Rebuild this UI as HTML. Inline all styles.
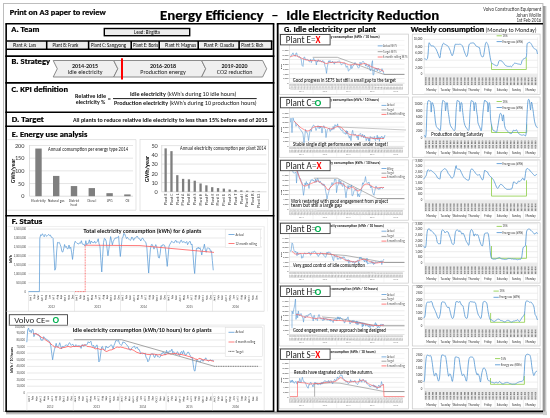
<!DOCTYPE html>
<html><head><meta charset="utf-8"><title>Energy Efficiency - Idle Electricity Reduction</title>
<style>
html,body{margin:0;padding:0;background:#fff;}
body{width:550px;height:418px;overflow:hidden;}
svg{display:block;font-family:Carlito, 'Liberation Sans', sans-serif;}
</style></head><body>
<svg width="550" height="418" viewBox="0 0 550 418">
<filter id="soft" x="0" y="0" width="550" height="418" filterUnits="userSpaceOnUse"><feGaussianBlur stdDeviation="0.35"/></filter>
<g filter="url(#soft)">
<defs><linearGradient id="shr" x1="0" y1="0" x2="1" y2="0"><stop offset="0" stop-color="#6f6f6f"/><stop offset="0.45" stop-color="#a8a8a8"/><stop offset="1" stop-color="#fff"/></linearGradient><linearGradient id="shb" x1="0" y1="0" x2="0" y2="1"><stop offset="0" stop-color="#777"/><stop offset="0.45" stop-color="#b0b0b0"/><stop offset="1" stop-color="#fff"/></linearGradient></defs>
<rect x="0" y="0" width="550" height="418" fill="#fff"/>
<rect x="543" y="6" width="4" height="406" fill="url(#shr)"/>
<rect x="6" y="411.5" width="537" height="3.6" fill="url(#shb)"/>
<path d="M543,411.5 L547,411.5 L547,415.1 L543,415.1 Z" fill="#d0d0d0"/>
<rect x="3.5" y="3.5" width="539.4" height="408" fill="#fff" stroke="#bdbdbd" stroke-width="1"/>
<text x="9.8" y="14.8" font-size="8.45" fill="#000" font-weight="bold" textLength="96" lengthAdjust="spacingAndGlyphs" stroke="#000" stroke-width="0.22">Print on A3 paper to review</text>
<text x="160" y="20.3" font-size="14.8" fill="#000" font-weight="bold" textLength="103.5" lengthAdjust="spacingAndGlyphs" stroke="#000" stroke-width="0.22">Energy Efficiency</text>
<text x="274.9" y="20.3" font-size="14.8" fill="#000" text-anchor="middle" font-weight="bold">–</text>
<text x="286.3" y="20.3" font-size="14.8" fill="#000" font-weight="bold" textLength="153" lengthAdjust="spacingAndGlyphs" stroke="#000" stroke-width="0.22">Idle Electricity Reduction</text>
<text x="541.3" y="11" font-size="4.9" fill="#333" text-anchor="end" textLength="58" lengthAdjust="spacingAndGlyphs">Volvo Construction Equipment</text>
<text x="541.3" y="16.5" font-size="4.9" fill="#333" text-anchor="end" textLength="25" lengthAdjust="spacingAndGlyphs">Johan Wollin</text>
<text x="541.3" y="21.7" font-size="4.9" fill="#333" text-anchor="end" textLength="24.8" lengthAdjust="spacingAndGlyphs">1st Feb 2016</text>
<line x1="6.15" y1="23.7" x2="6.15" y2="411.3" stroke="#000" stroke-width="1.6"/>
<line x1="273.55" y1="23.7" x2="273.55" y2="411.3" stroke="#000" stroke-width="1.6"/>
<line x1="5.35" y1="23.7" x2="274.35" y2="23.7" stroke="#000" stroke-width="1.6"/>
<line x1="5.35" y1="411.2" x2="274.35" y2="411.2" stroke="#000" stroke-width="1.6"/>
<line x1="5.35" y1="56.1" x2="274.35" y2="56.1" stroke="#000" stroke-width="1.6"/>
<line x1="5.35" y1="82.9" x2="274.35" y2="82.9" stroke="#000" stroke-width="1.6"/>
<line x1="5.35" y1="112.3" x2="274.35" y2="112.3" stroke="#000" stroke-width="1.6"/>
<line x1="5.35" y1="126.3" x2="274.35" y2="126.3" stroke="#000" stroke-width="1.6"/>
<line x1="5.35" y1="215.7" x2="274.35" y2="215.7" stroke="#000" stroke-width="1.6"/>
<line x1="277.7" y1="23.7" x2="277.7" y2="411.3" stroke="#000" stroke-width="1.8"/>
<line x1="276.8" y1="23.7" x2="543" y2="23.7" stroke="#000" stroke-width="1.6"/>
<line x1="276.8" y1="411.2" x2="543" y2="411.2" stroke="#000" stroke-width="1.6"/>
<text x="11.2" y="31.7" font-size="8.5" fill="#000" font-weight="bold" textLength="28.3" lengthAdjust="spacingAndGlyphs" stroke="#000" stroke-width="0.22">A. Team</text>
<rect x="104.3" y="28.5" width="85.4" height="7.2" fill="#ededed" stroke="#000" stroke-width="1.4"/>
<text x="134.1" y="33.9" font-size="4.9" fill="#000" textLength="25.8" lengthAdjust="spacingAndGlyphs">Lead: Birgitta</text>
<rect x="8.2" y="42" width="37.2" height="6.2" fill="#eeeeee"/>
<text x="12.9" y="46.5" font-size="5" fill="#000" textLength="23.3" lengthAdjust="spacingAndGlyphs">Plant A: Lars</text>
<rect x="48" y="42" width="39.3" height="6.2" fill="#eeeeee"/>
<text x="52.4" y="46.5" font-size="5" fill="#000" textLength="26.1" lengthAdjust="spacingAndGlyphs">Plant B: Frank</text>
<rect x="89.9" y="42" width="40" height="6.2" fill="#eeeeee"/>
<text x="91" y="46.5" font-size="5" fill="#000" textLength="35" lengthAdjust="spacingAndGlyphs">Plant C: Sangyong</text>
<rect x="132.5" y="42" width="25.4" height="6.2" fill="#eeeeee"/>
<text x="133" y="46.5" font-size="5" fill="#000" textLength="25" lengthAdjust="spacingAndGlyphs">Plant E: Boris</text>
<rect x="160.5" y="42" width="36.4" height="6.2" fill="#eeeeee"/>
<text x="164.9" y="46.5" font-size="5" fill="#000" textLength="31.2" lengthAdjust="spacingAndGlyphs">Plant H: Magnus</text>
<rect x="199.5" y="42" width="38.3" height="6.2" fill="#eeeeee"/>
<text x="203.7" y="46.5" font-size="5" fill="#000" textLength="30.6" lengthAdjust="spacingAndGlyphs">Plant P: Claudia</text>
<rect x="240.4" y="42" width="29.9" height="6.2" fill="#eeeeee"/>
<text x="241.3" y="46.5" font-size="5" fill="#000" textLength="22.1" lengthAdjust="spacingAndGlyphs">Plant S: Rich</text>
<line x1="6.5" y1="40.9" x2="272.4" y2="40.9" stroke="#000" stroke-width="1.5"/>
<line x1="6.5" y1="49.3" x2="272.4" y2="49.3" stroke="#000" stroke-width="1.5"/>
<line x1="46.7" y1="40.9" x2="46.7" y2="49.3" stroke="#000" stroke-width="1.6"/>
<line x1="88.6" y1="40.9" x2="88.6" y2="49.3" stroke="#000" stroke-width="1.6"/>
<line x1="131.2" y1="40.9" x2="131.2" y2="49.3" stroke="#000" stroke-width="1.6"/>
<line x1="159.2" y1="40.9" x2="159.2" y2="49.3" stroke="#000" stroke-width="1.6"/>
<line x1="198.2" y1="40.9" x2="198.2" y2="49.3" stroke="#000" stroke-width="1.6"/>
<line x1="239.1" y1="40.9" x2="239.1" y2="49.3" stroke="#000" stroke-width="1.6"/>
<line x1="271.6" y1="40.9" x2="271.6" y2="49.3" stroke="#000" stroke-width="1.6"/>
<text x="11.5" y="63.6" font-size="8.6" fill="#000" font-weight="bold" textLength="38.6" lengthAdjust="spacingAndGlyphs" stroke="#000" stroke-width="0.22">B. Strategy</text>
<path d="M53.2,60.5 L113.7,60.5 L117.8,68.75 L113.7,77 L53.2,77 L57.3,68.75 Z" fill="#efefef" stroke="#7f7f7f" stroke-width="0.9"/>
<path d="M113.7,60.5 L201.6,60.5 L205.7,68.75 L201.6,77 L113.7,77 L117.8,68.75 Z" fill="#efefef" stroke="#7f7f7f" stroke-width="0.9"/>
<path d="M201.6,60.5 L262.6,60.5 L266.7,68.75 L262.6,77 L201.6,77 L205.7,68.75 Z" fill="#efefef" stroke="#7f7f7f" stroke-width="0.9"/>
<text x="85.1" y="67.6" font-size="6" fill="#222" text-anchor="middle" font-weight="bold">2014-2015</text>
<text x="85.1" y="73.9" font-size="6.1" fill="#222" text-anchor="middle">Idle electricity</text>
<text x="163" y="67.6" font-size="6" fill="#222" text-anchor="middle" font-weight="bold">2016-2018</text>
<text x="163" y="73.9" font-size="6.1" fill="#222" text-anchor="middle">Production energy</text>
<text x="234.6" y="67.6" font-size="6" fill="#222" text-anchor="middle" font-weight="bold">2019-2020</text>
<text x="234.6" y="73.9" font-size="6.1" fill="#222" text-anchor="middle">CO2 reduction</text>
<line x1="122" y1="58.2" x2="122" y2="79.6" stroke="#ff0000" stroke-width="2"/>
<text x="11.5" y="92.2" font-size="8.55" fill="#000" font-weight="bold" textLength="56.5" lengthAdjust="spacingAndGlyphs" stroke="#000" stroke-width="0.22">C. KPI definition</text>
<text x="90.5" y="97.5" font-size="6" fill="#111" text-anchor="middle" font-weight="bold" textLength="31" lengthAdjust="spacingAndGlyphs">Relative idle</text>
<text x="90.5" y="103.9" font-size="6" fill="#111" text-anchor="middle" font-weight="bold" textLength="29.5" lengthAdjust="spacingAndGlyphs">electricity %</text>
<text x="109.2" y="100.6" font-size="6" fill="#111" text-anchor="middle" font-weight="bold">=</text>
<line x1="113" y1="98.6" x2="256.7" y2="98.6" stroke="#000" stroke-width="0.9"/>
<text x="130" y="95.5" font-size="6.05" fill="#111" textLength="106.4" lengthAdjust="spacingAndGlyphs"><tspan font-weight="bold">Idle electricity</tspan> (kWh’s during 10 idle hours)</text>
<text x="114" y="105.4" font-size="6.05" fill="#111" textLength="142.7" lengthAdjust="spacingAndGlyphs"><tspan font-weight="bold">Production electricity</tspan> (kWh’s during 10 production hours)</text>
<text x="11.7" y="121.9" font-size="8.7" fill="#000" font-weight="bold" textLength="32.1" lengthAdjust="spacingAndGlyphs" stroke="#000" stroke-width="0.22">D. Target</text>
<text x="73" y="121.6" font-size="5.95" fill="#111" font-weight="bold" textLength="194.6" lengthAdjust="spacingAndGlyphs">All plants to reduce relative idle electricity to less than 15% before end of 2015</text>
<text x="11.7" y="137" font-size="8.45" fill="#000" font-weight="bold" textLength="75.6" lengthAdjust="spacingAndGlyphs" stroke="#000" stroke-width="0.22">E. Energy use analysis</text>
<line x1="7.5" y1="139.6" x2="136" y2="139.6" stroke="#d9d9d9" stroke-width="0.7"/>
<line x1="136" y1="139.6" x2="136" y2="210.2" stroke="#d9d9d9" stroke-width="0.7"/>
<line x1="7.5" y1="210.2" x2="136" y2="210.2" stroke="#d9d9d9" stroke-width="0.7"/>
<line x1="29.5" y1="183.52" x2="133" y2="183.52" stroke="#dadada" stroke-width="0.7"/>
<line x1="29.5" y1="170.85" x2="133" y2="170.85" stroke="#dadada" stroke-width="0.7"/>
<line x1="29.5" y1="158.18" x2="133" y2="158.18" stroke="#dadada" stroke-width="0.7"/>
<line x1="29.5" y1="145.5" x2="133" y2="145.5" stroke="#dadada" stroke-width="0.7"/>
<line x1="29.5" y1="145" x2="29.5" y2="196.2" stroke="#d0d0d0" stroke-width="0.7"/>
<line x1="29.5" y1="196.2" x2="133" y2="196.2" stroke="#d0d0d0" stroke-width="0.7"/>
<text x="24.5" y="198.4" font-size="6.3" fill="#404040" text-anchor="end">0</text>
<text x="24.5" y="185.72" font-size="6.3" fill="#404040" text-anchor="end">50</text>
<text x="24.5" y="173.05" font-size="6.3" fill="#404040" text-anchor="end">100</text>
<text x="24.5" y="160.38" font-size="6.3" fill="#404040" text-anchor="end">150</text>
<text x="24.5" y="147.7" font-size="6.3" fill="#404040" text-anchor="end">200</text>
<rect x="35.3" y="148.54" width="6.4" height="47.66" fill="#7f7f7f"/>
<rect x="53" y="175.92" width="6.4" height="20.28" fill="#7f7f7f"/>
<rect x="70.8" y="186.06" width="6.4" height="10.14" fill="#7f7f7f"/>
<rect x="88.6" y="188.09" width="6.4" height="8.11" fill="#7f7f7f"/>
<rect x="106.4" y="193.16" width="6.4" height="3.04" fill="#7f7f7f"/>
<rect x="124.2" y="194.43" width="6.4" height="1.77" fill="#7f7f7f"/>
<text x="38.5" y="202.3" font-size="3.6" fill="#404040" text-anchor="middle">Electricity</text>
<text x="56.2" y="202.3" font-size="3.6" fill="#404040" text-anchor="middle">Natural gas</text>
<text x="74" y="202.3" font-size="3.6" fill="#404040" text-anchor="middle">District</text>
<text x="91.8" y="202.3" font-size="3.6" fill="#404040" text-anchor="middle">Diesel</text>
<text x="109.6" y="202.3" font-size="3.6" fill="#404040" text-anchor="middle">LPG</text>
<text x="127.4" y="202.3" font-size="3.6" fill="#404040" text-anchor="middle">Oil</text>
<text x="73.9" y="206.3" font-size="3.6" fill="#404040" text-anchor="middle">heat</text>
<text x="14.6" y="170.9" font-size="6.2" fill="#111" text-anchor="middle" font-weight="bold" textLength="24.5" lengthAdjust="spacingAndGlyphs" transform="rotate(-90 14.6 170.9)">GWh/year</text>
<text x="48" y="150.8" font-size="4.9" fill="#222" textLength="80" lengthAdjust="spacingAndGlyphs">Annual consumption per energy type 2014</text>
<rect x="140" y="139.5" width="128.5" height="71.3" fill="none" stroke="#d9d9d9" stroke-width="0.7"/>
<line x1="161.7" y1="182.56" x2="266.5" y2="182.56" stroke="#dadada" stroke-width="0.7"/>
<line x1="161.7" y1="173.32" x2="266.5" y2="173.32" stroke="#dadada" stroke-width="0.7"/>
<line x1="161.7" y1="164.08" x2="266.5" y2="164.08" stroke="#dadada" stroke-width="0.7"/>
<line x1="161.7" y1="154.84" x2="266.5" y2="154.84" stroke="#dadada" stroke-width="0.7"/>
<line x1="161.7" y1="145.6" x2="266.5" y2="145.6" stroke="#dadada" stroke-width="0.7"/>
<line x1="161.7" y1="145" x2="161.7" y2="191.8" stroke="#d0d0d0" stroke-width="0.7"/>
<line x1="161.7" y1="191.8" x2="266.5" y2="191.8" stroke="#d0d0d0" stroke-width="0.7"/>
<text x="157.8" y="194" font-size="6.3" fill="#404040" text-anchor="end">0</text>
<text x="157.8" y="184.76" font-size="6.3" fill="#404040" text-anchor="end">10</text>
<text x="157.8" y="175.52" font-size="6.3" fill="#404040" text-anchor="end">20</text>
<text x="157.8" y="166.28" font-size="6.3" fill="#404040" text-anchor="end">30</text>
<text x="157.8" y="157.04" font-size="6.3" fill="#404040" text-anchor="end">40</text>
<text x="157.8" y="147.8" font-size="6.3" fill="#404040" text-anchor="end">50</text>
<rect x="164.5" y="148.37" width="2.3" height="43.43" fill="#7f7f7f"/>
<text x="167" y="193.6" font-size="4.1" fill="#404040" text-anchor="end" transform="rotate(-90 167 193.6)">Plant E</text>
<rect x="170.32" y="151.14" width="2.3" height="40.66" fill="#7f7f7f"/>
<text x="172.82" y="193.6" font-size="4.1" fill="#404040" text-anchor="end" transform="rotate(-90 172.82 193.6)">Plant C</text>
<rect x="176.14" y="175.17" width="2.3" height="16.63" fill="#7f7f7f"/>
<text x="178.64" y="193.6" font-size="4.1" fill="#404040" text-anchor="end" transform="rotate(-90 178.64 193.6)">Plant L</text>
<rect x="181.96" y="178.86" width="2.3" height="12.94" fill="#7f7f7f"/>
<text x="184.46" y="193.6" font-size="4.1" fill="#404040" text-anchor="end" transform="rotate(-90 184.46 193.6)">Plant A</text>
<rect x="187.78" y="179.33" width="2.3" height="12.47" fill="#7f7f7f"/>
<text x="190.28" y="193.6" font-size="4.1" fill="#404040" text-anchor="end" transform="rotate(-90 190.28 193.6)">Plant B</text>
<rect x="193.6" y="180.71" width="2.3" height="11.09" fill="#7f7f7f"/>
<text x="196.1" y="193.6" font-size="4.1" fill="#404040" text-anchor="end" transform="rotate(-90 196.1 193.6)">Plant S</text>
<rect x="199.42" y="183.48" width="2.3" height="8.32" fill="#7f7f7f"/>
<text x="201.92" y="193.6" font-size="4.1" fill="#404040" text-anchor="end" transform="rotate(-90 201.92 193.6)">Plant H</text>
<rect x="205.24" y="185.33" width="2.3" height="6.47" fill="#7f7f7f"/>
<text x="207.74" y="193.6" font-size="4.1" fill="#404040" text-anchor="end" transform="rotate(-90 207.74 193.6)">Plant P</text>
<rect x="211.06" y="187.18" width="2.3" height="4.62" fill="#7f7f7f"/>
<text x="213.56" y="193.6" font-size="4.1" fill="#404040" text-anchor="end" transform="rotate(-90 213.56 193.6)">Plant K</text>
<rect x="216.88" y="188.1" width="2.3" height="3.7" fill="#7f7f7f"/>
<text x="219.38" y="193.6" font-size="4.1" fill="#404040" text-anchor="end" transform="rotate(-90 219.38 193.6)">Plant G</text>
<rect x="222.7" y="188.57" width="2.3" height="3.23" fill="#7f7f7f"/>
<text x="225.2" y="193.6" font-size="4.1" fill="#404040" text-anchor="end" transform="rotate(-90 225.2 193.6)">Plant U</text>
<rect x="228.52" y="189.49" width="2.3" height="2.31" fill="#7f7f7f"/>
<text x="231.02" y="193.6" font-size="4.1" fill="#404040" text-anchor="end" transform="rotate(-90 231.02 193.6)">Plant X</text>
<rect x="234.34" y="189.95" width="2.3" height="1.85" fill="#7f7f7f"/>
<text x="236.84" y="193.6" font-size="4.1" fill="#404040" text-anchor="end" transform="rotate(-90 236.84 193.6)">Plant T</text>
<rect x="240.16" y="190.41" width="2.3" height="1.39" fill="#7f7f7f"/>
<text x="242.66" y="193.6" font-size="4.1" fill="#404040" text-anchor="end" transform="rotate(-90 242.66 193.6)">Plant I</text>
<rect x="245.98" y="190.69" width="2.3" height="1.11" fill="#7f7f7f"/>
<text x="248.48" y="193.6" font-size="4.1" fill="#404040" text-anchor="end" transform="rotate(-90 248.48 193.6)">Plant W</text>
<rect x="251.8" y="190.88" width="2.3" height="0.92" fill="#7f7f7f"/>
<text x="254.3" y="193.6" font-size="4.1" fill="#404040" text-anchor="end" transform="rotate(-90 254.3 193.6)">Plant R</text>
<rect x="257.62" y="191.34" width="2.3" height="0.46" fill="#7f7f7f"/>
<text x="260.12" y="193.6" font-size="4.1" fill="#404040" text-anchor="end" transform="rotate(-90 260.12 193.6)">Plant U2</text>
<text x="149" y="169" font-size="6.2" fill="#111" text-anchor="middle" font-weight="bold" textLength="26.5" lengthAdjust="spacingAndGlyphs" transform="rotate(-90 149 169)">GWh/year</text>
<text x="180" y="150.1" font-size="4.9" fill="#222" textLength="86" lengthAdjust="spacingAndGlyphs">Annual electricity consumption per plant 2014</text>
<text x="11.8" y="223.9" font-size="8.75" fill="#000" font-weight="bold" textLength="30.4" lengthAdjust="spacingAndGlyphs" stroke="#000" stroke-width="0.22">F. Status</text>
<line x1="7.5" y1="218" x2="267.5" y2="218" stroke="#ececec" stroke-width="0.6"/>
<line x1="267.5" y1="218" x2="267.5" y2="311.3" stroke="#ececec" stroke-width="0.6"/>
<line x1="6.5" y1="311.3" x2="264.2" y2="311.3" stroke="#d9d9d9" stroke-width="0.8"/>
<line x1="264.2" y1="226.5" x2="264.2" y2="311.3" stroke="#d9d9d9" stroke-width="0.6"/>
<line x1="7.5" y1="226.5" x2="264.2" y2="226.5" stroke="#e6e6e6" stroke-width="0.6"/>
<text x="26.2" y="292.6" font-size="3.1" fill="#555" text-anchor="end">0</text>
<line x1="28.3" y1="282.67" x2="262" y2="282.67" stroke="#dadada" stroke-width="0.6"/>
<text x="26.2" y="283.67" font-size="3.1" fill="#555" text-anchor="end">500,000</text>
<line x1="28.3" y1="273.74" x2="262" y2="273.74" stroke="#dadada" stroke-width="0.6"/>
<text x="26.2" y="274.74" font-size="3.1" fill="#555" text-anchor="end">1,000,000</text>
<line x1="28.3" y1="264.81" x2="262" y2="264.81" stroke="#dadada" stroke-width="0.6"/>
<text x="26.2" y="265.81" font-size="3.1" fill="#555" text-anchor="end">1,500,000</text>
<line x1="28.3" y1="255.89" x2="262" y2="255.89" stroke="#dadada" stroke-width="0.6"/>
<text x="26.2" y="256.89" font-size="3.1" fill="#555" text-anchor="end">2,000,000</text>
<line x1="28.3" y1="246.96" x2="262" y2="246.96" stroke="#dadada" stroke-width="0.6"/>
<text x="26.2" y="247.96" font-size="3.1" fill="#555" text-anchor="end">2,500,000</text>
<line x1="28.3" y1="238.03" x2="262" y2="238.03" stroke="#dadada" stroke-width="0.6"/>
<text x="26.2" y="239.03" font-size="3.1" fill="#555" text-anchor="end">3,000,000</text>
<line x1="28.3" y1="229.1" x2="262" y2="229.1" stroke="#dadada" stroke-width="0.6"/>
<text x="26.2" y="230.1" font-size="3.1" fill="#555" text-anchor="end">3,500,000</text>
<line x1="28.3" y1="291.6" x2="262" y2="291.6" stroke="#cfcfcf" stroke-width="0.6"/>
<text x="12.2" y="259" font-size="4" fill="#111" text-anchor="middle" font-weight="bold" transform="rotate(-90 12.2 259)">kWh</text>
<text transform="translate(31.32 294.8) rotate(-89.9)" font-size="2.9" fill="#454545" text-anchor="end" font-weight="bold"><tspan x="0" y="0">Jan 1</tspan><tspan x="0" y="3.83">Feb</tspan><tspan x="0" y="7.67">Mar</tspan><tspan x="0" y="11.5">Apr 1</tspan><tspan x="0" y="15.33">May</tspan><tspan x="0" y="19.17">Jun</tspan><tspan x="0" y="23">Jul 1</tspan><tspan x="0" y="26.83">Aug</tspan><tspan x="0" y="30.67">Sep</tspan><tspan x="0" y="34.5">Oct 1</tspan><tspan x="0" y="38.33">Nov</tspan><tspan x="0" y="42.17">Dec</tspan><tspan x="0" y="46">Jan 1</tspan><tspan x="0" y="49.83">Feb</tspan><tspan x="0" y="53.67">Mar</tspan><tspan x="0" y="57.5">Apr 1</tspan><tspan x="0" y="61.33">May</tspan><tspan x="0" y="65.17">Jun</tspan><tspan x="0" y="69">Jul 1</tspan><tspan x="0" y="72.83">Aug</tspan><tspan x="0" y="76.67">Sep</tspan><tspan x="0" y="80.5">Oct 1</tspan><tspan x="0" y="84.33">Nov</tspan><tspan x="0" y="88.17">Dec</tspan><tspan x="0" y="92">Jan 1</tspan><tspan x="0" y="95.83">Feb</tspan><tspan x="0" y="99.67">Mar</tspan><tspan x="0" y="103.5">Apr 1</tspan><tspan x="0" y="107.33">May</tspan><tspan x="0" y="111.17">Jun</tspan><tspan x="0" y="115">Jul 1</tspan><tspan x="0" y="118.83">Aug</tspan><tspan x="0" y="122.67">Sep</tspan><tspan x="0" y="126.5">Oct 1</tspan><tspan x="0" y="130.33">Nov</tspan><tspan x="0" y="134.17">Dec</tspan><tspan x="0" y="138">Jan 1</tspan><tspan x="0" y="141.83">Feb</tspan><tspan x="0" y="145.67">Mar</tspan><tspan x="0" y="149.5">Apr 1</tspan><tspan x="0" y="153.33">May</tspan><tspan x="0" y="157.17">Jun</tspan><tspan x="0" y="161">Jul 1</tspan><tspan x="0" y="164.83">Aug</tspan><tspan x="0" y="168.67">Sep</tspan><tspan x="0" y="172.5">Oct 1</tspan><tspan x="0" y="176.33">Nov</tspan><tspan x="0" y="180.17">Dec</tspan><tspan x="0" y="184">Jan 1</tspan><tspan x="0" y="187.83">Feb</tspan><tspan x="0" y="191.67">Mar</tspan><tspan x="0" y="195.5">Apr 1</tspan><tspan x="0" y="199.33">May</tspan><tspan x="0" y="203.17">Jun</tspan><tspan x="0" y="207">Jul 1</tspan><tspan x="0" y="210.83">Aug</tspan><tspan x="0" y="214.67">Sep</tspan><tspan x="0" y="218.5">Oct 1</tspan><tspan x="0" y="222.33">Nov</tspan><tspan x="0" y="226.17">Dec</tspan></text>
<text x="51.5" y="307.6" font-size="3.3" fill="#595959" text-anchor="middle">2012</text>
<line x1="28.5" y1="292" x2="28.5" y2="311.3" stroke="#d9d9d9" stroke-width="0.5"/>
<text x="97.5" y="307.6" font-size="3.3" fill="#595959" text-anchor="middle">2013</text>
<line x1="74.5" y1="292" x2="74.5" y2="311.3" stroke="#d9d9d9" stroke-width="0.5"/>
<text x="143.5" y="307.6" font-size="3.3" fill="#595959" text-anchor="middle">2014</text>
<line x1="120.5" y1="292" x2="120.5" y2="311.3" stroke="#d9d9d9" stroke-width="0.5"/>
<text x="189.5" y="307.6" font-size="3.3" fill="#595959" text-anchor="middle">2015</text>
<line x1="166.5" y1="292" x2="166.5" y2="311.3" stroke="#d9d9d9" stroke-width="0.5"/>
<text x="235.5" y="307.6" font-size="3.3" fill="#595959" text-anchor="middle">2016</text>
<line x1="212.5" y1="292" x2="212.5" y2="311.3" stroke="#d9d9d9" stroke-width="0.5"/>
<polyline points="28.5,291.6 39.4,291.6 39.8,238.37 40.68,234.76 41.57,235.45 42.45,233.74 43.34,235.57 44.22,236.8 45.11,234.38 45.99,235.54 46.88,236.3 47.76,235.41 48.65,234.34 49.53,235.56 50.42,235.1 51.3,237.21 52.19,237.36 53.07,238.3 53.96,253.75 54.84,270.22 55.73,268.04 56.61,252.03 57.5,242.39 58.38,242.76 59.27,242.34 60.15,244.43 61.04,246.98 61.92,251.61 62.81,252.06 63.69,248.8 64.58,244.52 65.46,247.32 66.35,246.42 67.23,248.73 68.12,248.74 69,245.06 69.89,248.56 70.77,247.23 71.66,252.86 72.54,259.43 73.43,251.69 74.31,244.04 75.2,241.25 76.09,242.42 76.97,243.32 77.86,243.57 78.74,244.09 79.63,242.72 80.51,243.24 81.4,240.71 82.28,244.04 83.17,244.36 84.05,244.29 84.94,245.99 85.82,240.69 86.71,244.84 87.59,243.49 88.48,243.25 89.36,239.83 90.25,243.82 91.13,240.97 92.02,242.43 92.9,242.21 93.79,242.89 94.67,241.21 95.56,243.15 96.44,242.42 97.33,241.43 98.21,238.73 99.1,243.96 99.98,246.62 100.87,260.41 101.75,271.96 102.64,256.67 103.52,242.56 104.41,238.24 105.29,238.96 106.18,241.2 107.06,248.58 107.95,255.84 108.83,249.51 109.72,243.14 110.6,236.59 111.49,240.61 112.37,244.87 113.26,241.39 114.14,239.74 115.03,238.09 115.91,238.1 116.8,237.9 117.68,236.97 118.57,236.13 119.45,246.7 120.34,256.48 121.22,247.33 122.11,238.47 122.99,236.98 123.88,233.26 124.76,234.01 125.65,236.49 126.53,238.57 127.42,237.34 128.3,238.57 129.19,239.54 130.07,240.42 130.96,239.68 131.84,236.97 132.73,238.17 133.61,240.32 134.5,238.14 135.38,238.15 136.27,237.05 137.15,236.08 138.04,237.8 138.92,238.61 139.81,238.89 140.69,240.95 141.58,239.38 142.46,237.83 143.35,239.16 144.23,240.61 145.12,241.51 146,242.92 146.89,248.08 147.77,261.11 148.66,273.07 149.54,259.96 150.43,249.11 151.31,244.71 152.2,244.48 153.08,246.37 153.97,249.14 154.85,247.08 155.74,244.64 156.62,246.51 157.5,250.75 158.39,257.44 159.27,258.09 160.16,253.77 161.04,245.64 161.93,246.3 162.81,244.56 163.7,244.96 164.58,245.37 165.47,249.03 166.35,257.84 167.24,266.39 168.12,256.37 169.01,246.37 169.89,244.23 170.78,242.85 171.66,241.18 172.55,241.97 173.43,242.6 174.32,242.64 175.2,240.74 176.09,240.46 176.97,242.58 177.86,241.59 178.74,242.47 179.63,243.31 180.51,240.69 181.4,240.18 182.28,242.32 183.17,242.1 184.05,241.38 184.94,242.82 185.82,242.71 186.71,241.49 187.59,244.7 188.48,242.96 189.36,241.59 190.25,241.5 191.13,244.77 192.02,244.04 192.9,252.5 193.79,265.62 194.67,273.52 195.56,260.04 196.44,248.45 197.33,248.66 198.21,247.13 199.1,248.95 199.98,247.68 200.87,250.54 201.75,254.94 202.64,249.78 203.52,248.27 204.41,244.19 205.29,249.53 206.18,252.3 207.06,248.68 207.95,247.61 208.83,248.59 209.72,248.67 210.6,251.55 211.49,250.93 212.37,260.66 213.26,270.26" fill="none" stroke="#5b9bd5" stroke-width="0.75" stroke-linejoin="round"/>
<polyline points="75,291.6 85.2,291.6" fill="none" stroke="#ff5b5b" stroke-width="0.8" stroke-linejoin="round" stroke-dasharray="1,0.6"/>
<polyline points="85.2,291.6 85.2,245.2" fill="none" stroke="#ff5b5b" stroke-width="0.8" stroke-linejoin="round" stroke-dasharray="1,0.6"/>
<polyline points="85.2,245.2 140,245.6 214,252.4" fill="none" stroke="#ff5b5b" stroke-width="0.8" stroke-linejoin="round"/>
<text x="83.6" y="233.2" font-size="5.95" fill="#111" font-weight="bold" textLength="117.8" lengthAdjust="spacingAndGlyphs">Total  electricity consumption (kWh)  for 6 plants</text>
<rect x="225.2" y="229.5" width="35.3" height="18.2" fill="#fff" stroke="#d9d9d9" stroke-width="0.5"/>
<line x1="228.5" y1="234.5" x2="234.5" y2="234.5" stroke="#5b9bd5" stroke-width="0.8"/>
<text x="235.5" y="235.6" font-size="3.2" fill="#444">Actual</text>
<line x1="228.5" y1="243.5" x2="234.5" y2="243.5" stroke="#ff5b5b" stroke-width="0.8"/>
<text x="235.5" y="244.6" font-size="3.2" fill="#444">12 month rolling</text>
<rect x="9.3" y="314.7" width="58.2" height="10.6" fill="#fff" stroke="#3f3f3f" stroke-width="0.9"/>
<text x="14.2" y="322.9" font-size="8.9" fill="#262626">Volvo CE<tspan fill="#555">=</tspan> <tspan x="52.4" font-weight="bold" fill="#00b050" font-size="8.6" style="font-family:'Liberation Sans',sans-serif">O</tspan></text>
<line x1="7.5" y1="325.1" x2="264.2" y2="325.1" stroke="#d9d9d9" stroke-width="0.6"/>
<line x1="264.2" y1="325.1" x2="264.2" y2="410.5" stroke="#d9d9d9" stroke-width="0.6"/>
<text x="25" y="393.8" font-size="3.1" fill="#555" text-anchor="end">0</text>
<line x1="26.9" y1="386.2" x2="262" y2="386.2" stroke="#dadada" stroke-width="0.6"/>
<text x="25" y="387.2" font-size="3.1" fill="#555" text-anchor="end">10,000</text>
<line x1="26.9" y1="379.6" x2="262" y2="379.6" stroke="#dadada" stroke-width="0.6"/>
<text x="25" y="380.6" font-size="3.1" fill="#555" text-anchor="end">20,000</text>
<line x1="26.9" y1="373" x2="262" y2="373" stroke="#dadada" stroke-width="0.6"/>
<text x="25" y="374" font-size="3.1" fill="#555" text-anchor="end">30,000</text>
<line x1="26.9" y1="366.4" x2="262" y2="366.4" stroke="#dadada" stroke-width="0.6"/>
<text x="25" y="367.4" font-size="3.1" fill="#555" text-anchor="end">40,000</text>
<line x1="26.9" y1="359.8" x2="262" y2="359.8" stroke="#dadada" stroke-width="0.6"/>
<text x="25" y="360.8" font-size="3.1" fill="#555" text-anchor="end">50,000</text>
<line x1="26.9" y1="353.2" x2="262" y2="353.2" stroke="#dadada" stroke-width="0.6"/>
<text x="25" y="354.2" font-size="3.1" fill="#555" text-anchor="end">60,000</text>
<line x1="26.9" y1="346.6" x2="262" y2="346.6" stroke="#dadada" stroke-width="0.6"/>
<text x="25" y="347.6" font-size="3.1" fill="#555" text-anchor="end">70,000</text>
<line x1="26.9" y1="340" x2="262" y2="340" stroke="#dadada" stroke-width="0.6"/>
<text x="25" y="341" font-size="3.1" fill="#555" text-anchor="end">80,000</text>
<line x1="26.9" y1="333.4" x2="262" y2="333.4" stroke="#dadada" stroke-width="0.6"/>
<text x="25" y="334.4" font-size="3.1" fill="#555" text-anchor="end">90,000</text>
<line x1="26.9" y1="326.8" x2="262" y2="326.8" stroke="#dadada" stroke-width="0.6"/>
<text x="25" y="327.8" font-size="3.1" fill="#555" text-anchor="end">100,000</text>
<line x1="26.9" y1="392.8" x2="262" y2="392.8" stroke="#cfcfcf" stroke-width="0.6"/>
<text x="12.8" y="360" font-size="4" fill="#111" text-anchor="middle" font-weight="bold" transform="rotate(-90 12.8 360)">kWh / 10 hours</text>
<text transform="translate(29.73 396) rotate(-89.9)" font-size="2.9" fill="#454545" text-anchor="end" font-weight="bold"><tspan x="0" y="0">Jan 1</tspan><tspan x="0" y="3.87">Feb</tspan><tspan x="0" y="7.73">Mar</tspan><tspan x="0" y="11.6">Apr 1</tspan><tspan x="0" y="15.47">May</tspan><tspan x="0" y="19.33">Jun</tspan><tspan x="0" y="23.2">Jul 1</tspan><tspan x="0" y="27.07">Aug</tspan><tspan x="0" y="30.93">Sep</tspan><tspan x="0" y="34.8">Oct 1</tspan><tspan x="0" y="38.67">Nov</tspan><tspan x="0" y="42.53">Dec</tspan><tspan x="0" y="46.4">Jan 1</tspan><tspan x="0" y="50.27">Feb</tspan><tspan x="0" y="54.13">Mar</tspan><tspan x="0" y="58">Apr 1</tspan><tspan x="0" y="61.87">May</tspan><tspan x="0" y="65.73">Jun</tspan><tspan x="0" y="69.6">Jul 1</tspan><tspan x="0" y="73.47">Aug</tspan><tspan x="0" y="77.33">Sep</tspan><tspan x="0" y="81.2">Oct 1</tspan><tspan x="0" y="85.07">Nov</tspan><tspan x="0" y="88.93">Dec</tspan><tspan x="0" y="92.8">Jan 1</tspan><tspan x="0" y="96.67">Feb</tspan><tspan x="0" y="100.53">Mar</tspan><tspan x="0" y="104.4">Apr 1</tspan><tspan x="0" y="108.27">May</tspan><tspan x="0" y="112.13">Jun</tspan><tspan x="0" y="116">Jul 1</tspan><tspan x="0" y="119.87">Aug</tspan><tspan x="0" y="123.73">Sep</tspan><tspan x="0" y="127.6">Oct 1</tspan><tspan x="0" y="131.47">Nov</tspan><tspan x="0" y="135.33">Dec</tspan><tspan x="0" y="139.2">Jan 1</tspan><tspan x="0" y="143.07">Feb</tspan><tspan x="0" y="146.93">Mar</tspan><tspan x="0" y="150.8">Apr 1</tspan><tspan x="0" y="154.67">May</tspan><tspan x="0" y="158.53">Jun</tspan><tspan x="0" y="162.4">Jul 1</tspan><tspan x="0" y="166.27">Aug</tspan><tspan x="0" y="170.13">Sep</tspan><tspan x="0" y="174">Oct 1</tspan><tspan x="0" y="177.87">Nov</tspan><tspan x="0" y="181.73">Dec</tspan><tspan x="0" y="185.6">Jan 1</tspan><tspan x="0" y="189.47">Feb</tspan><tspan x="0" y="193.33">Mar</tspan><tspan x="0" y="197.2">Apr 1</tspan><tspan x="0" y="201.07">May</tspan><tspan x="0" y="204.93">Jun</tspan><tspan x="0" y="208.8">Jul 1</tspan><tspan x="0" y="212.67">Aug</tspan><tspan x="0" y="216.53">Sep</tspan><tspan x="0" y="220.4">Oct 1</tspan><tspan x="0" y="224.27">Nov</tspan><tspan x="0" y="228.13">Dec</tspan></text>
<text x="50.1" y="408.2" font-size="3.3" fill="#595959" text-anchor="middle">2012</text>
<line x1="26.9" y1="393.2" x2="26.9" y2="410.5" stroke="#d9d9d9" stroke-width="0.5"/>
<text x="96.5" y="408.2" font-size="3.3" fill="#595959" text-anchor="middle">2013</text>
<line x1="73.3" y1="393.2" x2="73.3" y2="410.5" stroke="#d9d9d9" stroke-width="0.5"/>
<text x="142.9" y="408.2" font-size="3.3" fill="#595959" text-anchor="middle">2014</text>
<line x1="119.7" y1="393.2" x2="119.7" y2="410.5" stroke="#d9d9d9" stroke-width="0.5"/>
<text x="189.3" y="408.2" font-size="3.3" fill="#595959" text-anchor="middle">2015</text>
<line x1="166.1" y1="393.2" x2="166.1" y2="410.5" stroke="#d9d9d9" stroke-width="0.5"/>
<text x="235.7" y="408.2" font-size="3.3" fill="#595959" text-anchor="middle">2016</text>
<line x1="212.5" y1="393.2" x2="212.5" y2="410.5" stroke="#d9d9d9" stroke-width="0.5"/>
<polyline points="26.8,342.22 27.69,329.82 28.58,328.08 29.47,331.55 30.36,330.43 31.25,332.74 32.14,329.46 33.03,329.56 33.92,336.68 34.81,334.35 35.7,332.98 36.59,333.93 37.48,335.08 38.37,334.56 39.26,336.3 40.15,336.88 41.04,340.29 41.93,339.97 42.82,340.2 43.71,336.63 44.6,337.59 45.49,339.04 46.38,339.01 47.27,340.06 48.16,340.52 49.05,341.08 49.94,342.66 50.83,346.2 51.72,353.53 52.61,359.81 53.5,354.07 54.39,349.73 55.28,346.87 56.17,343.32 57.06,346.85 57.95,346.93 58.84,345.54 59.73,342.71 60.62,345.68 61.51,348.95 62.4,346.31 63.29,346.65 64.18,346.59 65.07,345.41 65.96,345.17 66.85,344.93 67.74,345.75 68.63,343.81 69.52,342.62 70.41,344.06 71.3,345.4 72.19,344.47 73.08,344.42 73.97,346.44 74.86,346.61 75.75,344.73 76.64,345.43 77.53,346.08 78.42,345.69 79.31,345.87 80.2,345.92 81.09,348.41 81.98,344.65 82.87,344.96 83.76,346.49 84.65,344.7 85.54,344.75 86.43,345.12 87.32,343.9 88.21,341.71 89.1,342.95 89.99,342.11 90.88,341.2 91.77,345.09 92.66,346.3 93.55,345.23 94.44,348.14 95.33,347.65 96.22,345.48 97.11,344.94 98,351.16 98.89,361.9 99.78,360.53 100.67,354.03 101.56,347.11 102.45,346.38 103.34,349.3 104.23,350.17 105.12,350.19 106.01,345.98 106.9,347.63 107.79,347.52 108.68,347.4 109.57,346.18 110.46,345.35 111.35,344.78 112.24,346.15 113.13,348.86 114.02,345.33 114.91,343.22 115.8,340.54 116.69,340.66 117.58,340.95 118.47,340.19 119.36,343.27 120.25,344.47 121.14,345.45 122.03,344.64 122.92,341.81 123.81,342.44 124.7,342.39 125.59,343.72 126.48,344.43 127.37,345.87 128.26,346.46 129.15,349.72 130.04,349.74 130.93,350.19 131.82,347.85 132.71,347.29 133.6,346.66 134.49,346.09 135.38,348.55 136.27,348.11 137.16,346.99 138.05,349.34 138.94,349.2 139.83,351.06 140.72,353.87 141.61,352.96 142.5,353.92 143.39,353.25 144.28,353.84 145.17,353.19 146.06,357.65 146.95,358.16 147.84,361.8 148.73,360.82 149.62,358.14 150.51,354.97 151.4,353.94 152.29,353.86 153.18,353.89 154.07,357.09 154.96,357.46 155.85,354.41 156.74,354.54 157.63,356.75 158.52,356.7 159.41,357.32 160.3,356.91 161.19,353.68 162.08,353.96 162.97,352.16 163.86,352.47 164.75,354.74 165.64,354.49 166.53,350.31 167.42,352.4 168.31,353.59 169.2,350.93 170.09,351.14 170.98,351.23 171.87,349.17 172.76,352.8 173.65,351.64 174.54,353.19 175.43,354.46 176.32,354.34 177.21,351.74 178.1,352.4 178.99,355.09 179.88,355.41 180.77,352.11 181.66,351.4 182.55,354.03 183.44,350.58 184.33,352.88 185.22,355.15 186.11,354.91 187,353.49 187.89,352.09 188.78,352.37 189.67,354.61 190.56,355.93 191.45,357.87 192.34,357.37 193.23,364.68 194.12,370.44 195.01,371.13 195.9,364.62 196.79,359.69 197.68,360.65 198.57,361.26 199.46,361.51 200.35,361.95 201.24,359.79 202.13,359.51 203.02,361.37 203.91,359.8 204.8,359.46 205.69,357.8 206.58,359.35 207.47,360.13 208.36,361.2 209.25,360.65 210.14,359.97 211.03,360.16 211.92,360.89 212.81,360.18 213.7,360.57" fill="none" stroke="#5b9bd5" stroke-width="0.75" stroke-linejoin="round"/>
<polyline points="33,333.71 34,333.84 35,333.76 36,333.85 37,334.21 38,334.96 39,335.41 40,336.01 41,337.11 42,337.7 43,337.86 44,338.53 45,339.38 46,340.36 47,340.85 48,341.6 49,342.19 50,342.72 51,344.28 52,344.68 53,345.73 54,346.44 55,347.27 56,346.8 57,346.88 58,347.12 59,347.78 60,348.45 61,348.19 62,347.84 63,347.72 64,347.37 65,347.51 66,346.82 67,346.83 68,346.35 69,346.66 70,346.9 71,347.17 72,346.7 73,346.36 74,346.45 75,346.36 76,346.45 77,346.46 78,346.36 79,346.76 80,346.58 81,346.08 82,345.76 83,345.23 84,345.06 85,344.98 86,345.4 87,346.48 88,346.36 89,346.76 90,346.63 91,346.97 92,347.29 93,347.64 94,347.87 95,348.66 96,349.03 97,348.42 98,348.54 99,349.02 100,349.34 101,349.64 102,348.72 103,349.34 104,349.93 105,350.56 106,351.54 107,351.3 108,350.92 109,350.32 110,350.01 111,349.91 112,349.8 113,349.08 114,348.66 115,348.46 116,347.2 117,347.23 118,346.86 119,347.69 120,346.83 121,347.16 122,347.38 123,347.46 124,347.98 125,348.24 126,348.32 127,348.92 128,349.01 129,348.95 130,349.26 131,349.38 132,349.74 133,349.88 134,350.61 135,351.09 136,352 137,352.3 138,352.81 139,353.01 140,353.62 141,353.42 142,352.66 143,353.49 144,353.5 145,353.55 146,354.1 147,354.27 148,354.5 149,354.36 150,354.72 151,353.89 152,354.16 153,354.26 154,354.05 155,354.28 156,354.75 157,354.77 158,354.85 159,354.77 160,354.47 161,355.27 162,355.49 163,355.11 164,354.65 165,354.71 166,354.54 167,353.97 168,353.78 169,353.88 170,353.92 171,354.25 172,353.67 173,353.47 174,353.66 175,353.19 176,353.53 177,353.78 178,354.43 179,354 180,354.46 181,354.42 182,354.54 183,354.96 184,355.1 185,355.33 186,355.68 187,355.87 188,356.41 189,356.41 190,356.77 191,357.54 192,357.55 193,358 194,358.1 195,359.25 196,358.87 197,359.63 198,359.45 199,358.24 200,358.61 201,358.72 202,359.42 203,359.95 204,359.91 205,359.81 206,360.01 207,360.37 208,360.67 209,360.72 210,360.16 211,360.51 212,360.87 213,361.07 214,361.47" fill="none" stroke="#ff5b5b" stroke-width="0.8" stroke-linejoin="round"/>
<polyline points="73.9,339.7 121.6,339.7 214.4,366.3" fill="none" stroke="#808080" stroke-width="0.7" stroke-linejoin="round"/>
<line x1="214.4" y1="366.3" x2="258.2" y2="366.3" stroke="#404040" stroke-width="0.7" stroke-dasharray="1,0.7"/>
<text x="72.7" y="331.8" font-size="5.95" fill="#111" font-weight="bold" textLength="138.9" lengthAdjust="spacingAndGlyphs">Idle electricity consumption (kWh/10 hours)  for 6 plants</text>
<rect x="225.2" y="327.7" width="37.5" height="28.8" fill="#fff" stroke="#d9d9d9" stroke-width="0.5"/>
<line x1="228.5" y1="332.3" x2="234.5" y2="332.3" stroke="#5b9bd5" stroke-width="0.8"/>
<text x="235.5" y="333.4" font-size="3.2" fill="#444">Actual</text>
<line x1="228.5" y1="342" x2="234.5" y2="342" stroke="#ff5b5b" stroke-width="0.8"/>
<text x="235.5" y="343.1" font-size="3.2" fill="#444">6 month rolling</text>
<line x1="228.5" y1="351.4" x2="234.5" y2="351.4" stroke="#404040" stroke-width="0.8" stroke-dasharray="1,0.6"/>
<text x="235.5" y="352.5" font-size="3.2" fill="#444">Target</text>
<text x="284" y="31.8" font-size="8.35" fill="#000" font-weight="bold" textLength="91.8" lengthAdjust="spacingAndGlyphs" stroke="#000" stroke-width="0.22">G. Idle electricity per plant</text>
<text x="410.8" y="31.6" font-size="8.4" fill="#000"><tspan font-weight="bold" textLength="73.4" lengthAdjust="spacingAndGlyphs" stroke="#000" stroke-width="0.22">Weekly consumption</tspan><tspan font-size="5.95" fill="#222"> (Monday to Monday)</tspan></text>
<rect x="279.6" y="34.1" width="128.8" height="60.3" fill="#fff" stroke="#c8c8c8" stroke-width="0.7"/>
<text x="310.8" y="38" font-size="3.67" fill="#222" font-weight="bold" textLength="68.9" lengthAdjust="spacingAndGlyphs">Idle electricity consumption (kWh / 10 hours)</text>
<line x1="289.5" y1="40.51" x2="404.5" y2="40.51" stroke="#ececec" stroke-width="0.5"/>
<line x1="289.5" y1="45.26" x2="404.5" y2="45.26" stroke="#ececec" stroke-width="0.5"/>
<line x1="289.5" y1="50" x2="404.5" y2="50" stroke="#dadada" stroke-width="0.5"/>
<text x="288.6" y="50.9" font-size="2.5" fill="#444" text-anchor="end">14,000</text>
<line x1="289.5" y1="54.74" x2="404.5" y2="54.74" stroke="#dadada" stroke-width="0.5"/>
<text x="288.6" y="55.64" font-size="2.5" fill="#444" text-anchor="end">12,000</text>
<line x1="289.5" y1="59.49" x2="404.5" y2="59.49" stroke="#dadada" stroke-width="0.5"/>
<text x="288.6" y="60.39" font-size="2.5" fill="#444" text-anchor="end">10,000</text>
<line x1="289.5" y1="64.23" x2="404.5" y2="64.23" stroke="#dadada" stroke-width="0.5"/>
<text x="288.6" y="65.13" font-size="2.5" fill="#444" text-anchor="end">8,000</text>
<line x1="289.5" y1="68.97" x2="404.5" y2="68.97" stroke="#dadada" stroke-width="0.5"/>
<text x="288.6" y="69.87" font-size="2.5" fill="#444" text-anchor="end">6,000</text>
<line x1="289.5" y1="73.71" x2="404.5" y2="73.71" stroke="#dadada" stroke-width="0.5"/>
<text x="288.6" y="74.61" font-size="2.5" fill="#444" text-anchor="end">4,000</text>
<line x1="289.5" y1="78.46" x2="404.5" y2="78.46" stroke="#dadada" stroke-width="0.5"/>
<text x="288.6" y="79.36" font-size="2.5" fill="#444" text-anchor="end">2,000</text>
<line x1="289.5" y1="83.2" x2="404.5" y2="83.2" stroke="#c8c8c8" stroke-width="0.5"/>
<text x="288.6" y="84.1" font-size="2.5" fill="#444" text-anchor="end">0</text>
<line x1="289.5" y1="40.51" x2="289.5" y2="83.2" stroke="#cfcfcf" stroke-width="0.5"/>
<text x="282.3" y="66.6" font-size="2.4" fill="#333" text-anchor="middle" font-weight="bold" transform="rotate(-90 282.3 66.6)">kWh</text>
<text transform="translate(290.2 84) rotate(-89.9)" font-size="2" fill="#8a8a8a" text-anchor="end" font-weight="bold"><tspan x="0" y="0">Jan-12</tspan><tspan x="0" y="1.48">Jan-12</tspan><tspan x="0" y="2.96">Jan-12</tspan><tspan x="0" y="4.44">Jan-12</tspan><tspan x="0" y="5.92">Jan-12</tspan><tspan x="0" y="7.4">Jan-12</tspan><tspan x="0" y="8.88">Jan-12</tspan><tspan x="0" y="10.36">Jan-12</tspan><tspan x="0" y="11.84">Jan-12</tspan><tspan x="0" y="13.32">Jan-12</tspan><tspan x="0" y="14.8">Jan-12</tspan><tspan x="0" y="16.28">Jan-12</tspan><tspan x="0" y="17.76">Jan-12</tspan><tspan x="0" y="19.24">Jan-12</tspan><tspan x="0" y="20.72">Jan-12</tspan><tspan x="0" y="22.2">Jan-12</tspan><tspan x="0" y="23.68">Jan-12</tspan><tspan x="0" y="25.16">Jan-12</tspan><tspan x="0" y="26.64">Jan-12</tspan><tspan x="0" y="28.12">Jan-12</tspan><tspan x="0" y="29.6">Jan-12</tspan><tspan x="0" y="31.08">Jan-12</tspan><tspan x="0" y="32.56">Jan-12</tspan><tspan x="0" y="34.04">Jan-12</tspan><tspan x="0" y="35.52">Jan-12</tspan><tspan x="0" y="37">Jan-12</tspan><tspan x="0" y="38.48">Jan-12</tspan><tspan x="0" y="39.96">Jan-12</tspan><tspan x="0" y="41.44">Jan-12</tspan><tspan x="0" y="42.92">Jan-12</tspan><tspan x="0" y="44.4">Jan-12</tspan><tspan x="0" y="45.88">Jan-12</tspan><tspan x="0" y="47.36">Jan-12</tspan><tspan x="0" y="48.84">Jan-12</tspan><tspan x="0" y="50.32">Jan-12</tspan><tspan x="0" y="51.8">Jan-12</tspan><tspan x="0" y="53.28">Jan-12</tspan><tspan x="0" y="54.76">Jan-12</tspan><tspan x="0" y="56.24">Jan-12</tspan><tspan x="0" y="57.72">Jan-12</tspan><tspan x="0" y="59.2">Jan-12</tspan><tspan x="0" y="60.68">Jan-12</tspan><tspan x="0" y="62.16">Jan-12</tspan><tspan x="0" y="63.64">Jan-12</tspan><tspan x="0" y="65.12">Jan-12</tspan><tspan x="0" y="66.6">Jan-12</tspan><tspan x="0" y="68.08">Jan-12</tspan><tspan x="0" y="69.56">Jan-12</tspan><tspan x="0" y="71.04">Jan-12</tspan><tspan x="0" y="72.52">Jan-12</tspan><tspan x="0" y="74">Jan-12</tspan><tspan x="0" y="75.48">Jan-12</tspan><tspan x="0" y="76.96">Jan-12</tspan><tspan x="0" y="78.44">Jan-12</tspan><tspan x="0" y="79.92">Jan-12</tspan><tspan x="0" y="81.4">Jan-12</tspan><tspan x="0" y="82.88">Jan-12</tspan><tspan x="0" y="84.36">Jan-12</tspan><tspan x="0" y="85.84">Jan-12</tspan><tspan x="0" y="87.32">Jan-12</tspan><tspan x="0" y="88.8">Jan-12</tspan><tspan x="0" y="90.28">Jan-12</tspan><tspan x="0" y="91.76">Jan-12</tspan><tspan x="0" y="93.24">Jan-12</tspan><tspan x="0" y="94.72">Jan-12</tspan><tspan x="0" y="96.2">Jan-12</tspan><tspan x="0" y="97.68">Jan-12</tspan><tspan x="0" y="99.16">Jan-12</tspan><tspan x="0" y="100.64">Jan-12</tspan><tspan x="0" y="102.12">Jan-12</tspan><tspan x="0" y="103.6">Jan-12</tspan><tspan x="0" y="105.08">Jan-12</tspan><tspan x="0" y="106.56">Jan-12</tspan><tspan x="0" y="108.04">Jan-12</tspan><tspan x="0" y="109.52">Jan-12</tspan><tspan x="0" y="111">Jan-12</tspan><tspan x="0" y="112.48">Jan-12</tspan></text>
<text x="301.3" y="91.7" font-size="2.4" fill="#8a8a8a" text-anchor="middle">2012</text>
<text x="324.9" y="91.7" font-size="2.4" fill="#8a8a8a" text-anchor="middle">2013</text>
<line x1="313.1" y1="84.2" x2="313.1" y2="93.6" stroke="#e6e6e6" stroke-width="0.4"/>
<text x="348.5" y="91.7" font-size="2.4" fill="#8a8a8a" text-anchor="middle">2014</text>
<line x1="336.7" y1="84.2" x2="336.7" y2="93.6" stroke="#e6e6e6" stroke-width="0.4"/>
<text x="372.1" y="91.7" font-size="2.4" fill="#8a8a8a" text-anchor="middle">2015</text>
<line x1="360.3" y1="84.2" x2="360.3" y2="93.6" stroke="#e6e6e6" stroke-width="0.4"/>
<text x="395.7" y="91.7" font-size="2.4" fill="#8a8a8a" text-anchor="middle">2016</text>
<line x1="383.9" y1="84.2" x2="383.9" y2="93.6" stroke="#e6e6e6" stroke-width="0.4"/>
<polyline points="312.7,57.3 337.3,57.3 384,74.5" fill="none" stroke="#8c8c8c" stroke-width="0.65" stroke-linejoin="round"/>
<polyline points="384,74.5 404.5,74.5" fill="none" stroke="#6e6e6e" stroke-width="0.65" stroke-linejoin="round"/>
<polyline points="290,55.91 290.75,56.28 291.5,55.73 292.25,53.97 293,52.82 294,55.34 294.67,55.8 295.33,56.29 296,52.97 296.67,52.94 297.33,55.87 298,56.19 298.75,57.31 299.5,56.48 300,57.62 301,58.15 302,65.31 303,66.46 304,56.98 304.67,57.08 305.33,59.3 306,60.19 306.67,59.34 307.33,59.41 308,59.64 308.67,60.8 309.33,61.95 310,61.42 310.67,59.22 311.33,62.68 312,60.72 313,59.6 313.67,58.38 314.33,60.47 315,59.97 315.67,61.01 316.33,64.97 317,60.87 317.67,62.07 318.33,59.76 319,61.26 320,60.81 320.67,60.63 321.33,61.81 322,62.18 322.75,60.46 323.5,62.1 324.25,61.75 325,66.33 325.75,67.83 326.5,73.35 327.25,67.34 328,63.25 328.67,60.84 329.33,62.23 330,60.46 330.67,62.64 331.33,62.48 332,62.28 332.6,61.01 333.2,62.9 333.8,62.7 334.4,64.2 335,61.73 335.6,62.59 336.2,62.53 336.8,62.14 337.4,61.92 338,61.77 338.67,61.08 339.33,60.77 340,61.85 340.67,63.37 341.33,64.87 342,64.47 342.67,64.02 343.33,63.16 344,62.52 344.75,63.09 345.5,65.04 346.25,67.41 347,65.82 347.67,66.41 348.33,71.12 349,70.56 349.67,69.99 350.33,68.6 351,64.65 351.67,68.7 352.33,67.94 353,65.49 353.67,65.53 354.33,64.27 355,62.38 355.67,63.41 356.33,64.29 357,65.5 357.75,67.07 358.5,68.18 359.25,67.28 360,62.19 360.67,63.78 361.33,64.21 362,62.27 363,61.15 363.67,61.92 364.33,63.33 365,63.7 365.67,66.08 366.33,63.9 367,65.89 367.67,67.33 368.33,66.88 369,64.41 369.67,68.41 370.33,70.91 371,69.61 371.75,63.62 372.5,60.66 373,75.12 373.75,74.71 374.5,69.13 375.25,68.01 376,69.55 376.67,68.1 377.33,70.93 378,68.35 378.67,68.65 379.33,70.54 380,71.94 380.67,71.38 381.33,71.16 382,68.68 382.67,70.84 383.33,72.09 384,74" fill="none" stroke="#5b9bd5" stroke-width="0.6" stroke-linejoin="round"/>
<polyline points="290,57 291.3,56.48 293.15,55.8 295,55.5 296.67,55.91 298.33,56.7 300,57.5 301.67,58.2 303.33,58.91 305,59.5 306.48,59.93 307.96,60.24 310,60.5 313.11,60.63 316.78,60.7 320,61 322.37,61.81 324.3,62.85 326,63.5 327.26,63.4 328.3,62.9 330,62.5 333.07,62.33 336.81,62.26 340,62.3 342.04,62.49 343.52,62.79 345,63.2 346.67,63.84 348.33,64.57 350,65 351.67,64.82 353.33,64.33 355,64 356.67,64.11 358.33,64.39 360,64.5 361.67,64.15 363.33,63.63 365,63.5 366.67,64.09 368.33,65.07 370,66 371.67,66.72 373.33,67.39 375,68 376.7,68.52 378.41,68.98 380,69.5 381.56,70.2 383,70.96 384,71.5" fill="none" stroke="#ff5b5b" stroke-width="0.65" stroke-linejoin="round"/>
<line x1="377.7" y1="45.9" x2="382.7" y2="45.9" stroke="#5b9bd5" stroke-width="0.8"/>
<text x="383.1" y="46.9" font-size="2.9" fill="#555">Actual SE75</text>
<line x1="377.7" y1="51.7" x2="382.7" y2="51.7" stroke="#8c8c8c" stroke-width="0.8"/>
<text x="383.1" y="52.7" font-size="2.9" fill="#555">Target SE75</text>
<line x1="377.7" y1="57" x2="382.7" y2="57" stroke="#ff5b5b" stroke-width="0.8"/>
<text x="383.1" y="58" font-size="2.9" fill="#555">6 month rolling SE75</text>
<text x="292.8" y="82.4" font-size="4.9" fill="#000" textLength="103" lengthAdjust="spacingAndGlyphs">Good progress in SE75 but still a small gap to the target</text>
<rect x="280.5" y="34.5" width="49.6" height="10.4" fill="#fff" stroke="#3f3f3f" stroke-width="0.9"/>
<text x="285.7" y="43.3" font-size="9.1" fill="#262626">Plant E<tspan fill="#555">=</tspan><tspan font-weight="bold" fill="#ff0000">X</tspan></text>
<rect x="279.6" y="97" width="128.8" height="60.3" fill="#fff" stroke="#c8c8c8" stroke-width="0.7"/>
<text x="310.3" y="100.9" font-size="3.67" fill="#222" font-weight="bold" textLength="68.9" lengthAdjust="spacingAndGlyphs">Idle electricity consumption (kWh / 10 hours)</text>
<line x1="289.5" y1="102.94" x2="404.5" y2="102.94" stroke="#ececec" stroke-width="0.5"/>
<line x1="289.5" y1="107.77" x2="404.5" y2="107.77" stroke="#ececec" stroke-width="0.5"/>
<line x1="289.5" y1="112.6" x2="404.5" y2="112.6" stroke="#dadada" stroke-width="0.5"/>
<text x="288.6" y="113.5" font-size="2.5" fill="#444" text-anchor="end">14,000</text>
<line x1="289.5" y1="117.43" x2="404.5" y2="117.43" stroke="#dadada" stroke-width="0.5"/>
<text x="288.6" y="118.33" font-size="2.5" fill="#444" text-anchor="end">12,000</text>
<line x1="289.5" y1="122.26" x2="404.5" y2="122.26" stroke="#dadada" stroke-width="0.5"/>
<text x="288.6" y="123.16" font-size="2.5" fill="#444" text-anchor="end">10,000</text>
<line x1="289.5" y1="127.09" x2="404.5" y2="127.09" stroke="#dadada" stroke-width="0.5"/>
<text x="288.6" y="127.99" font-size="2.5" fill="#444" text-anchor="end">8,000</text>
<line x1="289.5" y1="131.91" x2="404.5" y2="131.91" stroke="#dadada" stroke-width="0.5"/>
<text x="288.6" y="132.81" font-size="2.5" fill="#444" text-anchor="end">6,000</text>
<line x1="289.5" y1="136.74" x2="404.5" y2="136.74" stroke="#dadada" stroke-width="0.5"/>
<text x="288.6" y="137.64" font-size="2.5" fill="#444" text-anchor="end">4,000</text>
<line x1="289.5" y1="141.57" x2="404.5" y2="141.57" stroke="#dadada" stroke-width="0.5"/>
<text x="288.6" y="142.47" font-size="2.5" fill="#444" text-anchor="end">2,000</text>
<line x1="289.5" y1="146.4" x2="404.5" y2="146.4" stroke="#c8c8c8" stroke-width="0.5"/>
<text x="288.6" y="147.3" font-size="2.5" fill="#444" text-anchor="end">0</text>
<line x1="289.5" y1="102.94" x2="289.5" y2="146.4" stroke="#cfcfcf" stroke-width="0.5"/>
<text x="282.3" y="129.5" font-size="2.4" fill="#333" text-anchor="middle" font-weight="bold" transform="rotate(-90 282.3 129.5)">kWh</text>
<text transform="translate(290.2 147.2) rotate(-89.9)" font-size="2" fill="#8a8a8a" text-anchor="end" font-weight="bold"><tspan x="0" y="0">Jan-12</tspan><tspan x="0" y="1.48">Jan-12</tspan><tspan x="0" y="2.96">Jan-12</tspan><tspan x="0" y="4.44">Jan-12</tspan><tspan x="0" y="5.92">Jan-12</tspan><tspan x="0" y="7.4">Jan-12</tspan><tspan x="0" y="8.88">Jan-12</tspan><tspan x="0" y="10.36">Jan-12</tspan><tspan x="0" y="11.84">Jan-12</tspan><tspan x="0" y="13.32">Jan-12</tspan><tspan x="0" y="14.8">Jan-12</tspan><tspan x="0" y="16.28">Jan-12</tspan><tspan x="0" y="17.76">Jan-12</tspan><tspan x="0" y="19.24">Jan-12</tspan><tspan x="0" y="20.72">Jan-12</tspan><tspan x="0" y="22.2">Jan-12</tspan><tspan x="0" y="23.68">Jan-12</tspan><tspan x="0" y="25.16">Jan-12</tspan><tspan x="0" y="26.64">Jan-12</tspan><tspan x="0" y="28.12">Jan-12</tspan><tspan x="0" y="29.6">Jan-12</tspan><tspan x="0" y="31.08">Jan-12</tspan><tspan x="0" y="32.56">Jan-12</tspan><tspan x="0" y="34.04">Jan-12</tspan><tspan x="0" y="35.52">Jan-12</tspan><tspan x="0" y="37">Jan-12</tspan><tspan x="0" y="38.48">Jan-12</tspan><tspan x="0" y="39.96">Jan-12</tspan><tspan x="0" y="41.44">Jan-12</tspan><tspan x="0" y="42.92">Jan-12</tspan><tspan x="0" y="44.4">Jan-12</tspan><tspan x="0" y="45.88">Jan-12</tspan><tspan x="0" y="47.36">Jan-12</tspan><tspan x="0" y="48.84">Jan-12</tspan><tspan x="0" y="50.32">Jan-12</tspan><tspan x="0" y="51.8">Jan-12</tspan><tspan x="0" y="53.28">Jan-12</tspan><tspan x="0" y="54.76">Jan-12</tspan><tspan x="0" y="56.24">Jan-12</tspan><tspan x="0" y="57.72">Jan-12</tspan><tspan x="0" y="59.2">Jan-12</tspan><tspan x="0" y="60.68">Jan-12</tspan><tspan x="0" y="62.16">Jan-12</tspan><tspan x="0" y="63.64">Jan-12</tspan><tspan x="0" y="65.12">Jan-12</tspan><tspan x="0" y="66.6">Jan-12</tspan><tspan x="0" y="68.08">Jan-12</tspan><tspan x="0" y="69.56">Jan-12</tspan><tspan x="0" y="71.04">Jan-12</tspan><tspan x="0" y="72.52">Jan-12</tspan><tspan x="0" y="74">Jan-12</tspan><tspan x="0" y="75.48">Jan-12</tspan><tspan x="0" y="76.96">Jan-12</tspan><tspan x="0" y="78.44">Jan-12</tspan><tspan x="0" y="79.92">Jan-12</tspan><tspan x="0" y="81.4">Jan-12</tspan><tspan x="0" y="82.88">Jan-12</tspan><tspan x="0" y="84.36">Jan-12</tspan><tspan x="0" y="85.84">Jan-12</tspan><tspan x="0" y="87.32">Jan-12</tspan><tspan x="0" y="88.8">Jan-12</tspan><tspan x="0" y="90.28">Jan-12</tspan><tspan x="0" y="91.76">Jan-12</tspan><tspan x="0" y="93.24">Jan-12</tspan><tspan x="0" y="94.72">Jan-12</tspan><tspan x="0" y="96.2">Jan-12</tspan><tspan x="0" y="97.68">Jan-12</tspan><tspan x="0" y="99.16">Jan-12</tspan><tspan x="0" y="100.64">Jan-12</tspan><tspan x="0" y="102.12">Jan-12</tspan><tspan x="0" y="103.6">Jan-12</tspan><tspan x="0" y="105.08">Jan-12</tspan><tspan x="0" y="106.56">Jan-12</tspan><tspan x="0" y="108.04">Jan-12</tspan><tspan x="0" y="109.52">Jan-12</tspan><tspan x="0" y="111">Jan-12</tspan><tspan x="0" y="112.48">Jan-12</tspan></text>
<text x="301.3" y="154.6" font-size="2.4" fill="#8a8a8a" text-anchor="middle">2012</text>
<text x="324.9" y="154.6" font-size="2.4" fill="#8a8a8a" text-anchor="middle">2013</text>
<line x1="313.1" y1="147.4" x2="313.1" y2="156.5" stroke="#e6e6e6" stroke-width="0.4"/>
<text x="348.5" y="154.6" font-size="2.4" fill="#8a8a8a" text-anchor="middle">2014</text>
<line x1="336.7" y1="147.4" x2="336.7" y2="156.5" stroke="#e6e6e6" stroke-width="0.4"/>
<text x="372.1" y="154.6" font-size="2.4" fill="#8a8a8a" text-anchor="middle">2015</text>
<line x1="360.3" y1="147.4" x2="360.3" y2="156.5" stroke="#e6e6e6" stroke-width="0.4"/>
<text x="395.7" y="154.6" font-size="2.4" fill="#8a8a8a" text-anchor="middle">2016</text>
<line x1="383.9" y1="147.4" x2="383.9" y2="156.5" stroke="#e6e6e6" stroke-width="0.4"/>
<polyline points="339,127 406,130" fill="none" stroke="#b0b0b0" stroke-width="0.7" stroke-linejoin="round"/>
<polyline points="290.5,122.12 291,118.11 292,132.65 293,117.84 294,121.19 294.67,121.54 295.33,122.33 296,126.31 296.67,124.59 297.33,124.32 298,125.05 298.67,126.45 299.33,128.43 300,129.18 300.67,129.93 301.33,131.23 302,131.5 303,134.12 304,142.88 304.75,136.58 305.5,129.42 306.25,132.07 307,132.25 307.75,134.81 308.5,140.66 309.25,135.84 310,130.57 310.67,129.59 311.33,131.46 312,127.06 312.75,126.54 313.5,124.99 314.25,125.59 315,126.43 316,130.53 316.67,128.75 317.33,127.47 318,125.58 318.6,127.39 319.2,128.81 319.8,126.02 320.4,127.9 321,126.35 322,133.05 323,126.66 324,125.68 324.67,128.51 325.33,129.09 326,137.56 326.67,133.2 327.33,129.89 328,128.89 328.67,128.37 329.33,128.13 330,131.53 330.67,131.01 331.33,128.72 332,130.08 332.6,129.07 333.2,126.44 333.8,129.44 334.4,127.25 335,124.64 335.67,126.2 336.33,125.63 337,126.38 337.6,123.83 338.2,127.09 338.8,127.64 339.4,127.73 340,127.99 340.67,129.9 341.33,130.21 342,130.36 342.6,129.6 343.2,132.64 343.8,133.31 344.4,133.01 345,133.33 345.6,134.36 346.2,130.46 346.8,134.07 347.4,130.99 348,134.57 348.67,136.47 349.33,138.21 350,135.72 351,140.61 352,132.53 352.67,130.3 353.33,134.57 354,134.62 354.6,134.97 355.2,133.94 355.8,135.29 356.4,135.86 357,137.77 357.6,136.23 358.2,139.93 358.8,134.8 359.4,134.11 360,133.96 360.67,133.49 361.33,136.95 362,136.61 362.6,134.29 363.2,136.15 363.8,137.98 364.4,135.05 365,137.09 365.6,137.06 366.2,140.71 366.8,138.82 367.4,137.82 368,137.78 368.57,140.91 369.14,138.05 369.71,141.33 370.29,136.52 370.86,137.78 371.43,137.78 372,137.11 372.6,137.79 373.2,139.14 373.8,137.58 374.4,136.5 375,140.14 375.56,140.66 376.11,137.87 376.67,138.9 377.22,135.21 377.78,139.6 378.33,136.92 378.89,137.67 379.44,141.33 380,137.18 380.57,138.53 381.14,137.29 381.71,136.2 382.29,137.06 382.86,139.1 383.43,137.29 384,138.12 385,135" fill="none" stroke="#5b9bd5" stroke-width="0.6" stroke-linejoin="round"/>
<polyline points="294,121 295.67,122.7 298,125.07 300,127 301.19,127.96 302.04,128.48 303,129 304.3,129.78 305.7,130.56 307,131 308.04,130.96 308.96,130.59 310,130 311.19,129.06 312.48,127.89 314,127 315.85,126.59 317.93,126.46 320,126.5 322.07,126.7 324.15,127.07 326,127.5 327.48,128.06 328.74,128.67 330,129 331.33,128.87 332.67,128.46 334,128 335.33,127.43 336.67,126.8 338,126.5 339.33,126.69 340.67,127.2 342,128 343.33,129.2 344.67,130.69 346,132 347.33,133.02 348.67,133.87 350,134.5 351.33,134.81 352.67,134.91 354,135 355.33,135.17 356.67,135.33 358,135.5 359.33,135.63 360.67,135.76 362,136 363.33,136.46 364.67,137.04 366,137.5 367.3,137.74 368.59,137.87 370,138 371.44,138.19 373,138.37 375,138.5 378.04,138.54 381.52,138.52 384,138.5" fill="none" stroke="#ff5b5b" stroke-width="0.65" stroke-linejoin="round"/>
<line x1="381.5" y1="105.4" x2="386.5" y2="105.4" stroke="#5b9bd5" stroke-width="0.8"/>
<text x="386.9" y="106.4" font-size="2.9" fill="#555">Actual</text>
<line x1="381.5" y1="109.9" x2="386.5" y2="109.9" stroke="#8c8c8c" stroke-width="0.8"/>
<text x="386.9" y="110.9" font-size="2.9" fill="#555">Target</text>
<line x1="381.5" y1="114.4" x2="386.5" y2="114.4" stroke="#ff5b5b" stroke-width="0.8"/>
<text x="386.9" y="115.4" font-size="2.9" fill="#555">6 month rolling</text>
<text x="293" y="146.2" font-size="4.9" fill="#000" textLength="95" lengthAdjust="spacingAndGlyphs">Stable single digit performance well under target!</text>
<rect x="280.5" y="97.4" width="49.6" height="10.4" fill="#fff" stroke="#3f3f3f" stroke-width="0.9"/>
<text x="285.7" y="106.2" font-size="9.1" fill="#262626">Plant C<tspan fill="#555">=</tspan><tspan x="314.5" font-weight="bold" fill="#00b050" font-size="8.9" style="font-family:'Liberation Sans',sans-serif">O</tspan></text>
<rect x="279.6" y="159.9" width="128.8" height="60.3" fill="#fff" stroke="#c8c8c8" stroke-width="0.7"/>
<text x="311.5" y="163.8" font-size="3.67" fill="#222" font-weight="bold" textLength="68.9" lengthAdjust="spacingAndGlyphs">Idle electricity consumption (kWh / 10 hours)</text>
<line x1="289.5" y1="165.67" x2="404.5" y2="165.67" stroke="#ececec" stroke-width="0.5"/>
<line x1="289.5" y1="170.49" x2="404.5" y2="170.49" stroke="#ececec" stroke-width="0.5"/>
<line x1="289.5" y1="175.3" x2="404.5" y2="175.3" stroke="#dadada" stroke-width="0.5"/>
<text x="288.6" y="176.2" font-size="2.5" fill="#444" text-anchor="end">14,000</text>
<line x1="289.5" y1="180.11" x2="404.5" y2="180.11" stroke="#dadada" stroke-width="0.5"/>
<text x="288.6" y="181.01" font-size="2.5" fill="#444" text-anchor="end">12,000</text>
<line x1="289.5" y1="184.93" x2="404.5" y2="184.93" stroke="#dadada" stroke-width="0.5"/>
<text x="288.6" y="185.83" font-size="2.5" fill="#444" text-anchor="end">10,000</text>
<line x1="289.5" y1="189.74" x2="404.5" y2="189.74" stroke="#dadada" stroke-width="0.5"/>
<text x="288.6" y="190.64" font-size="2.5" fill="#444" text-anchor="end">8,000</text>
<line x1="289.5" y1="194.56" x2="404.5" y2="194.56" stroke="#dadada" stroke-width="0.5"/>
<text x="288.6" y="195.46" font-size="2.5" fill="#444" text-anchor="end">6,000</text>
<line x1="289.5" y1="199.37" x2="404.5" y2="199.37" stroke="#dadada" stroke-width="0.5"/>
<text x="288.6" y="200.27" font-size="2.5" fill="#444" text-anchor="end">4,000</text>
<line x1="289.5" y1="204.19" x2="404.5" y2="204.19" stroke="#dadada" stroke-width="0.5"/>
<text x="288.6" y="205.09" font-size="2.5" fill="#444" text-anchor="end">2,000</text>
<line x1="289.5" y1="209" x2="404.5" y2="209" stroke="#c8c8c8" stroke-width="0.5"/>
<text x="288.6" y="209.9" font-size="2.5" fill="#444" text-anchor="end">0</text>
<line x1="289.5" y1="165.67" x2="289.5" y2="209" stroke="#cfcfcf" stroke-width="0.5"/>
<text x="282.3" y="192.15" font-size="2.4" fill="#333" text-anchor="middle" font-weight="bold" transform="rotate(-90 282.3 192.15)">kWh</text>
<text transform="translate(290.2 209.8) rotate(-89.9)" font-size="2" fill="#8a8a8a" text-anchor="end" font-weight="bold"><tspan x="0" y="0">Jan-12</tspan><tspan x="0" y="1.48">Jan-12</tspan><tspan x="0" y="2.96">Jan-12</tspan><tspan x="0" y="4.44">Jan-12</tspan><tspan x="0" y="5.92">Jan-12</tspan><tspan x="0" y="7.4">Jan-12</tspan><tspan x="0" y="8.88">Jan-12</tspan><tspan x="0" y="10.36">Jan-12</tspan><tspan x="0" y="11.84">Jan-12</tspan><tspan x="0" y="13.32">Jan-12</tspan><tspan x="0" y="14.8">Jan-12</tspan><tspan x="0" y="16.28">Jan-12</tspan><tspan x="0" y="17.76">Jan-12</tspan><tspan x="0" y="19.24">Jan-12</tspan><tspan x="0" y="20.72">Jan-12</tspan><tspan x="0" y="22.2">Jan-12</tspan><tspan x="0" y="23.68">Jan-12</tspan><tspan x="0" y="25.16">Jan-12</tspan><tspan x="0" y="26.64">Jan-12</tspan><tspan x="0" y="28.12">Jan-12</tspan><tspan x="0" y="29.6">Jan-12</tspan><tspan x="0" y="31.08">Jan-12</tspan><tspan x="0" y="32.56">Jan-12</tspan><tspan x="0" y="34.04">Jan-12</tspan><tspan x="0" y="35.52">Jan-12</tspan><tspan x="0" y="37">Jan-12</tspan><tspan x="0" y="38.48">Jan-12</tspan><tspan x="0" y="39.96">Jan-12</tspan><tspan x="0" y="41.44">Jan-12</tspan><tspan x="0" y="42.92">Jan-12</tspan><tspan x="0" y="44.4">Jan-12</tspan><tspan x="0" y="45.88">Jan-12</tspan><tspan x="0" y="47.36">Jan-12</tspan><tspan x="0" y="48.84">Jan-12</tspan><tspan x="0" y="50.32">Jan-12</tspan><tspan x="0" y="51.8">Jan-12</tspan><tspan x="0" y="53.28">Jan-12</tspan><tspan x="0" y="54.76">Jan-12</tspan><tspan x="0" y="56.24">Jan-12</tspan><tspan x="0" y="57.72">Jan-12</tspan><tspan x="0" y="59.2">Jan-12</tspan><tspan x="0" y="60.68">Jan-12</tspan><tspan x="0" y="62.16">Jan-12</tspan><tspan x="0" y="63.64">Jan-12</tspan><tspan x="0" y="65.12">Jan-12</tspan><tspan x="0" y="66.6">Jan-12</tspan><tspan x="0" y="68.08">Jan-12</tspan><tspan x="0" y="69.56">Jan-12</tspan><tspan x="0" y="71.04">Jan-12</tspan><tspan x="0" y="72.52">Jan-12</tspan><tspan x="0" y="74">Jan-12</tspan><tspan x="0" y="75.48">Jan-12</tspan><tspan x="0" y="76.96">Jan-12</tspan><tspan x="0" y="78.44">Jan-12</tspan><tspan x="0" y="79.92">Jan-12</tspan><tspan x="0" y="81.4">Jan-12</tspan><tspan x="0" y="82.88">Jan-12</tspan><tspan x="0" y="84.36">Jan-12</tspan><tspan x="0" y="85.84">Jan-12</tspan><tspan x="0" y="87.32">Jan-12</tspan><tspan x="0" y="88.8">Jan-12</tspan><tspan x="0" y="90.28">Jan-12</tspan><tspan x="0" y="91.76">Jan-12</tspan><tspan x="0" y="93.24">Jan-12</tspan><tspan x="0" y="94.72">Jan-12</tspan><tspan x="0" y="96.2">Jan-12</tspan><tspan x="0" y="97.68">Jan-12</tspan><tspan x="0" y="99.16">Jan-12</tspan><tspan x="0" y="100.64">Jan-12</tspan><tspan x="0" y="102.12">Jan-12</tspan><tspan x="0" y="103.6">Jan-12</tspan><tspan x="0" y="105.08">Jan-12</tspan><tspan x="0" y="106.56">Jan-12</tspan><tspan x="0" y="108.04">Jan-12</tspan><tspan x="0" y="109.52">Jan-12</tspan><tspan x="0" y="111">Jan-12</tspan><tspan x="0" y="112.48">Jan-12</tspan></text>
<text x="301.3" y="217.5" font-size="2.4" fill="#8a8a8a" text-anchor="middle">2012</text>
<text x="324.9" y="217.5" font-size="2.4" fill="#8a8a8a" text-anchor="middle">2013</text>
<line x1="313.1" y1="210" x2="313.1" y2="219.4" stroke="#e6e6e6" stroke-width="0.4"/>
<text x="348.5" y="217.5" font-size="2.4" fill="#8a8a8a" text-anchor="middle">2014</text>
<line x1="336.7" y1="210" x2="336.7" y2="219.4" stroke="#e6e6e6" stroke-width="0.4"/>
<text x="372.1" y="217.5" font-size="2.4" fill="#8a8a8a" text-anchor="middle">2015</text>
<line x1="360.3" y1="210" x2="360.3" y2="219.4" stroke="#e6e6e6" stroke-width="0.4"/>
<text x="395.7" y="217.5" font-size="2.4" fill="#8a8a8a" text-anchor="middle">2016</text>
<line x1="383.9" y1="210" x2="383.9" y2="219.4" stroke="#e6e6e6" stroke-width="0.4"/>
<polyline points="313.8,178.2 337.3,178.2 377,198.5" fill="none" stroke="#8c8c8c" stroke-width="0.65" stroke-linejoin="round"/>
<polyline points="377,198.5 404.5,198.5" fill="none" stroke="#6e6e6e" stroke-width="0.65" stroke-linejoin="round"/>
<polyline points="290.5,167.89 291.12,170.96 291.75,169.18 292.38,168.6 293,172.13 293.6,173 294.2,172.89 294.8,173.17 295.4,172.49 296,171.92 296.5,183.05 297.5,170.73 298.25,173.09 299,177.29 299.75,179.06 300.5,178.59 301.25,181.9 302,182.18 302.75,189.11 303.5,195.26 304.25,190.09 305,182.92 305.67,184.95 306.33,181.51 307,184.51 307.67,183.14 308.33,184.67 309,188.51 309.67,182.41 310.33,182.66 311,179.73 311.67,180 312.33,179.36 313,180.94 313.67,180.34 314.33,181.58 315,182.54 315.67,179 316.33,182.28 317,180 317.67,178.3 318.33,179.74 319,182.2 319.6,182.98 320.2,181.2 320.8,182.42 321.4,183.09 322,184.56 322.6,183.73 323.2,185.65 323.8,183.92 324.4,184.51 325,186.94 325.75,191.7 326.5,195.21 327,198.97 327.62,195.77 328.25,193.72 328.88,191.56 329.5,188.02 330.12,187.96 330.75,186.01 331.38,185.26 332,182.47 332.67,184.72 333.33,183.4 334,182.88 334.67,179.09 335.33,179.95 336,179.34 336.5,192.69 337.5,186.12 338.25,184.88 339,179.65 339.6,182.01 340.2,184.3 340.8,180.99 341.4,183.94 342,185.39 342.67,186.53 343.33,182.96 344,183.6 345,190.29 346,197.78 346.67,191.66 347.33,189.02 348,185.57 348.6,188.08 349.2,185.76 349.8,186.67 350.4,186.5 351,186.8 351.5,184.89 352,195.69 352.67,195.76 353.33,193.96 354,190.57 354.67,189.96 355.33,190.62 356,188.47 356.58,189.06 357.17,191.12 357.75,196.61 358.33,193.88 358.92,195.52 359.5,196.85 360.12,193.38 360.75,192.73 361.38,189.97 362,186.83 362.67,182.77 363.33,184.34 364,182.34 364.75,180.68 365.5,176.58 366.25,181.73 367,182.51 367.67,183.36 368.33,182.77 369,181.99 369.6,185.4 370.2,185.44 370.8,187.84 371.4,186.05 372,187.8 372.67,192.62 373.33,194.11 374,195.26 374.67,191.56 375.33,188.58 376,185.96 376.67,187.73 377.33,187.79 378,189.2 378.6,189.19 379.2,188.05 379.8,189.32 380.4,188.53 381,187.04 381.67,187.6 382.33,188.45 383,188.18 384,187" fill="none" stroke="#5b9bd5" stroke-width="0.6" stroke-linejoin="round"/>
<polyline points="296,169 296.78,170.78 297.89,173.33 299,176 300,178.81 301,181.74 302,184 302.93,185.26 303.85,185.85 305,186 306.52,185.63 308.26,184.81 310,184 311.74,183.3 313.48,182.59 315,182 316.11,181.44 317,181 318,181 319.3,181.74 320.7,182.93 322,184 323.07,184.67 324.04,185.22 325,186 326.04,187.41 327.07,189.04 328,190 328.7,189.81 329.3,188.96 330,188 330.93,187.04 331.96,185.96 333,185 334,184.19 335,183.48 336,183 337,182.83 338,182.89 339,183 340,183.06 341,183.17 342,183.5 342.96,184.19 343.93,185.09 345,186 346.3,186.98 347.7,187.96 349,188.5 350.07,188.17 351.04,187.39 352,187 353,187.41 354,188.2 355,189 356,189.81 357,190.63 358,191 359,190.7 360,189.96 361,189 362,187.7 363,186.19 364,185 365,184.37 366,184.07 367,184 368,184.15 369,184.52 370,185 371,185.63 372,186.37 373,187 373.96,187.46 374.93,187.81 376,188 377.26,187.93 378.63,187.69 380,187.5 381.48,187.46 382.96,187.48 384,187.5" fill="none" stroke="#ff5b5b" stroke-width="0.65" stroke-linejoin="round"/>
<line x1="381.5" y1="168.5" x2="386.5" y2="168.5" stroke="#5b9bd5" stroke-width="0.8"/>
<text x="386.9" y="169.5" font-size="2.9" fill="#555">Idling</text>
<line x1="381.5" y1="173.2" x2="386.5" y2="173.2" stroke="#8c8c8c" stroke-width="0.8"/>
<text x="386.9" y="174.2" font-size="2.9" fill="#555">Target</text>
<line x1="381.5" y1="177.4" x2="386.5" y2="177.4" stroke="#ff5b5b" stroke-width="0.8"/>
<text x="386.9" y="178.4" font-size="2.9" fill="#555">6 month rolling</text>
<text x="291" y="202.9" font-size="4.9" fill="#000" textLength="97" lengthAdjust="spacingAndGlyphs">Work restarted with good engagement from project</text>
<text x="291" y="207.3" font-size="4.9" fill="#000" textLength="51" lengthAdjust="spacingAndGlyphs">team but still a large gap</text>
<rect x="280.5" y="160.3" width="49.6" height="10.4" fill="#fff" stroke="#3f3f3f" stroke-width="0.9"/>
<text x="285.7" y="169.1" font-size="9.1" fill="#262626">Plant A<tspan fill="#555">=</tspan><tspan font-weight="bold" fill="#ff0000">X</tspan></text>
<rect x="279.6" y="222.8" width="128.8" height="60.3" fill="#fff" stroke="#c8c8c8" stroke-width="0.7"/>
<text x="314.9" y="226.7" font-size="3.67" fill="#222" font-weight="bold" textLength="68.9" lengthAdjust="spacingAndGlyphs">Idle electricity consumption (kWh / 10 hours)</text>
<line x1="289.5" y1="228.07" x2="404.5" y2="228.07" stroke="#ececec" stroke-width="0.5"/>
<line x1="289.5" y1="232.89" x2="404.5" y2="232.89" stroke="#ececec" stroke-width="0.5"/>
<line x1="289.5" y1="237.7" x2="404.5" y2="237.7" stroke="#dadada" stroke-width="0.5"/>
<text x="288.6" y="238.6" font-size="2.5" fill="#444" text-anchor="end">14,000</text>
<line x1="289.5" y1="242.51" x2="404.5" y2="242.51" stroke="#dadada" stroke-width="0.5"/>
<text x="288.6" y="243.41" font-size="2.5" fill="#444" text-anchor="end">12,000</text>
<line x1="289.5" y1="247.33" x2="404.5" y2="247.33" stroke="#dadada" stroke-width="0.5"/>
<text x="288.6" y="248.23" font-size="2.5" fill="#444" text-anchor="end">10,000</text>
<line x1="289.5" y1="252.14" x2="404.5" y2="252.14" stroke="#dadada" stroke-width="0.5"/>
<text x="288.6" y="253.04" font-size="2.5" fill="#444" text-anchor="end">8,000</text>
<line x1="289.5" y1="256.96" x2="404.5" y2="256.96" stroke="#dadada" stroke-width="0.5"/>
<text x="288.6" y="257.86" font-size="2.5" fill="#444" text-anchor="end">6,000</text>
<line x1="289.5" y1="261.77" x2="404.5" y2="261.77" stroke="#dadada" stroke-width="0.5"/>
<text x="288.6" y="262.67" font-size="2.5" fill="#444" text-anchor="end">4,000</text>
<line x1="289.5" y1="266.59" x2="404.5" y2="266.59" stroke="#dadada" stroke-width="0.5"/>
<text x="288.6" y="267.49" font-size="2.5" fill="#444" text-anchor="end">2,000</text>
<line x1="289.5" y1="271.4" x2="404.5" y2="271.4" stroke="#c8c8c8" stroke-width="0.5"/>
<text x="288.6" y="272.3" font-size="2.5" fill="#444" text-anchor="end">0</text>
<line x1="289.5" y1="228.07" x2="289.5" y2="271.4" stroke="#cfcfcf" stroke-width="0.5"/>
<text x="282.3" y="254.55" font-size="2.4" fill="#333" text-anchor="middle" font-weight="bold" transform="rotate(-90 282.3 254.55)">kWh</text>
<text transform="translate(290.2 272.2) rotate(-89.9)" font-size="2" fill="#8a8a8a" text-anchor="end" font-weight="bold"><tspan x="0" y="0">Jan-12</tspan><tspan x="0" y="1.48">Jan-12</tspan><tspan x="0" y="2.96">Jan-12</tspan><tspan x="0" y="4.44">Jan-12</tspan><tspan x="0" y="5.92">Jan-12</tspan><tspan x="0" y="7.4">Jan-12</tspan><tspan x="0" y="8.88">Jan-12</tspan><tspan x="0" y="10.36">Jan-12</tspan><tspan x="0" y="11.84">Jan-12</tspan><tspan x="0" y="13.32">Jan-12</tspan><tspan x="0" y="14.8">Jan-12</tspan><tspan x="0" y="16.28">Jan-12</tspan><tspan x="0" y="17.76">Jan-12</tspan><tspan x="0" y="19.24">Jan-12</tspan><tspan x="0" y="20.72">Jan-12</tspan><tspan x="0" y="22.2">Jan-12</tspan><tspan x="0" y="23.68">Jan-12</tspan><tspan x="0" y="25.16">Jan-12</tspan><tspan x="0" y="26.64">Jan-12</tspan><tspan x="0" y="28.12">Jan-12</tspan><tspan x="0" y="29.6">Jan-12</tspan><tspan x="0" y="31.08">Jan-12</tspan><tspan x="0" y="32.56">Jan-12</tspan><tspan x="0" y="34.04">Jan-12</tspan><tspan x="0" y="35.52">Jan-12</tspan><tspan x="0" y="37">Jan-12</tspan><tspan x="0" y="38.48">Jan-12</tspan><tspan x="0" y="39.96">Jan-12</tspan><tspan x="0" y="41.44">Jan-12</tspan><tspan x="0" y="42.92">Jan-12</tspan><tspan x="0" y="44.4">Jan-12</tspan><tspan x="0" y="45.88">Jan-12</tspan><tspan x="0" y="47.36">Jan-12</tspan><tspan x="0" y="48.84">Jan-12</tspan><tspan x="0" y="50.32">Jan-12</tspan><tspan x="0" y="51.8">Jan-12</tspan><tspan x="0" y="53.28">Jan-12</tspan><tspan x="0" y="54.76">Jan-12</tspan><tspan x="0" y="56.24">Jan-12</tspan><tspan x="0" y="57.72">Jan-12</tspan><tspan x="0" y="59.2">Jan-12</tspan><tspan x="0" y="60.68">Jan-12</tspan><tspan x="0" y="62.16">Jan-12</tspan><tspan x="0" y="63.64">Jan-12</tspan><tspan x="0" y="65.12">Jan-12</tspan><tspan x="0" y="66.6">Jan-12</tspan><tspan x="0" y="68.08">Jan-12</tspan><tspan x="0" y="69.56">Jan-12</tspan><tspan x="0" y="71.04">Jan-12</tspan><tspan x="0" y="72.52">Jan-12</tspan><tspan x="0" y="74">Jan-12</tspan><tspan x="0" y="75.48">Jan-12</tspan><tspan x="0" y="76.96">Jan-12</tspan><tspan x="0" y="78.44">Jan-12</tspan><tspan x="0" y="79.92">Jan-12</tspan><tspan x="0" y="81.4">Jan-12</tspan><tspan x="0" y="82.88">Jan-12</tspan><tspan x="0" y="84.36">Jan-12</tspan><tspan x="0" y="85.84">Jan-12</tspan><tspan x="0" y="87.32">Jan-12</tspan><tspan x="0" y="88.8">Jan-12</tspan><tspan x="0" y="90.28">Jan-12</tspan><tspan x="0" y="91.76">Jan-12</tspan><tspan x="0" y="93.24">Jan-12</tspan><tspan x="0" y="94.72">Jan-12</tspan><tspan x="0" y="96.2">Jan-12</tspan><tspan x="0" y="97.68">Jan-12</tspan><tspan x="0" y="99.16">Jan-12</tspan><tspan x="0" y="100.64">Jan-12</tspan><tspan x="0" y="102.12">Jan-12</tspan><tspan x="0" y="103.6">Jan-12</tspan><tspan x="0" y="105.08">Jan-12</tspan><tspan x="0" y="106.56">Jan-12</tspan><tspan x="0" y="108.04">Jan-12</tspan><tspan x="0" y="109.52">Jan-12</tspan><tspan x="0" y="111">Jan-12</tspan><tspan x="0" y="112.48">Jan-12</tspan></text>
<text x="301.3" y="280.4" font-size="2.4" fill="#8a8a8a" text-anchor="middle">2012</text>
<text x="324.9" y="280.4" font-size="2.4" fill="#8a8a8a" text-anchor="middle">2013</text>
<line x1="313.1" y1="272.4" x2="313.1" y2="282.3" stroke="#e6e6e6" stroke-width="0.4"/>
<text x="348.5" y="280.4" font-size="2.4" fill="#8a8a8a" text-anchor="middle">2014</text>
<line x1="336.7" y1="272.4" x2="336.7" y2="282.3" stroke="#e6e6e6" stroke-width="0.4"/>
<text x="372.1" y="280.4" font-size="2.4" fill="#8a8a8a" text-anchor="middle">2015</text>
<line x1="360.3" y1="272.4" x2="360.3" y2="282.3" stroke="#e6e6e6" stroke-width="0.4"/>
<text x="395.7" y="280.4" font-size="2.4" fill="#8a8a8a" text-anchor="middle">2016</text>
<line x1="383.9" y1="272.4" x2="383.9" y2="282.3" stroke="#e6e6e6" stroke-width="0.4"/>
<polyline points="322,253.8 346,255.5 360,258 384,262.3" fill="none" stroke="#8c8c8c" stroke-width="0.65" stroke-linejoin="round"/>
<polyline points="384,262.5 404.5,262.5" fill="none" stroke="#6e6e6e" stroke-width="0.65" stroke-linejoin="round"/>
<polyline points="290,250.59 291,251.42 292,242.86 292.75,243.82 293.5,248.1 294.25,251.45 295,252.4 295.67,251.09 296.33,252.66 297,255.78 297.6,252.18 298.2,254.8 298.8,254.2 299.4,253.91 300,254.07 300.6,253.4 301.2,254.79 301.8,258.32 302.4,256.73 303,257.43 303.67,254.12 304.33,253.2 305,252.88 305.67,254.05 306.33,253.68 307,253.92 307.67,253.35 308.33,252.52 309,252.86 309.67,252.62 310.33,255.22 311,255.06 311.67,252.28 312.33,251.81 313,252.57 313.6,252.17 314.2,250.98 314.8,251.26 315.4,252.33 316,252.54 316.67,254.49 317.33,253.68 318,256.39 318.67,256.21 319.33,254.27 320,254.84 320.6,252.43 321.2,253.06 321.8,253.63 322.4,253.21 323,253.89 323.62,255.29 324.25,255.99 324.88,256.36 325.5,257.37 326.25,255.84 327,252.02 327.67,253.71 328.33,251.94 329,252.55 329.67,251.9 330.33,253.66 331,253.52 331.67,255.62 332.33,257.02 333,260.05 333.67,260.71 334.33,255.24 335,256.45 335.6,256.74 336.2,256.35 336.8,255.53 337.4,259.45 338,258.43 338.67,259.32 339.33,257.66 340,257 340.6,259.18 341.2,258.87 341.8,257.43 342.4,257.3 343,258.27 343.6,256.86 344.2,256.95 344.8,258.24 345.4,259.97 346,260.23 346.57,259.65 347.14,261.32 347.71,259.85 348.29,259.52 348.86,263.35 349.43,260.38 350,261.74 350.56,261.9 351.11,261.46 351.67,261.65 352.22,262.37 352.78,262.36 353.33,261.02 353.89,261.73 354.44,263.65 355,263.11 355.6,261.57 356.2,262.05 356.8,260.76 357.4,260.25 358,261.17 358.6,263.16 359.2,259.82 359.8,257.05 360.4,258.42 361,257.11 361.5,258.46 362.12,260.12 362.75,259.06 363.38,260.29 364,259.9 364.6,262.03 365.2,259.43 365.8,259.77 366.4,262.43 367,258.14 367.5,264.14 368.12,263.34 368.75,263.35 369.38,262.79 370,263.47 370.6,262.73 371.2,263.16 371.8,261.24 372.4,263.48 373,261.87 373.6,264.59 374.2,262.99 374.8,263.85 375.4,261.82 376,262.26 376.57,262.3 377.14,263.02 377.71,262.39 378.29,261.84 378.86,262.19 379.43,262 380,261.77 380.6,261.16 381.2,260.61 381.8,264.61 382.4,261.5 383,260.55 384,259" fill="none" stroke="#5b9bd5" stroke-width="0.6" stroke-linejoin="round"/>
<polyline points="292,251 292.7,251.91 293.74,253.15 295,254 296.33,254.07 297.89,253.76 300,253.5 302.96,253.46 306.48,253.48 310,253.5 313.33,253.48 316.67,253.46 320,253.5 323.48,253.57 326.96,253.7 330,254 332.3,254.56 334.15,255.28 336,256 338.11,256.67 340.22,257.33 342,258 343.15,258.7 343.96,259.41 345,260 346.52,260.41 348.26,260.7 350,261 351.67,261.44 353.33,261.89 355,262 356.67,261.5 358.33,260.67 360,260 361.67,259.63 363.33,259.43 365,259.5 366.67,260 368.33,260.78 370,261.5 371.67,262.11 373.33,262.67 375,263 376.7,262.98 378.41,262.74 380,262.5 381.56,262.31 383,262.13 384,262" fill="none" stroke="#ff5b5b" stroke-width="0.65" stroke-linejoin="round"/>
<line x1="381.5" y1="231.2" x2="386.5" y2="231.2" stroke="#5b9bd5" stroke-width="0.8"/>
<text x="386.9" y="232.2" font-size="2.9" fill="#555">Actual</text>
<line x1="381.5" y1="236.4" x2="386.5" y2="236.4" stroke="#8c8c8c" stroke-width="0.8"/>
<text x="386.9" y="237.4" font-size="2.9" fill="#555">Target</text>
<line x1="381.5" y1="241.1" x2="386.5" y2="241.1" stroke="#ff5b5b" stroke-width="0.8"/>
<text x="386.9" y="242.1" font-size="2.9" fill="#555">6 month rolling</text>
<text x="293" y="266.7" font-size="4.9" fill="#000" textLength="72" lengthAdjust="spacingAndGlyphs">Very good control of idle consumption</text>
<rect x="280.5" y="223.2" width="49.6" height="10.4" fill="#fff" stroke="#3f3f3f" stroke-width="0.9"/>
<text x="285.7" y="232" font-size="9.1" fill="#262626">Plant B<tspan fill="#555">=</tspan><tspan x="314.5" font-weight="bold" fill="#00b050" font-size="8.9" style="font-family:'Liberation Sans',sans-serif">O</tspan></text>
<rect x="279.6" y="285.7" width="128.8" height="60.3" fill="#fff" stroke="#c8c8c8" stroke-width="0.7"/>
<text x="309.1" y="289.6" font-size="3.67" fill="#222" font-weight="bold" textLength="68.9" lengthAdjust="spacingAndGlyphs">Idle electricity consumption (kWh / 10 hours)</text>
<line x1="289.5" y1="291.81" x2="404.5" y2="291.81" stroke="#ececec" stroke-width="0.5"/>
<line x1="289.5" y1="296.56" x2="404.5" y2="296.56" stroke="#ececec" stroke-width="0.5"/>
<line x1="289.5" y1="301.3" x2="404.5" y2="301.3" stroke="#dadada" stroke-width="0.5"/>
<text x="288.6" y="302.2" font-size="2.5" fill="#444" text-anchor="end">14,000</text>
<line x1="289.5" y1="306.04" x2="404.5" y2="306.04" stroke="#dadada" stroke-width="0.5"/>
<text x="288.6" y="306.94" font-size="2.5" fill="#444" text-anchor="end">12,000</text>
<line x1="289.5" y1="310.79" x2="404.5" y2="310.79" stroke="#dadada" stroke-width="0.5"/>
<text x="288.6" y="311.69" font-size="2.5" fill="#444" text-anchor="end">10,000</text>
<line x1="289.5" y1="315.53" x2="404.5" y2="315.53" stroke="#dadada" stroke-width="0.5"/>
<text x="288.6" y="316.43" font-size="2.5" fill="#444" text-anchor="end">8,000</text>
<line x1="289.5" y1="320.27" x2="404.5" y2="320.27" stroke="#dadada" stroke-width="0.5"/>
<text x="288.6" y="321.17" font-size="2.5" fill="#444" text-anchor="end">6,000</text>
<line x1="289.5" y1="325.01" x2="404.5" y2="325.01" stroke="#dadada" stroke-width="0.5"/>
<text x="288.6" y="325.91" font-size="2.5" fill="#444" text-anchor="end">4,000</text>
<line x1="289.5" y1="329.76" x2="404.5" y2="329.76" stroke="#dadada" stroke-width="0.5"/>
<text x="288.6" y="330.66" font-size="2.5" fill="#444" text-anchor="end">2,000</text>
<line x1="289.5" y1="334.5" x2="404.5" y2="334.5" stroke="#c8c8c8" stroke-width="0.5"/>
<text x="288.6" y="335.4" font-size="2.5" fill="#444" text-anchor="end">0</text>
<line x1="289.5" y1="291.81" x2="289.5" y2="334.5" stroke="#cfcfcf" stroke-width="0.5"/>
<text x="282.3" y="317.9" font-size="2.4" fill="#333" text-anchor="middle" font-weight="bold" transform="rotate(-90 282.3 317.9)">kWh</text>
<text transform="translate(290.2 335.3) rotate(-89.9)" font-size="2" fill="#8a8a8a" text-anchor="end" font-weight="bold"><tspan x="0" y="0">Jan-12</tspan><tspan x="0" y="1.48">Jan-12</tspan><tspan x="0" y="2.96">Jan-12</tspan><tspan x="0" y="4.44">Jan-12</tspan><tspan x="0" y="5.92">Jan-12</tspan><tspan x="0" y="7.4">Jan-12</tspan><tspan x="0" y="8.88">Jan-12</tspan><tspan x="0" y="10.36">Jan-12</tspan><tspan x="0" y="11.84">Jan-12</tspan><tspan x="0" y="13.32">Jan-12</tspan><tspan x="0" y="14.8">Jan-12</tspan><tspan x="0" y="16.28">Jan-12</tspan><tspan x="0" y="17.76">Jan-12</tspan><tspan x="0" y="19.24">Jan-12</tspan><tspan x="0" y="20.72">Jan-12</tspan><tspan x="0" y="22.2">Jan-12</tspan><tspan x="0" y="23.68">Jan-12</tspan><tspan x="0" y="25.16">Jan-12</tspan><tspan x="0" y="26.64">Jan-12</tspan><tspan x="0" y="28.12">Jan-12</tspan><tspan x="0" y="29.6">Jan-12</tspan><tspan x="0" y="31.08">Jan-12</tspan><tspan x="0" y="32.56">Jan-12</tspan><tspan x="0" y="34.04">Jan-12</tspan><tspan x="0" y="35.52">Jan-12</tspan><tspan x="0" y="37">Jan-12</tspan><tspan x="0" y="38.48">Jan-12</tspan><tspan x="0" y="39.96">Jan-12</tspan><tspan x="0" y="41.44">Jan-12</tspan><tspan x="0" y="42.92">Jan-12</tspan><tspan x="0" y="44.4">Jan-12</tspan><tspan x="0" y="45.88">Jan-12</tspan><tspan x="0" y="47.36">Jan-12</tspan><tspan x="0" y="48.84">Jan-12</tspan><tspan x="0" y="50.32">Jan-12</tspan><tspan x="0" y="51.8">Jan-12</tspan><tspan x="0" y="53.28">Jan-12</tspan><tspan x="0" y="54.76">Jan-12</tspan><tspan x="0" y="56.24">Jan-12</tspan><tspan x="0" y="57.72">Jan-12</tspan><tspan x="0" y="59.2">Jan-12</tspan><tspan x="0" y="60.68">Jan-12</tspan><tspan x="0" y="62.16">Jan-12</tspan><tspan x="0" y="63.64">Jan-12</tspan><tspan x="0" y="65.12">Jan-12</tspan><tspan x="0" y="66.6">Jan-12</tspan><tspan x="0" y="68.08">Jan-12</tspan><tspan x="0" y="69.56">Jan-12</tspan><tspan x="0" y="71.04">Jan-12</tspan><tspan x="0" y="72.52">Jan-12</tspan><tspan x="0" y="74">Jan-12</tspan><tspan x="0" y="75.48">Jan-12</tspan><tspan x="0" y="76.96">Jan-12</tspan><tspan x="0" y="78.44">Jan-12</tspan><tspan x="0" y="79.92">Jan-12</tspan><tspan x="0" y="81.4">Jan-12</tspan><tspan x="0" y="82.88">Jan-12</tspan><tspan x="0" y="84.36">Jan-12</tspan><tspan x="0" y="85.84">Jan-12</tspan><tspan x="0" y="87.32">Jan-12</tspan><tspan x="0" y="88.8">Jan-12</tspan><tspan x="0" y="90.28">Jan-12</tspan><tspan x="0" y="91.76">Jan-12</tspan><tspan x="0" y="93.24">Jan-12</tspan><tspan x="0" y="94.72">Jan-12</tspan><tspan x="0" y="96.2">Jan-12</tspan><tspan x="0" y="97.68">Jan-12</tspan><tspan x="0" y="99.16">Jan-12</tspan><tspan x="0" y="100.64">Jan-12</tspan><tspan x="0" y="102.12">Jan-12</tspan><tspan x="0" y="103.6">Jan-12</tspan><tspan x="0" y="105.08">Jan-12</tspan><tspan x="0" y="106.56">Jan-12</tspan><tspan x="0" y="108.04">Jan-12</tspan><tspan x="0" y="109.52">Jan-12</tspan><tspan x="0" y="111">Jan-12</tspan><tspan x="0" y="112.48">Jan-12</tspan></text>
<text x="301.3" y="343.3" font-size="2.4" fill="#8a8a8a" text-anchor="middle">2012</text>
<text x="324.9" y="343.3" font-size="2.4" fill="#8a8a8a" text-anchor="middle">2013</text>
<line x1="313.1" y1="335.5" x2="313.1" y2="345.2" stroke="#e6e6e6" stroke-width="0.4"/>
<text x="348.5" y="343.3" font-size="2.4" fill="#8a8a8a" text-anchor="middle">2014</text>
<line x1="336.7" y1="335.5" x2="336.7" y2="345.2" stroke="#e6e6e6" stroke-width="0.4"/>
<text x="372.1" y="343.3" font-size="2.4" fill="#8a8a8a" text-anchor="middle">2015</text>
<line x1="360.3" y1="335.5" x2="360.3" y2="345.2" stroke="#e6e6e6" stroke-width="0.4"/>
<text x="395.7" y="343.3" font-size="2.4" fill="#8a8a8a" text-anchor="middle">2016</text>
<line x1="383.9" y1="335.5" x2="383.9" y2="345.2" stroke="#e6e6e6" stroke-width="0.4"/>
<polyline points="322,316.9 340,318.5 372,325 384,326" fill="none" stroke="#8c8c8c" stroke-width="0.65" stroke-linejoin="round"/>
<polyline points="384,325.8 404.5,325.8" fill="none" stroke="#6e6e6e" stroke-width="0.65" stroke-linejoin="round"/>
<polyline points="292,328.19 292,310.98 293,313.93 293.75,309.23 294.5,306.16 295.5,299 296,319.43 297,313.29 297.67,317.91 298.33,310.95 299,314.69 299.67,315.98 300.33,314.51 301,313.47 301.67,315.15 302.33,317.08 303,318.75 303.5,322.11 304,318.08 304.67,316.46 305.33,317.96 306,315.42 306.67,315.78 307.33,316.77 308,314.68 308.67,315.22 309.33,313.89 310,314.4 310.67,313.22 311.33,315.45 312,317.04 312.6,317.05 313.2,321.06 313.8,315.66 314.4,315.38 315,318.85 315.6,319.39 316.2,318.55 316.8,319.56 317.4,320.65 318,317.03 319,314.52 319.67,316.46 320.33,318.93 321,318.59 321.67,318.5 322.33,319.94 323,320.8 323.6,317.79 324.2,320.15 324.8,318.39 325.4,318.73 326,318.13 326.6,319 327.2,320.34 327.8,319.03 328.4,319.48 329,320.63 329.6,320.43 330.2,319.15 330.8,321.28 331.4,320.13 332,320.47 332.6,320.93 333.2,322.55 333.8,319.32 334.4,319.46 335,320.03 335.6,318.54 336.2,319.53 336.8,320.99 337.4,316.84 338,318.7 338.67,316.9 339.33,319.55 340,316.96 340.67,318.15 341.33,318.49 342,318.49 342.6,320.05 343.2,320.77 343.8,320.58 344.4,323.12 345,322.18 345.67,319.14 346.33,318.93 347,319.23 348,316.81 348.67,319.81 349.33,321.18 350,324.05 350.67,323.09 351.33,321.07 352,322.54 352.57,320.57 353.14,322.32 353.71,320.44 354.29,320.62 354.86,321.35 355.43,321.97 356,323.94 356.57,320.92 357.14,324.81 357.71,321.28 358.29,324.49 358.86,323 359.43,321.86 360,323.48 360.57,322.09 361.14,322.78 361.71,323.14 362.29,327.16 362.86,322.55 363.43,326.19 364,323.79 364.57,323.16 365.14,323.58 365.71,326.17 366.29,324.66 366.86,323.92 367.43,325.92 368,325.85 368.57,326.95 369.14,324.17 369.71,327.49 370.29,327.52 370.86,324.99 371.43,325.3 372,326.47 372.57,325.55 373.14,326.79 373.71,326.57 374.29,325.67 374.86,324.01 375.43,322.59 376,325.48 376.57,323.77 377.14,326.88 377.71,328.11 378.29,326.09 378.86,326.95 379.43,327.61 380,327.17 380.57,324.36 381.14,324.12 381.71,324.63 382.29,325.35 382.86,324.03 383.43,325.19 384,325" fill="none" stroke="#5b9bd5" stroke-width="0.6" stroke-linejoin="round"/>
<polyline points="296,314.5 297.04,314.57 298.52,314.7 300,315 301.33,315.63 302.67,316.43 304,317 305.33,317.11 306.67,317 308,317 309.33,317.28 310.67,317.67 312,318 313.33,318.24 314.67,318.43 316,318.5 317.3,318.35 318.59,318.09 320,318 321.59,318.24 323.3,318.65 325,319 326.67,319.19 328.33,319.31 330,319.5 331.67,319.83 333.33,320.22 335,320.5 336.67,320.56 338.33,320.5 340,320.5 341.67,320.63 343.33,320.81 345,321 346.67,321.15 348.33,321.3 350,321.5 351.67,321.81 353.33,322.19 355,322.5 356.67,322.69 358.33,322.81 360,323 361.67,323.3 363.33,323.65 365,324 366.67,324.35 368.33,324.7 370,325 371.67,325.22 373.33,325.39 375,325.5 376.7,325.56 378.41,325.56 380,325.5 381.56,325.35 383,325.15 384,325" fill="none" stroke="#ff5b5b" stroke-width="0.65" stroke-linejoin="round"/>
<line x1="381.5" y1="294.5" x2="386.5" y2="294.5" stroke="#5b9bd5" stroke-width="0.8"/>
<text x="386.9" y="295.5" font-size="2.9" fill="#555">Actual</text>
<line x1="381.5" y1="299.4" x2="386.5" y2="299.4" stroke="#8c8c8c" stroke-width="0.8"/>
<text x="386.9" y="300.4" font-size="2.9" fill="#555">Target</text>
<line x1="381.5" y1="304.1" x2="386.5" y2="304.1" stroke="#ff5b5b" stroke-width="0.8"/>
<text x="386.9" y="305.1" font-size="2.9" fill="#555">6 month rolling</text>
<text x="293" y="331.6" font-size="4.9" fill="#000" textLength="93" lengthAdjust="spacingAndGlyphs">Good engagement, new approach being designed</text>
<rect x="280.5" y="286.1" width="49.6" height="10.4" fill="#fff" stroke="#3f3f3f" stroke-width="0.9"/>
<text x="285.7" y="294.9" font-size="9.1" fill="#262626">Plant H<tspan fill="#555">=</tspan><tspan x="314.5" font-weight="bold" fill="#00b050" font-size="8.9" style="font-family:'Liberation Sans',sans-serif">O</tspan></text>
<rect x="279.6" y="348.6" width="128.8" height="60.3" fill="#fff" stroke="#c8c8c8" stroke-width="0.7"/>
<text x="306.7" y="352.5" font-size="3.67" fill="#222" font-weight="bold" textLength="68.9" lengthAdjust="spacingAndGlyphs">Idle electricity consumption (kWh / 10 hours)</text>
<line x1="289.5" y1="353.6" x2="404.5" y2="353.6" stroke="#ececec" stroke-width="0.5"/>
<line x1="289.5" y1="358.4" x2="404.5" y2="358.4" stroke="#ececec" stroke-width="0.5"/>
<line x1="289.5" y1="363.2" x2="404.5" y2="363.2" stroke="#dadada" stroke-width="0.5"/>
<text x="288.6" y="364.1" font-size="2.5" fill="#444" text-anchor="end">14,000</text>
<line x1="289.5" y1="368" x2="404.5" y2="368" stroke="#dadada" stroke-width="0.5"/>
<text x="288.6" y="368.9" font-size="2.5" fill="#444" text-anchor="end">12,000</text>
<line x1="289.5" y1="372.8" x2="404.5" y2="372.8" stroke="#dadada" stroke-width="0.5"/>
<text x="288.6" y="373.7" font-size="2.5" fill="#444" text-anchor="end">10,000</text>
<line x1="289.5" y1="377.6" x2="404.5" y2="377.6" stroke="#dadada" stroke-width="0.5"/>
<text x="288.6" y="378.5" font-size="2.5" fill="#444" text-anchor="end">8,000</text>
<line x1="289.5" y1="382.4" x2="404.5" y2="382.4" stroke="#dadada" stroke-width="0.5"/>
<text x="288.6" y="383.3" font-size="2.5" fill="#444" text-anchor="end">6,000</text>
<line x1="289.5" y1="387.2" x2="404.5" y2="387.2" stroke="#dadada" stroke-width="0.5"/>
<text x="288.6" y="388.1" font-size="2.5" fill="#444" text-anchor="end">4,000</text>
<line x1="289.5" y1="392" x2="404.5" y2="392" stroke="#dadada" stroke-width="0.5"/>
<text x="288.6" y="392.9" font-size="2.5" fill="#444" text-anchor="end">2,000</text>
<line x1="289.5" y1="396.8" x2="404.5" y2="396.8" stroke="#c8c8c8" stroke-width="0.5"/>
<text x="288.6" y="397.7" font-size="2.5" fill="#444" text-anchor="end">0</text>
<line x1="289.5" y1="353.6" x2="289.5" y2="396.8" stroke="#cfcfcf" stroke-width="0.5"/>
<text x="282.3" y="380" font-size="2.4" fill="#333" text-anchor="middle" font-weight="bold" transform="rotate(-90 282.3 380)">kWh</text>
<text transform="translate(290.2 397.6) rotate(-89.9)" font-size="2" fill="#8a8a8a" text-anchor="end" font-weight="bold"><tspan x="0" y="0">Jan-12</tspan><tspan x="0" y="1.48">Jan-12</tspan><tspan x="0" y="2.96">Jan-12</tspan><tspan x="0" y="4.44">Jan-12</tspan><tspan x="0" y="5.92">Jan-12</tspan><tspan x="0" y="7.4">Jan-12</tspan><tspan x="0" y="8.88">Jan-12</tspan><tspan x="0" y="10.36">Jan-12</tspan><tspan x="0" y="11.84">Jan-12</tspan><tspan x="0" y="13.32">Jan-12</tspan><tspan x="0" y="14.8">Jan-12</tspan><tspan x="0" y="16.28">Jan-12</tspan><tspan x="0" y="17.76">Jan-12</tspan><tspan x="0" y="19.24">Jan-12</tspan><tspan x="0" y="20.72">Jan-12</tspan><tspan x="0" y="22.2">Jan-12</tspan><tspan x="0" y="23.68">Jan-12</tspan><tspan x="0" y="25.16">Jan-12</tspan><tspan x="0" y="26.64">Jan-12</tspan><tspan x="0" y="28.12">Jan-12</tspan><tspan x="0" y="29.6">Jan-12</tspan><tspan x="0" y="31.08">Jan-12</tspan><tspan x="0" y="32.56">Jan-12</tspan><tspan x="0" y="34.04">Jan-12</tspan><tspan x="0" y="35.52">Jan-12</tspan><tspan x="0" y="37">Jan-12</tspan><tspan x="0" y="38.48">Jan-12</tspan><tspan x="0" y="39.96">Jan-12</tspan><tspan x="0" y="41.44">Jan-12</tspan><tspan x="0" y="42.92">Jan-12</tspan><tspan x="0" y="44.4">Jan-12</tspan><tspan x="0" y="45.88">Jan-12</tspan><tspan x="0" y="47.36">Jan-12</tspan><tspan x="0" y="48.84">Jan-12</tspan><tspan x="0" y="50.32">Jan-12</tspan><tspan x="0" y="51.8">Jan-12</tspan><tspan x="0" y="53.28">Jan-12</tspan><tspan x="0" y="54.76">Jan-12</tspan><tspan x="0" y="56.24">Jan-12</tspan><tspan x="0" y="57.72">Jan-12</tspan><tspan x="0" y="59.2">Jan-12</tspan><tspan x="0" y="60.68">Jan-12</tspan><tspan x="0" y="62.16">Jan-12</tspan><tspan x="0" y="63.64">Jan-12</tspan><tspan x="0" y="65.12">Jan-12</tspan><tspan x="0" y="66.6">Jan-12</tspan><tspan x="0" y="68.08">Jan-12</tspan><tspan x="0" y="69.56">Jan-12</tspan><tspan x="0" y="71.04">Jan-12</tspan><tspan x="0" y="72.52">Jan-12</tspan><tspan x="0" y="74">Jan-12</tspan><tspan x="0" y="75.48">Jan-12</tspan><tspan x="0" y="76.96">Jan-12</tspan><tspan x="0" y="78.44">Jan-12</tspan><tspan x="0" y="79.92">Jan-12</tspan><tspan x="0" y="81.4">Jan-12</tspan><tspan x="0" y="82.88">Jan-12</tspan><tspan x="0" y="84.36">Jan-12</tspan><tspan x="0" y="85.84">Jan-12</tspan><tspan x="0" y="87.32">Jan-12</tspan><tspan x="0" y="88.8">Jan-12</tspan><tspan x="0" y="90.28">Jan-12</tspan><tspan x="0" y="91.76">Jan-12</tspan><tspan x="0" y="93.24">Jan-12</tspan><tspan x="0" y="94.72">Jan-12</tspan><tspan x="0" y="96.2">Jan-12</tspan><tspan x="0" y="97.68">Jan-12</tspan><tspan x="0" y="99.16">Jan-12</tspan><tspan x="0" y="100.64">Jan-12</tspan><tspan x="0" y="102.12">Jan-12</tspan><tspan x="0" y="103.6">Jan-12</tspan><tspan x="0" y="105.08">Jan-12</tspan><tspan x="0" y="106.56">Jan-12</tspan><tspan x="0" y="108.04">Jan-12</tspan><tspan x="0" y="109.52">Jan-12</tspan><tspan x="0" y="111">Jan-12</tspan><tspan x="0" y="112.48">Jan-12</tspan></text>
<text x="301.3" y="406.2" font-size="2.4" fill="#8a8a8a" text-anchor="middle">2012</text>
<text x="324.9" y="406.2" font-size="2.4" fill="#8a8a8a" text-anchor="middle">2013</text>
<line x1="313.1" y1="397.8" x2="313.1" y2="408.1" stroke="#e6e6e6" stroke-width="0.4"/>
<text x="348.5" y="406.2" font-size="2.4" fill="#8a8a8a" text-anchor="middle">2014</text>
<line x1="336.7" y1="397.8" x2="336.7" y2="408.1" stroke="#e6e6e6" stroke-width="0.4"/>
<text x="372.1" y="406.2" font-size="2.4" fill="#8a8a8a" text-anchor="middle">2015</text>
<line x1="360.3" y1="397.8" x2="360.3" y2="408.1" stroke="#e6e6e6" stroke-width="0.4"/>
<text x="395.7" y="406.2" font-size="2.4" fill="#8a8a8a" text-anchor="middle">2016</text>
<line x1="383.9" y1="397.8" x2="383.9" y2="408.1" stroke="#e6e6e6" stroke-width="0.4"/>
<polyline points="314.6,396.6 314.6,384 330,382.8 340,383.2 384,391.5" fill="none" stroke="#8c8c8c" stroke-width="0.65" stroke-linejoin="round"/>
<polyline points="384,391.5 404.5,391.5" fill="none" stroke="#6e6e6e" stroke-width="0.65" stroke-linejoin="round"/>
<polyline points="290,380.54 290.6,382.54 291.2,380.38 291.8,382.09 292.4,379.96 293,382.37 293.6,381.48 294.2,383.34 294.8,382.78 295.4,381.7 296,381.15 297,384.08 297.67,383.01 298.33,381.38 299,382.68 299.67,378.25 300.33,380.3 301,382.71 301.67,380.45 302.33,377.29 303,379.74 304,382.37 304.67,381.94 305.33,382.48 306,384.09 306.75,386.61 307.5,386.99 308.17,388.29 308.83,384.44 309.5,385.06 310.25,382.63 311,382.34 311.67,384.46 312.33,385.01 313,386.96 313.67,384.01 314.33,384.21 315,382.01 315.6,383.32 316.2,384.04 316.8,382.79 317.4,384.42 318,384.98 318.67,384.51 319.33,384.07 320,384.3 320.67,384.81 321.33,382.32 322,384.17 322.67,382.23 323.33,383.01 324,381.16 324.67,380.87 325.33,380.71 326,382.1 326.67,381.5 327.33,381.33 328,382.34 328.67,380.36 329.33,382.75 330,381.4 330.67,380.67 331.33,380.89 332,382.83 332.67,383.97 333.33,381.4 334,380.61 334.67,379.21 335.33,380.54 336,380.58 336.75,378.86 337.5,376.93 338.25,378.61 339,377.29 339.75,376.59 340.5,374.75 341.25,375.28 342,375.03 342.67,378.44 343.33,378.56 344,379.28 344.67,379.83 345.33,381.33 346,382.18 347,381.14 347.6,382.85 348.2,383.71 348.8,383.3 349.4,382.17 350,382.21 350.6,379.77 351.2,381.86 351.8,381.07 352.4,381.26 353,381.85 353.67,381.92 354.33,380.89 355,380.29 355.67,382.46 356.33,383.57 357,384.28 357.67,384.51 358.33,382.97 359,381.97 359.67,378.77 360.33,381.28 361,380.29 361.75,382.21 362.5,380.26 363.25,379.15 364,381.05 364.67,382.32 365.33,380.88 366,380.28 366.67,383.68 367.33,383.52 368,384.69 368.67,385.42 369.33,385.31 370,386.99 370.67,386.13 371.33,385.74 372,386.15 372.67,385.73 373.33,384.73 374,386.85 374.6,385.38 375.2,387.33 375.8,385.8 376.4,387.23 377,389.1 377.6,388.34 378.2,386.19 378.8,384.99 379.4,385.95 380,387.76 380.75,385.85 381.5,381.62 382.25,384.67 383,384.47 384,385" fill="none" stroke="#5b9bd5" stroke-width="0.6" stroke-linejoin="round"/>
<polyline points="297.5,381.5 298.06,381.78 298.89,382.17 300,382.5 301.48,382.69 303.24,382.81 305,383 306.67,383.35 308.33,383.76 310,384 311.67,383.93 313.33,383.69 315,383.5 316.67,383.5 318.33,383.56 320,383.5 321.67,383.22 323.33,382.83 325,382.5 326.67,382.3 328.33,382.15 330,382 331.74,381.89 333.48,381.78 335,381.5 336.15,380.94 337.07,380.22 338,379.5 339.04,378.69 340.07,377.87 341,377.5 341.7,377.89 342.3,378.72 343,379.5 343.89,380.06 344.89,380.56 346,381 347.26,381.43 348.63,381.8 350,382 351.37,381.91 352.74,381.65 354,381.5 355.07,381.65 356.04,381.91 357,382 358,381.78 359,381.39 360,381 361,380.56 362,380.11 363,380 363.96,380.43 364.93,381.19 366,382 367.26,382.83 368.63,383.72 370,384.5 371.33,385.07 372.67,385.54 374,386 375.37,386.61 376.74,387.22 378,387.5 379.09,387.22 380.07,386.61 381,386 381.96,385.44 382.87,384.89 383.5,384.5" fill="none" stroke="#ff5b5b" stroke-width="0.65" stroke-linejoin="round"/>
<polyline points="290,396.6 297.5,396.6 297.5,381.5" fill="none" stroke="#ff5b5b" stroke-width="0.65" stroke-linejoin="round"/>
<polyline points="383.5,384.5 384,396.6 404.5,396.6" fill="none" stroke="#ff5b5b" stroke-width="0.65" stroke-linejoin="round"/>
<line x1="381.5" y1="356.9" x2="386.5" y2="356.9" stroke="#5b9bd5" stroke-width="0.8"/>
<text x="386.9" y="357.9" font-size="2.9" fill="#555">Actual</text>
<line x1="381.5" y1="361.2" x2="386.5" y2="361.2" stroke="#8c8c8c" stroke-width="0.8"/>
<text x="386.9" y="362.2" font-size="2.9" fill="#555">Target</text>
<line x1="381.5" y1="365.9" x2="386.5" y2="365.9" stroke="#ff5b5b" stroke-width="0.8"/>
<text x="386.9" y="366.9" font-size="2.9" fill="#555">6 month rolling</text>
<text x="294" y="373.8" font-size="4.9" fill="#000" textLength="79" lengthAdjust="spacingAndGlyphs">Results have stagnated during the autumn.</text>
<rect x="280.5" y="349" width="49.6" height="10.4" fill="#fff" stroke="#3f3f3f" stroke-width="0.9"/>
<text x="285.7" y="357.8" font-size="9.1" fill="#262626">Plant S<tspan fill="#555">=</tspan><tspan font-weight="bold" fill="#ff0000">X</tspan></text>
<rect x="412.3" y="34.1" width="127.8" height="60.3" fill="#fff" stroke="#c8c8c8" stroke-width="0.7"/>
<line x1="424.2" y1="74.2" x2="537.6" y2="74.2" stroke="#c8c8c8" stroke-width="0.5"/>
<text x="422.4" y="75.3" font-size="3.1" fill="#333" text-anchor="end">0</text>
<line x1="424.2" y1="67.4" x2="537.6" y2="67.4" stroke="#dadada" stroke-width="0.5"/>
<text x="422.4" y="68.5" font-size="3.1" fill="#333" text-anchor="end">2,000</text>
<line x1="424.2" y1="60.2" x2="537.6" y2="60.2" stroke="#dadada" stroke-width="0.5"/>
<text x="422.4" y="61.3" font-size="3.1" fill="#333" text-anchor="end">4,000</text>
<line x1="424.2" y1="53.2" x2="537.6" y2="53.2" stroke="#dadada" stroke-width="0.5"/>
<text x="422.4" y="54.3" font-size="3.1" fill="#333" text-anchor="end">6,000</text>
<line x1="424.2" y1="46.4" x2="537.6" y2="46.4" stroke="#dadada" stroke-width="0.5"/>
<text x="422.4" y="47.5" font-size="3.1" fill="#333" text-anchor="end">8,000</text>
<line x1="424.2" y1="39.3" x2="537.6" y2="39.3" stroke="#dadada" stroke-width="0.5"/>
<text x="422.4" y="40.4" font-size="3.1" fill="#333" text-anchor="end">10,000</text>
<line x1="424.2" y1="39.3" x2="424.2" y2="74.2" stroke="#cfcfcf" stroke-width="0.5"/>
<rect x="424.2" y="74.6" width="113.4" height="11" fill="#ebebeb"/>
<text transform="translate(426.5 77.2) rotate(-89.9)" font-size="2.3" fill="#444" text-anchor="end" font-weight="bold"><tspan x="0" y="0">800</tspan><tspan x="0" y="3.54">800</tspan><tspan x="0" y="7.09">800</tspan><tspan x="0" y="10.63">800</tspan><tspan x="0" y="14.18">800</tspan><tspan x="0" y="17.72">800</tspan><tspan x="0" y="21.26">800</tspan><tspan x="0" y="24.81">800</tspan><tspan x="0" y="28.35">800</tspan><tspan x="0" y="31.89">800</tspan><tspan x="0" y="35.44">800</tspan><tspan x="0" y="38.98">800</tspan><tspan x="0" y="42.53">800</tspan><tspan x="0" y="46.07">800</tspan><tspan x="0" y="49.61">800</tspan><tspan x="0" y="53.16">800</tspan><tspan x="0" y="56.7">800</tspan><tspan x="0" y="60.24">800</tspan><tspan x="0" y="63.79">800</tspan><tspan x="0" y="67.33">800</tspan><tspan x="0" y="70.88">800</tspan><tspan x="0" y="74.42">800</tspan><tspan x="0" y="77.96">800</tspan><tspan x="0" y="81.51">800</tspan><tspan x="0" y="85.05">800</tspan><tspan x="0" y="88.59">800</tspan><tspan x="0" y="92.14">800</tspan><tspan x="0" y="95.68">800</tspan><tspan x="0" y="99.23">800</tspan><tspan x="0" y="102.77">800</tspan><tspan x="0" y="106.31">800</tspan><tspan x="0" y="109.86">800</tspan></text>
<text transform="translate(426.5 81.4) rotate(-89.9)" font-size="2.3" fill="#444" text-anchor="end" font-weight="bold"><tspan x="0" y="0">000</tspan><tspan x="0" y="3.54">000</tspan><tspan x="0" y="7.09">000</tspan><tspan x="0" y="10.63">000</tspan><tspan x="0" y="14.18">000</tspan><tspan x="0" y="17.72">000</tspan><tspan x="0" y="21.26">000</tspan><tspan x="0" y="24.81">000</tspan><tspan x="0" y="28.35">000</tspan><tspan x="0" y="31.89">000</tspan><tspan x="0" y="35.44">000</tspan><tspan x="0" y="38.98">000</tspan><tspan x="0" y="42.53">000</tspan><tspan x="0" y="46.07">000</tspan><tspan x="0" y="49.61">000</tspan><tspan x="0" y="53.16">000</tspan><tspan x="0" y="56.7">000</tspan><tspan x="0" y="60.24">000</tspan><tspan x="0" y="63.79">000</tspan><tspan x="0" y="67.33">000</tspan><tspan x="0" y="70.88">000</tspan><tspan x="0" y="74.42">000</tspan><tspan x="0" y="77.96">000</tspan><tspan x="0" y="81.51">000</tspan><tspan x="0" y="85.05">000</tspan><tspan x="0" y="88.59">000</tspan><tspan x="0" y="92.14">000</tspan><tspan x="0" y="95.68">000</tspan><tspan x="0" y="99.23">000</tspan><tspan x="0" y="102.77">000</tspan><tspan x="0" y="106.31">000</tspan><tspan x="0" y="109.86">000</tspan></text>
<text x="431.29" y="91.4" font-size="3" fill="#333" text-anchor="middle">Monday</text>
<text x="445.46" y="91.4" font-size="3" fill="#333" text-anchor="middle">Tuesday</text>
<line x1="438.38" y1="85.6" x2="438.38" y2="93.1" stroke="#d9d9d9" stroke-width="0.4"/>
<text x="459.64" y="91.4" font-size="3" fill="#333" text-anchor="middle">Wednesday</text>
<line x1="452.55" y1="85.6" x2="452.55" y2="93.1" stroke="#d9d9d9" stroke-width="0.4"/>
<text x="473.81" y="91.4" font-size="3" fill="#333" text-anchor="middle">Thursday</text>
<line x1="466.73" y1="85.6" x2="466.73" y2="93.1" stroke="#d9d9d9" stroke-width="0.4"/>
<text x="487.99" y="91.4" font-size="3" fill="#333" text-anchor="middle">Friday</text>
<line x1="480.9" y1="85.6" x2="480.9" y2="93.1" stroke="#d9d9d9" stroke-width="0.4"/>
<text x="502.16" y="91.4" font-size="3" fill="#333" text-anchor="middle">Saturday</text>
<line x1="495.08" y1="85.6" x2="495.08" y2="93.1" stroke="#d9d9d9" stroke-width="0.4"/>
<text x="516.34" y="91.4" font-size="3" fill="#333" text-anchor="middle">Sunday</text>
<line x1="509.25" y1="85.6" x2="509.25" y2="93.1" stroke="#d9d9d9" stroke-width="0.4"/>
<text x="530.51" y="91.4" font-size="3" fill="#333" text-anchor="middle">Monday</text>
<line x1="523.42" y1="85.6" x2="523.42" y2="93.1" stroke="#d9d9d9" stroke-width="0.4"/>
<line x1="537.6" y1="37.3" x2="537.6" y2="93.4" stroke="#e0e0e0" stroke-width="0.5"/>
<line x1="424.2" y1="93.4" x2="537.6" y2="93.4" stroke="#e0e0e0" stroke-width="0.5"/>
<polyline points="491.5,63 491.5,69.5 526.3,69.5 526.3,57.4" fill="none" stroke="#92d050" stroke-width="0.85" stroke-linejoin="round"/>
<polyline points="424.3,58.59 424.75,58.96 425.2,59.02 425.62,59.11 426.04,59.4 426.46,59.78 426.98,59.17 427.5,58.42 428.09,54.11 428.47,48.29 428.8,44.1 429.08,42.7 429.31,42.84 429.6,43.37 430,44.08 430.47,44.99 431,45.77 431.64,45.92 432.35,45.93 433,45.78 433.52,46.12 433.98,46.33 434.5,47.08 435.13,47.86 435.81,48.75 436.5,49.99 437.19,51.72 437.87,53.45 438.5,55.13 439.06,56.62 439.56,57.79 440,57.81 440.33,55.68 440.61,52.82 441,49.94 441.61,47.62 442.33,45.24 443,43.65 443.5,43.27 443.94,43.5 444.5,44 445.3,44.34 445.75,44.91 446.2,45 447,45.52 447.57,45.75 448.04,46.14 448.5,46.81 449,47.85 449.5,48.94 450,50.08 450.52,51.48 451.04,53.41 451.5,54.47 451.85,55.22 452.15,55.8 452.5,55.39 452.98,54.12 453.52,52.15 454,50.04 454.33,48.2 454.61,46.35 455,44.94 455.52,44.09 456.15,44.17 456.57,44.37 457,44.26 457.42,44.3 457.84,44.38 458.26,44.52 458.75,44.25 459.25,44.22 459.74,44.29 460.16,44.43 460.58,44.3 461,44.67 461.42,44.75 461.83,45.18 462.44,45.92 463,47.06 463.54,48.76 464.02,50.52 464.5,52.09 465.02,53.36 465.54,54.63 466,55.49 466.37,56.54 466.69,56.62 467,56.15 467.33,55.55 467.67,54.06 468,52.03 468.3,49.78 468.59,47.01 469,44.92 469.56,43.91 470.22,43.38 471,42.98 471.48,43.09 471.96,42.97 472.5,42.92 473.04,42.76 473.52,43.01 474,43.16 474.74,44 475.37,45.22 476,45.97 476.69,46.39 477.37,46.61 478,46.79 478.56,47.25 479.06,47.15 479.5,47.97 479.87,49.48 480.19,51.67 480.5,53.78 480.83,54.53 481.17,55.33 481.5,56.06 481.83,56.56 482.17,57 482.5,56.87 482.83,57.07 483.17,56.69 483.5,55.83 483.83,54.39 484.17,52.28 484.5,49.94 484.83,47.55 485.17,45.21 485.5,43.47 485.83,42.64 486.17,42.32 486.5,42.18 486.83,42.79 487.17,43.33 487.5,43.87 487.83,44.54 488.17,45.55 488.5,46.88 488.83,48.48 489.17,50.94 489.5,53.07 489.83,55.09 490.17,57.23 490.5,59.05 490.81,60.57 491.13,61.65 491.5,62.68 491.96,63.43 492.48,63.68 493,63.98 493.5,64.28 494,64.65 494.5,64.89 495.02,65.16 495.54,65.37 496,65.57 496.37,65.63 496.69,66.07 497,66 497.33,65.71 497.67,65.16 498,64.24 498.31,63.3 498.63,61.78 499,61.04 499.46,60.6 499.98,60.68 500.5,60.66 501,60.69 501.5,60.91 502,61.09 502.5,61.78 503,62.35 503.5,63.06 504,63.65 504.5,64.45 505,65.1 505.48,65.41 505.96,65.58 506.5,65.93 507.13,66.25 507.81,66.38 508.5,66.38 509.19,66.4 509.87,66.44 510.5,66.15 511.04,66.39 511.52,66.78 512,66.38 512.5,65.73 513,64.99 513.5,64.16 513.98,63.67 514.46,63.22 515,62.86 515.63,63.35 516.31,63.43 517,63.59 517.67,63.9 518.33,64.02 519,64.08 519.7,64.22 520.41,64.57 521,64.46 521.39,63.48 521.67,62.06 522,60.83 522.46,60.1 522.98,59.43 523.5,59.01 524,58.76 524.5,58.46 525,58.04 525.54,57.94 526.07,57.53 526.5,55.89 526.72,52.54 526.83,48.31 527,44.88 527.28,43.66 527.61,43.03 528,42.7 528.46,42.66 528.98,42.57 529.5,42.34 530.02,42.63 530.54,43.18 531,43.42 531.35,43.9 531.65,44.55 532,45.3 532.46,46.06 532.98,47.09 533.5,47.76 534,48.36 534.5,48.95 535,48.97 535.52,49.32 536.04,49.62 536.5,49.8 536.91,51.19 537.26,52.82 537.5,54" fill="none" stroke="#5b9bd5" stroke-width="0.85" stroke-linejoin="round"/>
<line x1="496.6" y1="35.8" x2="501.9" y2="35.8" stroke="#92d050" stroke-width="0.9"/>
<text x="502.6" y="36.8" font-size="2.9" fill="#333">15%</text>
<line x1="496.6" y1="41.6" x2="501.9" y2="41.6" stroke="#5b9bd5" stroke-width="0.9"/>
<text x="502.6" y="42.6" font-size="2.9" fill="#333">Energy use (kWh)</text>
<rect x="412.3" y="97" width="127.8" height="60.3" fill="#fff" stroke="#c8c8c8" stroke-width="0.7"/>
<line x1="424.2" y1="137.5" x2="537.6" y2="137.5" stroke="#c8c8c8" stroke-width="0.5"/>
<text x="422.4" y="138.6" font-size="3.1" fill="#333" text-anchor="end">0</text>
<line x1="424.2" y1="130.8" x2="537.6" y2="130.8" stroke="#dadada" stroke-width="0.5"/>
<text x="422.4" y="131.9" font-size="3.1" fill="#333" text-anchor="end">2000</text>
<line x1="424.2" y1="124.1" x2="537.6" y2="124.1" stroke="#dadada" stroke-width="0.5"/>
<text x="422.4" y="125.2" font-size="3.1" fill="#333" text-anchor="end">4000</text>
<line x1="424.2" y1="117.3" x2="537.6" y2="117.3" stroke="#dadada" stroke-width="0.5"/>
<text x="422.4" y="118.4" font-size="3.1" fill="#333" text-anchor="end">6000</text>
<line x1="424.2" y1="110.5" x2="537.6" y2="110.5" stroke="#dadada" stroke-width="0.5"/>
<text x="422.4" y="111.6" font-size="3.1" fill="#333" text-anchor="end">8000</text>
<line x1="424.2" y1="103.6" x2="537.6" y2="103.6" stroke="#dadada" stroke-width="0.5"/>
<text x="422.4" y="104.7" font-size="3.1" fill="#333" text-anchor="end">10000</text>
<line x1="424.2" y1="103.6" x2="424.2" y2="137.5" stroke="#cfcfcf" stroke-width="0.5"/>
<rect x="424.2" y="137.9" width="113.4" height="11" fill="#ebebeb"/>
<text transform="translate(426.5 140.5) rotate(-89.9)" font-size="2.3" fill="#444" text-anchor="end" font-weight="bold"><tspan x="0" y="0">800</tspan><tspan x="0" y="3.54">800</tspan><tspan x="0" y="7.09">800</tspan><tspan x="0" y="10.63">800</tspan><tspan x="0" y="14.18">800</tspan><tspan x="0" y="17.72">800</tspan><tspan x="0" y="21.26">800</tspan><tspan x="0" y="24.81">800</tspan><tspan x="0" y="28.35">800</tspan><tspan x="0" y="31.89">800</tspan><tspan x="0" y="35.44">800</tspan><tspan x="0" y="38.98">800</tspan><tspan x="0" y="42.53">800</tspan><tspan x="0" y="46.07">800</tspan><tspan x="0" y="49.61">800</tspan><tspan x="0" y="53.16">800</tspan><tspan x="0" y="56.7">800</tspan><tspan x="0" y="60.24">800</tspan><tspan x="0" y="63.79">800</tspan><tspan x="0" y="67.33">800</tspan><tspan x="0" y="70.88">800</tspan><tspan x="0" y="74.42">800</tspan><tspan x="0" y="77.96">800</tspan><tspan x="0" y="81.51">800</tspan><tspan x="0" y="85.05">800</tspan><tspan x="0" y="88.59">800</tspan><tspan x="0" y="92.14">800</tspan><tspan x="0" y="95.68">800</tspan><tspan x="0" y="99.23">800</tspan><tspan x="0" y="102.77">800</tspan><tspan x="0" y="106.31">800</tspan><tspan x="0" y="109.86">800</tspan></text>
<text transform="translate(426.5 144.7) rotate(-89.9)" font-size="2.3" fill="#444" text-anchor="end" font-weight="bold"><tspan x="0" y="0">000</tspan><tspan x="0" y="3.54">000</tspan><tspan x="0" y="7.09">000</tspan><tspan x="0" y="10.63">000</tspan><tspan x="0" y="14.18">000</tspan><tspan x="0" y="17.72">000</tspan><tspan x="0" y="21.26">000</tspan><tspan x="0" y="24.81">000</tspan><tspan x="0" y="28.35">000</tspan><tspan x="0" y="31.89">000</tspan><tspan x="0" y="35.44">000</tspan><tspan x="0" y="38.98">000</tspan><tspan x="0" y="42.53">000</tspan><tspan x="0" y="46.07">000</tspan><tspan x="0" y="49.61">000</tspan><tspan x="0" y="53.16">000</tspan><tspan x="0" y="56.7">000</tspan><tspan x="0" y="60.24">000</tspan><tspan x="0" y="63.79">000</tspan><tspan x="0" y="67.33">000</tspan><tspan x="0" y="70.88">000</tspan><tspan x="0" y="74.42">000</tspan><tspan x="0" y="77.96">000</tspan><tspan x="0" y="81.51">000</tspan><tspan x="0" y="85.05">000</tspan><tspan x="0" y="88.59">000</tspan><tspan x="0" y="92.14">000</tspan><tspan x="0" y="95.68">000</tspan><tspan x="0" y="99.23">000</tspan><tspan x="0" y="102.77">000</tspan><tspan x="0" y="106.31">000</tspan><tspan x="0" y="109.86">000</tspan></text>
<text x="431.29" y="154.3" font-size="3" fill="#333" text-anchor="middle">Monday</text>
<text x="445.46" y="154.3" font-size="3" fill="#333" text-anchor="middle">Tuesday</text>
<line x1="438.38" y1="148.9" x2="438.38" y2="156" stroke="#d9d9d9" stroke-width="0.4"/>
<text x="459.64" y="154.3" font-size="3" fill="#333" text-anchor="middle">Wednesday</text>
<line x1="452.55" y1="148.9" x2="452.55" y2="156" stroke="#d9d9d9" stroke-width="0.4"/>
<text x="473.81" y="154.3" font-size="3" fill="#333" text-anchor="middle">Thursday</text>
<line x1="466.73" y1="148.9" x2="466.73" y2="156" stroke="#d9d9d9" stroke-width="0.4"/>
<text x="487.99" y="154.3" font-size="3" fill="#333" text-anchor="middle">Friday</text>
<line x1="480.9" y1="148.9" x2="480.9" y2="156" stroke="#d9d9d9" stroke-width="0.4"/>
<text x="502.16" y="154.3" font-size="3" fill="#333" text-anchor="middle">Saturday</text>
<line x1="495.08" y1="148.9" x2="495.08" y2="156" stroke="#d9d9d9" stroke-width="0.4"/>
<text x="516.34" y="154.3" font-size="3" fill="#333" text-anchor="middle">Sunday</text>
<line x1="509.25" y1="148.9" x2="509.25" y2="156" stroke="#d9d9d9" stroke-width="0.4"/>
<text x="530.51" y="154.3" font-size="3" fill="#333" text-anchor="middle">Monday</text>
<line x1="523.42" y1="148.9" x2="523.42" y2="156" stroke="#d9d9d9" stroke-width="0.4"/>
<line x1="537.6" y1="101.6" x2="537.6" y2="156.3" stroke="#e0e0e0" stroke-width="0.5"/>
<line x1="424.2" y1="156.3" x2="537.6" y2="156.3" stroke="#e0e0e0" stroke-width="0.5"/>
<polyline points="491.5,124.4 491.5,132.5 526.7,132.5 526.7,124.4" fill="none" stroke="#92d050" stroke-width="0.85" stroke-linejoin="round"/>
<polyline points="424.5,135.06 424.91,135.93 425.48,137.29 426,135.24 426.37,128.05 426.69,118.18 427,109.98 427.3,105.36 427.59,102.73 428,100.96 428.64,100.51 429.39,100.91 430,101.28 430.37,101.39 430.61,101.7 430.8,102.67 430.95,105.97 431.05,109.96 431.2,112.08 431.43,109.89 431.7,105.87 432,103.05 432.32,102.59 432.66,102.99 433,104.16 433.33,104.87 433.67,106.26 434,108.02 434.33,110.96 434.67,114.49 435,117.91 435.31,120.97 435.63,123.1 436,125.2 436.46,126.62 436.98,127.35 437.5,128.16 438,128.75 438.5,128.85 439,128.96 439.52,129.93 440.04,130.62 440.5,129.61 440.87,124.76 441.19,117.84 441.5,111.96 441.83,107.46 442.17,104.04 442.5,101.6 442.81,100.51 443.13,100.53 443.5,101.07 444,101.07 444.56,101.55 445,102.44 445.22,105.37 445.33,109.04 445.5,110.83 445.8,109.5 446.15,105.93 446.5,103.05 446.85,102.6 447.2,102.78 447.5,104.09 447.69,105.76 447.81,107.77 448,109.97 448.3,112.28 448.65,114.7 449,116.98 449.3,119.33 449.59,121.81 450,123.92 450.56,125.7 451.22,126.96 452,128.05 452.5,128.59 453,129.43 453.56,130.12 454.11,130.79 454.56,130.39 455,129.94 455.48,124.99 455.74,118.22 456,112.13 456.33,107.56 456.67,104.06 457,101.41 457.31,100.33 457.63,100.55 458,101.16 458.5,101.13 459.06,101.2 459.5,102.46 459.72,105.51 459.83,109.4 460,111.5 460.3,109.39 460.65,105.47 461,102.7 461.35,102.46 461.7,102.97 462,103.94 462.19,105.45 462.31,107.71 462.5,110.18 462.8,112.58 463.15,115.44 463.5,118.32 463.8,120.43 464.09,122.27 464.5,124.07 465.07,125.62 465.76,127.03 466.5,128.09 466.93,128.68 467.35,129.37 467.81,129.99 468.26,130.44 469,129.49 469.44,124.7 469.72,118.14 470,112.25 470.33,107.61 470.67,104.11 471,101.57 471.31,100.57 471.63,100.64 472,101.04 472.49,101.24 473.04,101.32 473.5,102.6 473.79,105.44 473.99,109 474.2,110.95 474.45,109.29 474.71,105.63 475,103.05 475.34,102.47 475.7,102.9 476,104.11 476.19,105.52 476.31,107.85 476.5,110.09 476.81,112.3 477.19,114.69 477.5,116.96 477.65,119.1 477.74,121.11 478,122.99 478.57,124.61 479.31,126.24 480,127.91 480.54,129.52 481.02,130.82 481.5,129.94 482,125.09 482.5,118.4 483,112.06 483.5,107.23 484,103.05 484.5,100.57 485,100.01 485.5,100.91 486,101.72 486.54,101.68 487.07,101.77 487.5,103.12 487.72,106.08 487.83,110.04 488,111.98 488.3,109.95 488.65,105.88 489,102.92 489.35,102.67 489.7,103.64 490,105.98 490.19,109.5 490.31,113.83 490.5,118.05 490.78,120.81 491.11,122.89 491.5,124.91 491.91,126.83 492.37,128.61 493,130.02 493.48,130.45 493.96,131.04 494.53,131.03 495.09,131.51 495.55,131.86 496,132.14 496.46,132.35 496.7,131.98 497,130.78 497.46,128.43 497.98,125.46 498.5,122.14 499,118.91 499.5,115.79 500,113.94 500.52,113.24 501.04,113.61 501.5,114.55 501.87,116.42 502.19,119.42 502.5,121.06 502.83,119.29 503.17,116.12 503.5,114.8 503.81,117.11 504.13,121.66 504.5,125.25 504.94,127.03 505.44,128.58 506,129.45 506.61,130.27 507.28,130.81 508,131.44 508.42,131.94 508.83,132.54 509.28,132.85 509.72,133.09 510.5,133.56 511.07,133.61 511.54,133.5 512,132.92 512.5,132.04 513,130.86 513.5,130.15 514,130.07 514.5,130.71 515,131.06 515.5,130.61 516,129.88 516.5,129.83 516.98,130.64 517.46,131.56 518,132.78 518.56,133.45 519.17,133.95 519.58,134.22 520,134.56 520.42,134.69 520.84,134.72 521.26,134.88 521.75,135.26 522.25,135.19 522.74,135.1 523.16,134.98 523.58,134.77 524,134.94 524.43,135.24 524.85,135.58 525.48,136.04 526,134.57 526.41,129.39 526.7,121.82 527,114.83 527.31,109.22 527.63,104.2 528,100.62 528.48,99.35 529.02,99.53 529.5,100.89 529.87,104.03 530.19,108.01 530.5,110.03 530.81,108.09 531.13,104.25 531.5,102.07 531.96,103.32 532.48,106.33 533,109.95 533.5,113.63 534,117.63 534.5,121.13 535,123.2 535.5,124.74 536,126.07 536.56,126.89 537.11,127.3 537.5,128" fill="none" stroke="#5b9bd5" stroke-width="0.85" stroke-linejoin="round"/>
<line x1="496.6" y1="101.5" x2="501.9" y2="101.5" stroke="#92d050" stroke-width="0.9"/>
<text x="502.6" y="102.5" font-size="2.9" fill="#333">15%</text>
<line x1="496.6" y1="107.5" x2="501.9" y2="107.5" stroke="#5b9bd5" stroke-width="0.9"/>
<text x="502.6" y="108.5" font-size="2.9" fill="#333">Energy use (kWh)</text>
<text x="431.3" y="136.3" font-size="4.9" fill="#000" textLength="52" lengthAdjust="spacingAndGlyphs">Production during Saturday</text>
<rect x="412.3" y="159.9" width="127.8" height="60.3" fill="#fff" stroke="#c8c8c8" stroke-width="0.7"/>
<line x1="424.2" y1="200.2" x2="537.6" y2="200.2" stroke="#c8c8c8" stroke-width="0.5"/>
<text x="422.4" y="201.3" font-size="3.1" fill="#333" text-anchor="end">0</text>
<line x1="424.2" y1="194" x2="537.6" y2="194" stroke="#dadada" stroke-width="0.5"/>
<text x="422.4" y="195.1" font-size="3.1" fill="#333" text-anchor="end">500</text>
<line x1="424.2" y1="188.5" x2="537.6" y2="188.5" stroke="#dadada" stroke-width="0.5"/>
<text x="422.4" y="189.6" font-size="3.1" fill="#333" text-anchor="end">1,000</text>
<line x1="424.2" y1="182.9" x2="537.6" y2="182.9" stroke="#dadada" stroke-width="0.5"/>
<text x="422.4" y="184" font-size="3.1" fill="#333" text-anchor="end">1,500</text>
<line x1="424.2" y1="177.2" x2="537.6" y2="177.2" stroke="#dadada" stroke-width="0.5"/>
<text x="422.4" y="178.3" font-size="3.1" fill="#333" text-anchor="end">2,000</text>
<line x1="424.2" y1="171.6" x2="537.6" y2="171.6" stroke="#dadada" stroke-width="0.5"/>
<text x="422.4" y="172.7" font-size="3.1" fill="#333" text-anchor="end">2,500</text>
<line x1="424.2" y1="166" x2="537.6" y2="166" stroke="#dadada" stroke-width="0.5"/>
<text x="422.4" y="167.1" font-size="3.1" fill="#333" text-anchor="end">3,000</text>
<line x1="424.2" y1="160.4" x2="537.6" y2="160.4" stroke="#dadada" stroke-width="0.5"/>
<text x="422.4" y="161.5" font-size="3.1" fill="#333" text-anchor="end">3,500</text>
<line x1="424.2" y1="160.4" x2="424.2" y2="200.2" stroke="#cfcfcf" stroke-width="0.5"/>
<rect x="424.2" y="200.6" width="113.4" height="11" fill="#ebebeb"/>
<text transform="translate(426.5 203.2) rotate(-89.9)" font-size="2.3" fill="#444" text-anchor="end" font-weight="bold"><tspan x="0" y="0">800</tspan><tspan x="0" y="3.54">800</tspan><tspan x="0" y="7.09">800</tspan><tspan x="0" y="10.63">800</tspan><tspan x="0" y="14.18">800</tspan><tspan x="0" y="17.72">800</tspan><tspan x="0" y="21.26">800</tspan><tspan x="0" y="24.81">800</tspan><tspan x="0" y="28.35">800</tspan><tspan x="0" y="31.89">800</tspan><tspan x="0" y="35.44">800</tspan><tspan x="0" y="38.98">800</tspan><tspan x="0" y="42.53">800</tspan><tspan x="0" y="46.07">800</tspan><tspan x="0" y="49.61">800</tspan><tspan x="0" y="53.16">800</tspan><tspan x="0" y="56.7">800</tspan><tspan x="0" y="60.24">800</tspan><tspan x="0" y="63.79">800</tspan><tspan x="0" y="67.33">800</tspan><tspan x="0" y="70.88">800</tspan><tspan x="0" y="74.42">800</tspan><tspan x="0" y="77.96">800</tspan><tspan x="0" y="81.51">800</tspan><tspan x="0" y="85.05">800</tspan><tspan x="0" y="88.59">800</tspan><tspan x="0" y="92.14">800</tspan><tspan x="0" y="95.68">800</tspan><tspan x="0" y="99.23">800</tspan><tspan x="0" y="102.77">800</tspan><tspan x="0" y="106.31">800</tspan><tspan x="0" y="109.86">800</tspan></text>
<text transform="translate(426.5 207.4) rotate(-89.9)" font-size="2.3" fill="#444" text-anchor="end" font-weight="bold"><tspan x="0" y="0">000</tspan><tspan x="0" y="3.54">000</tspan><tspan x="0" y="7.09">000</tspan><tspan x="0" y="10.63">000</tspan><tspan x="0" y="14.18">000</tspan><tspan x="0" y="17.72">000</tspan><tspan x="0" y="21.26">000</tspan><tspan x="0" y="24.81">000</tspan><tspan x="0" y="28.35">000</tspan><tspan x="0" y="31.89">000</tspan><tspan x="0" y="35.44">000</tspan><tspan x="0" y="38.98">000</tspan><tspan x="0" y="42.53">000</tspan><tspan x="0" y="46.07">000</tspan><tspan x="0" y="49.61">000</tspan><tspan x="0" y="53.16">000</tspan><tspan x="0" y="56.7">000</tspan><tspan x="0" y="60.24">000</tspan><tspan x="0" y="63.79">000</tspan><tspan x="0" y="67.33">000</tspan><tspan x="0" y="70.88">000</tspan><tspan x="0" y="74.42">000</tspan><tspan x="0" y="77.96">000</tspan><tspan x="0" y="81.51">000</tspan><tspan x="0" y="85.05">000</tspan><tspan x="0" y="88.59">000</tspan><tspan x="0" y="92.14">000</tspan><tspan x="0" y="95.68">000</tspan><tspan x="0" y="99.23">000</tspan><tspan x="0" y="102.77">000</tspan><tspan x="0" y="106.31">000</tspan><tspan x="0" y="109.86">000</tspan></text>
<text x="431.29" y="217.2" font-size="3" fill="#333" text-anchor="middle">Monday</text>
<text x="445.46" y="217.2" font-size="3" fill="#333" text-anchor="middle">Tuesday</text>
<line x1="438.38" y1="211.6" x2="438.38" y2="218.9" stroke="#d9d9d9" stroke-width="0.4"/>
<text x="459.64" y="217.2" font-size="3" fill="#333" text-anchor="middle">Wednesday</text>
<line x1="452.55" y1="211.6" x2="452.55" y2="218.9" stroke="#d9d9d9" stroke-width="0.4"/>
<text x="473.81" y="217.2" font-size="3" fill="#333" text-anchor="middle">Thursday</text>
<line x1="466.73" y1="211.6" x2="466.73" y2="218.9" stroke="#d9d9d9" stroke-width="0.4"/>
<text x="487.99" y="217.2" font-size="3" fill="#333" text-anchor="middle">Friday</text>
<line x1="480.9" y1="211.6" x2="480.9" y2="218.9" stroke="#d9d9d9" stroke-width="0.4"/>
<text x="502.16" y="217.2" font-size="3" fill="#333" text-anchor="middle">Saturday</text>
<line x1="495.08" y1="211.6" x2="495.08" y2="218.9" stroke="#d9d9d9" stroke-width="0.4"/>
<text x="516.34" y="217.2" font-size="3" fill="#333" text-anchor="middle">Sunday</text>
<line x1="509.25" y1="211.6" x2="509.25" y2="218.9" stroke="#d9d9d9" stroke-width="0.4"/>
<text x="530.51" y="217.2" font-size="3" fill="#333" text-anchor="middle">Monday</text>
<line x1="523.42" y1="211.6" x2="523.42" y2="218.9" stroke="#d9d9d9" stroke-width="0.4"/>
<line x1="537.6" y1="158.4" x2="537.6" y2="219.2" stroke="#e0e0e0" stroke-width="0.5"/>
<line x1="424.2" y1="219.2" x2="537.6" y2="219.2" stroke="#e0e0e0" stroke-width="0.5"/>
<polyline points="491.5,177.5 491.5,196.1 526.5,196.1 526.5,180.3" fill="none" stroke="#92d050" stroke-width="0.85" stroke-linejoin="round"/>
<polyline points="423.5,179.26 424.2,178.23 424.69,177.75 425.19,177.16 425.59,176.48 426,175.89 426.44,174.58 426.72,173.2 427,172.02 427.31,171.04 427.63,170.06 428,169.66 428.46,169.89 428.98,170.55 429.5,170.99 429.98,170.78 430.46,170.35 431,170.39 431.65,170.78 432.35,171.43 433,172.03 433.54,172.36 434.02,172.85 434.5,173.3 435,173.98 435.5,174.38 436,175 436.5,175.87 437,176.93 437.5,177.84 438.02,178.27 438.54,178.44 439,178.32 439.37,178.9 439.69,179.26 440,178.88 440.3,176.94 440.59,174.14 441,172.01 441.59,171.04 442.3,170.52 443,169.96 443.67,169.34 444.33,168.73 445,168.61 445.69,169.09 446.37,169.81 447,170.83 447.54,171.9 448.02,173.14 448.5,174 449,174.67 449.5,175.05 450,175.38 450.5,176.32 451,177.39 451.5,178.05 452.02,177.95 452.54,177.87 453,177.41 453.33,176.95 453.61,176.62 454,175.18 454.65,172.01 455.41,168.25 456,165.8 456.22,165.68 456.28,166.92 456.5,168.27 457.07,168.75 457.81,169.04 458.5,169.17 459.02,169.58 459.48,169.32 460,169.54 460.63,170.82 461.31,172.47 462,173.85 462.67,175.33 463.33,176.5 464,177.52 464.63,178.22 465.26,178.55 466,178.99 466.49,179.65 466.98,179.75 467.53,180.12 468.07,180.52 468.54,180.18 469,179.97 469.61,177.09 470.06,173.31 470.5,170.44 470.98,169.38 471.46,169.09 472,168.98 472.63,169.22 473.31,170.28 474,171.16 474.67,171.81 475.33,172.96 476,173.84 476.69,174.56 477.37,174.97 478,175.34 478.54,175.05 479.02,174.5 479.5,174.58 479.98,175.46 480.46,176.68 481,177.73 481.65,178.86 482.35,179.91 483,179.63 483.54,176.88 484.02,173.27 484.5,170.6 485,170.07 485.5,170.86 486,171.5 486.5,171.47 487,171.55 487.5,171.97 487.98,172.99 488.46,173.91 489,174.99 489.63,175.74 490.31,176.36 491,176.84 491.67,177.68 492.33,178.37 493,179.26 493.69,180.34 494.37,181.83 495,183.16 495.54,184.6 496.02,185.88 496.5,187.03 496.98,187.84 497.46,188.32 498,188.39 498.63,187.41 499.31,185.92 500,184.87 500.67,184.37 501.33,184.53 502,184.79 502.67,185.37 503.33,186.28 504,186.97 504.67,187.78 505.33,188.29 506,188.85 506.67,189.2 507.33,189.37 508,189.56 508.67,189.33 509.33,189.46 510,189.04 510.69,189.17 511.37,188.96 512,188.55 512.54,186.39 513.02,183.84 513.5,181.98 513.98,181.72 514.46,182.14 515,182.59 515.65,182.94 516.35,183.65 517,183.54 517.54,182.83 518.02,181.69 518.5,180.99 518.98,180.93 519.46,181.34 520,181.52 520.67,180.77 521.39,179.86 522,178.94 522.39,178.59 522.67,178.09 523,178.23 523.46,179.04 523.98,180.15 524.5,180.13 525,177.43 525.5,173.41 526,170.27 526.5,168.99 527,168.44 527.5,168.59 527.98,168.63 528.46,169.06 529,169.67 529.63,170.05 530.31,170.91 531,171.85 531.67,172.54 532.33,173.26 533,174.18 533.67,174.78 534.33,175.42 535,175.71 535.74,175.07 536.48,174.5 537,174" fill="none" stroke="#5b9bd5" stroke-width="0.85" stroke-linejoin="round"/>
<line x1="496.6" y1="163.6" x2="501.9" y2="163.6" stroke="#5b9bd5" stroke-width="0.9"/>
<text x="502.6" y="164.6" font-size="2.9" fill="#333">Energy use (kWh)</text>
<rect x="412.3" y="222.8" width="127.8" height="60.3" fill="#fff" stroke="#c8c8c8" stroke-width="0.7"/>
<line x1="424.2" y1="263.2" x2="537.6" y2="263.2" stroke="#c8c8c8" stroke-width="0.5"/>
<text x="422.4" y="264.3" font-size="3.1" fill="#333" text-anchor="end">0</text>
<line x1="424.2" y1="257.3" x2="537.6" y2="257.3" stroke="#dadada" stroke-width="0.5"/>
<text x="422.4" y="258.4" font-size="3.1" fill="#333" text-anchor="end">500</text>
<line x1="424.2" y1="251.7" x2="537.6" y2="251.7" stroke="#dadada" stroke-width="0.5"/>
<text x="422.4" y="252.8" font-size="3.1" fill="#333" text-anchor="end">1,000</text>
<line x1="424.2" y1="246.3" x2="537.6" y2="246.3" stroke="#dadada" stroke-width="0.5"/>
<text x="422.4" y="247.4" font-size="3.1" fill="#333" text-anchor="end">1,500</text>
<line x1="424.2" y1="240.7" x2="537.6" y2="240.7" stroke="#dadada" stroke-width="0.5"/>
<text x="422.4" y="241.8" font-size="3.1" fill="#333" text-anchor="end">2,000</text>
<line x1="424.2" y1="235.1" x2="537.6" y2="235.1" stroke="#dadada" stroke-width="0.5"/>
<text x="422.4" y="236.2" font-size="3.1" fill="#333" text-anchor="end">2,500</text>
<line x1="424.2" y1="229.3" x2="537.6" y2="229.3" stroke="#dadada" stroke-width="0.5"/>
<text x="422.4" y="230.4" font-size="3.1" fill="#333" text-anchor="end">3,000</text>
<line x1="424.2" y1="223.7" x2="537.6" y2="223.7" stroke="#dadada" stroke-width="0.5"/>
<text x="422.4" y="224.8" font-size="3.1" fill="#333" text-anchor="end">3,500</text>
<line x1="424.2" y1="223.7" x2="424.2" y2="263.2" stroke="#cfcfcf" stroke-width="0.5"/>
<rect x="424.2" y="263.6" width="113.4" height="11" fill="#ebebeb"/>
<text transform="translate(426.5 266.2) rotate(-89.9)" font-size="2.3" fill="#444" text-anchor="end" font-weight="bold"><tspan x="0" y="0">800</tspan><tspan x="0" y="3.54">800</tspan><tspan x="0" y="7.09">800</tspan><tspan x="0" y="10.63">800</tspan><tspan x="0" y="14.18">800</tspan><tspan x="0" y="17.72">800</tspan><tspan x="0" y="21.26">800</tspan><tspan x="0" y="24.81">800</tspan><tspan x="0" y="28.35">800</tspan><tspan x="0" y="31.89">800</tspan><tspan x="0" y="35.44">800</tspan><tspan x="0" y="38.98">800</tspan><tspan x="0" y="42.53">800</tspan><tspan x="0" y="46.07">800</tspan><tspan x="0" y="49.61">800</tspan><tspan x="0" y="53.16">800</tspan><tspan x="0" y="56.7">800</tspan><tspan x="0" y="60.24">800</tspan><tspan x="0" y="63.79">800</tspan><tspan x="0" y="67.33">800</tspan><tspan x="0" y="70.88">800</tspan><tspan x="0" y="74.42">800</tspan><tspan x="0" y="77.96">800</tspan><tspan x="0" y="81.51">800</tspan><tspan x="0" y="85.05">800</tspan><tspan x="0" y="88.59">800</tspan><tspan x="0" y="92.14">800</tspan><tspan x="0" y="95.68">800</tspan><tspan x="0" y="99.23">800</tspan><tspan x="0" y="102.77">800</tspan><tspan x="0" y="106.31">800</tspan><tspan x="0" y="109.86">800</tspan></text>
<text transform="translate(426.5 270.4) rotate(-89.9)" font-size="2.3" fill="#444" text-anchor="end" font-weight="bold"><tspan x="0" y="0">000</tspan><tspan x="0" y="3.54">000</tspan><tspan x="0" y="7.09">000</tspan><tspan x="0" y="10.63">000</tspan><tspan x="0" y="14.18">000</tspan><tspan x="0" y="17.72">000</tspan><tspan x="0" y="21.26">000</tspan><tspan x="0" y="24.81">000</tspan><tspan x="0" y="28.35">000</tspan><tspan x="0" y="31.89">000</tspan><tspan x="0" y="35.44">000</tspan><tspan x="0" y="38.98">000</tspan><tspan x="0" y="42.53">000</tspan><tspan x="0" y="46.07">000</tspan><tspan x="0" y="49.61">000</tspan><tspan x="0" y="53.16">000</tspan><tspan x="0" y="56.7">000</tspan><tspan x="0" y="60.24">000</tspan><tspan x="0" y="63.79">000</tspan><tspan x="0" y="67.33">000</tspan><tspan x="0" y="70.88">000</tspan><tspan x="0" y="74.42">000</tspan><tspan x="0" y="77.96">000</tspan><tspan x="0" y="81.51">000</tspan><tspan x="0" y="85.05">000</tspan><tspan x="0" y="88.59">000</tspan><tspan x="0" y="92.14">000</tspan><tspan x="0" y="95.68">000</tspan><tspan x="0" y="99.23">000</tspan><tspan x="0" y="102.77">000</tspan><tspan x="0" y="106.31">000</tspan><tspan x="0" y="109.86">000</tspan></text>
<text x="431.29" y="280.1" font-size="3" fill="#333" text-anchor="middle">Monday</text>
<text x="445.46" y="280.1" font-size="3" fill="#333" text-anchor="middle">Tuesday</text>
<line x1="438.38" y1="274.6" x2="438.38" y2="281.8" stroke="#d9d9d9" stroke-width="0.4"/>
<text x="459.64" y="280.1" font-size="3" fill="#333" text-anchor="middle">Wednesday</text>
<line x1="452.55" y1="274.6" x2="452.55" y2="281.8" stroke="#d9d9d9" stroke-width="0.4"/>
<text x="473.81" y="280.1" font-size="3" fill="#333" text-anchor="middle">Thursday</text>
<line x1="466.73" y1="274.6" x2="466.73" y2="281.8" stroke="#d9d9d9" stroke-width="0.4"/>
<text x="487.99" y="280.1" font-size="3" fill="#333" text-anchor="middle">Friday</text>
<line x1="480.9" y1="274.6" x2="480.9" y2="281.8" stroke="#d9d9d9" stroke-width="0.4"/>
<text x="502.16" y="280.1" font-size="3" fill="#333" text-anchor="middle">Saturday</text>
<line x1="495.08" y1="274.6" x2="495.08" y2="281.8" stroke="#d9d9d9" stroke-width="0.4"/>
<text x="516.34" y="280.1" font-size="3" fill="#333" text-anchor="middle">Sunday</text>
<line x1="509.25" y1="274.6" x2="509.25" y2="281.8" stroke="#d9d9d9" stroke-width="0.4"/>
<text x="530.51" y="280.1" font-size="3" fill="#333" text-anchor="middle">Monday</text>
<line x1="523.42" y1="274.6" x2="523.42" y2="281.8" stroke="#d9d9d9" stroke-width="0.4"/>
<line x1="537.6" y1="221.7" x2="537.6" y2="282.1" stroke="#e0e0e0" stroke-width="0.5"/>
<line x1="424.2" y1="282.1" x2="537.6" y2="282.1" stroke="#e0e0e0" stroke-width="0.5"/>
<polyline points="491.5,246 491.5,258.3 526.5,258.3 526.5,245.5" fill="none" stroke="#92d050" stroke-width="0.85" stroke-linejoin="round"/>
<polyline points="423.5,245.95 423.91,246.29 424.48,247.32 425,247.92 425.37,247.55 425.69,246.95 426,245.27 426.33,241.61 426.67,236.92 427,233.23 427.31,231.15 427.63,229.95 428,229.2 428.48,228.99 429.02,228.92 429.5,229.01 429.87,229.28 430.19,230.28 430.5,230.93 430.81,230.77 431.13,230.41 431.5,230.71 431.96,231.26 432.48,231.99 433,232.62 433.5,233.01 434,233.43 434.5,234.07 435.02,234.44 435.54,235.03 436,236.19 436.37,237.44 436.69,239.27 437,241.18 437.31,242.21 437.63,242.98 438,243.42 438.48,243.65 439.02,244.09 439.5,243.69 439.87,244.08 440.19,244.03 440.5,242.95 440.83,239.45 441.17,235.37 441.5,232.08 441.81,230.62 442.13,230.19 442.5,229.86 442.98,230.04 443.52,230.53 444,231.01 444.35,231.31 444.65,232.38 445,232.94 445.46,232.52 445.98,231.92 446.5,231.65 447,231.44 447.5,231.69 448,232.01 448.5,232.98 449,234.53 449.5,235.88 450.02,237.08 450.54,238.64 451,239.97 451.33,241.38 451.61,242.49 452,243.41 452.63,244.27 453.37,244.59 454,243.95 454.41,241.55 454.7,237.92 455,234.99 455.31,232.82 455.63,231.52 456,230.85 456.46,230.17 456.98,229.87 457.5,229.8 458.02,230.38 458.54,231.37 459,231.85 459.33,231.58 459.61,230.78 460,230.61 460.63,231.48 461.37,233.09 462,234.22 462.39,233.82 462.67,233.18 463,232.97 463.46,233.61 463.98,234.84 464.5,236.01 465,237.52 465.5,239.26 466,240.72 466.5,241.76 467,242.51 467.5,243.03 468.02,244.09 468.54,245.31 469,244.86 469.35,241.8 469.65,236.94 470,233.21 470.46,231.15 470.98,230.06 471.5,229.44 472.02,229.88 472.54,230.8 473,231.92 473.37,233.44 473.69,235.27 474,236.15 474.31,235.99 474.63,234.89 475,233.91 475.46,234.05 475.98,234.84 476.5,235.16 477,234.97 477.5,234.64 478,235.02 478.5,236.38 479,238.16 479.5,239.99 480,241.69 480.5,243.12 481,244.43 481.52,245.38 482.04,246.04 482.5,245.84 482.87,244.42 483.19,242.12 483.5,240.17 483.81,237.87 484.13,235.71 484.5,233.94 484.96,233.28 485.48,233.18 486,233.24 486.52,233.01 487.04,232.51 487.5,232.77 487.87,233.03 488.19,233.86 488.5,235.09 488.83,237.29 489.17,239.96 489.5,242.86 489.83,246.73 490.17,250.72 490.5,253.99 490.81,256 491.13,257.24 491.5,258.36 491.91,258.61 492.37,258.81 493,258.87 493.44,259.18 493.89,259.15 494.42,259.08 494.94,259.2 495.47,259.11 496,259.1 496.52,258.62 497.04,258.48 497.56,258.26 498.07,257.83 498.54,257.84 499,257.56 499.67,257.58 500.22,258.01 501,258.55 501.59,258.87 502.19,258.92 502.65,259.13 503.12,259.18 503.59,259.21 504.06,259.22 504.53,259.48 505,259.47 505.44,259.44 505.89,259.57 506.33,259.49 506.78,259.15 507.22,258.95 507.67,258.84 508.11,258.46 508.56,258.6 509,258.42 509.44,258.59 509.89,258.48 510.33,258.5 510.78,258.72 511.22,258.83 511.67,259.07 512.11,258.92 512.56,258.88 513,259.18 513.44,259.22 513.89,259.06 514.33,259.12 514.78,259.3 515.22,259.3 515.67,259.22 516.11,259.38 516.56,259.51 517,259.69 517.48,259.73 517.96,259.72 518.44,259.52 518.93,259.36 519.41,259.31 519.89,259.47 520.44,259.36 521,258.82 521.56,258.04 521.78,256.81 522,255.25 522.31,252.89 522.63,250.25 523,248.12 523.48,247.11 524.02,246.79 524.5,246.5 524.87,246.29 525.19,246.29 525.5,245.11 525.81,241.14 526.13,236.15 526.5,231.96 526.98,230.38 527.52,229.76 528,229.61 528.35,229.1 528.65,228.78 529,228.68 529.46,228.96 529.98,229.61 530.5,230.11 531,230.24 531.5,230.92 532,231.54 532.5,231.75 533,232.58 533.5,233.01 534,233.61 534.5,233.9 535,234.04 535.52,233.49 536.04,232.81 536.5,232.28 536.91,232.78 537.26,233.44 537.5,234" fill="none" stroke="#5b9bd5" stroke-width="0.85" stroke-linejoin="round"/>
<line x1="496.6" y1="226.4" x2="501.9" y2="226.4" stroke="#92d050" stroke-width="0.9"/>
<text x="502.6" y="227.4" font-size="2.9" fill="#333">15%</text>
<line x1="496.6" y1="232.6" x2="501.9" y2="232.6" stroke="#5b9bd5" stroke-width="0.9"/>
<text x="502.6" y="233.6" font-size="2.9" fill="#333">Energy use (kWh)</text>
<rect x="412.3" y="285.7" width="127.8" height="60.3" fill="#fff" stroke="#c8c8c8" stroke-width="0.7"/>
<line x1="424.2" y1="326.2" x2="537.6" y2="326.2" stroke="#c8c8c8" stroke-width="0.5"/>
<text x="422.4" y="327.3" font-size="3.1" fill="#333" text-anchor="end">0</text>
<line x1="424.2" y1="319.1" x2="537.6" y2="319.1" stroke="#dadada" stroke-width="0.5"/>
<text x="422.4" y="320.2" font-size="3.1" fill="#333" text-anchor="end">500</text>
<line x1="424.2" y1="312.8" x2="537.6" y2="312.8" stroke="#dadada" stroke-width="0.5"/>
<text x="422.4" y="313.9" font-size="3.1" fill="#333" text-anchor="end">1000</text>
<line x1="424.2" y1="306.2" x2="537.6" y2="306.2" stroke="#dadada" stroke-width="0.5"/>
<text x="422.4" y="307.3" font-size="3.1" fill="#333" text-anchor="end">1500</text>
<line x1="424.2" y1="299.6" x2="537.6" y2="299.6" stroke="#dadada" stroke-width="0.5"/>
<text x="422.4" y="300.7" font-size="3.1" fill="#333" text-anchor="end">2000</text>
<line x1="424.2" y1="293.2" x2="537.6" y2="293.2" stroke="#dadada" stroke-width="0.5"/>
<text x="422.4" y="294.3" font-size="3.1" fill="#333" text-anchor="end">2500</text>
<line x1="424.2" y1="286.7" x2="537.6" y2="286.7" stroke="#dadada" stroke-width="0.5"/>
<text x="422.4" y="287.8" font-size="3.1" fill="#333" text-anchor="end">3000</text>
<line x1="424.2" y1="286.7" x2="424.2" y2="326.2" stroke="#cfcfcf" stroke-width="0.5"/>
<rect x="424.2" y="326.6" width="113.4" height="11" fill="#ebebeb"/>
<text transform="translate(426.5 329.2) rotate(-89.9)" font-size="2.3" fill="#444" text-anchor="end" font-weight="bold"><tspan x="0" y="0">800</tspan><tspan x="0" y="3.54">800</tspan><tspan x="0" y="7.09">800</tspan><tspan x="0" y="10.63">800</tspan><tspan x="0" y="14.18">800</tspan><tspan x="0" y="17.72">800</tspan><tspan x="0" y="21.26">800</tspan><tspan x="0" y="24.81">800</tspan><tspan x="0" y="28.35">800</tspan><tspan x="0" y="31.89">800</tspan><tspan x="0" y="35.44">800</tspan><tspan x="0" y="38.98">800</tspan><tspan x="0" y="42.53">800</tspan><tspan x="0" y="46.07">800</tspan><tspan x="0" y="49.61">800</tspan><tspan x="0" y="53.16">800</tspan><tspan x="0" y="56.7">800</tspan><tspan x="0" y="60.24">800</tspan><tspan x="0" y="63.79">800</tspan><tspan x="0" y="67.33">800</tspan><tspan x="0" y="70.88">800</tspan><tspan x="0" y="74.42">800</tspan><tspan x="0" y="77.96">800</tspan><tspan x="0" y="81.51">800</tspan><tspan x="0" y="85.05">800</tspan><tspan x="0" y="88.59">800</tspan><tspan x="0" y="92.14">800</tspan><tspan x="0" y="95.68">800</tspan><tspan x="0" y="99.23">800</tspan><tspan x="0" y="102.77">800</tspan><tspan x="0" y="106.31">800</tspan><tspan x="0" y="109.86">800</tspan></text>
<text transform="translate(426.5 333.4) rotate(-89.9)" font-size="2.3" fill="#444" text-anchor="end" font-weight="bold"><tspan x="0" y="0">000</tspan><tspan x="0" y="3.54">000</tspan><tspan x="0" y="7.09">000</tspan><tspan x="0" y="10.63">000</tspan><tspan x="0" y="14.18">000</tspan><tspan x="0" y="17.72">000</tspan><tspan x="0" y="21.26">000</tspan><tspan x="0" y="24.81">000</tspan><tspan x="0" y="28.35">000</tspan><tspan x="0" y="31.89">000</tspan><tspan x="0" y="35.44">000</tspan><tspan x="0" y="38.98">000</tspan><tspan x="0" y="42.53">000</tspan><tspan x="0" y="46.07">000</tspan><tspan x="0" y="49.61">000</tspan><tspan x="0" y="53.16">000</tspan><tspan x="0" y="56.7">000</tspan><tspan x="0" y="60.24">000</tspan><tspan x="0" y="63.79">000</tspan><tspan x="0" y="67.33">000</tspan><tspan x="0" y="70.88">000</tspan><tspan x="0" y="74.42">000</tspan><tspan x="0" y="77.96">000</tspan><tspan x="0" y="81.51">000</tspan><tspan x="0" y="85.05">000</tspan><tspan x="0" y="88.59">000</tspan><tspan x="0" y="92.14">000</tspan><tspan x="0" y="95.68">000</tspan><tspan x="0" y="99.23">000</tspan><tspan x="0" y="102.77">000</tspan><tspan x="0" y="106.31">000</tspan><tspan x="0" y="109.86">000</tspan></text>
<text x="431.29" y="343" font-size="3" fill="#333" text-anchor="middle">Monday</text>
<text x="445.46" y="343" font-size="3" fill="#333" text-anchor="middle">Tuesday</text>
<line x1="438.38" y1="337.6" x2="438.38" y2="344.7" stroke="#d9d9d9" stroke-width="0.4"/>
<text x="459.64" y="343" font-size="3" fill="#333" text-anchor="middle">Wednesday</text>
<line x1="452.55" y1="337.6" x2="452.55" y2="344.7" stroke="#d9d9d9" stroke-width="0.4"/>
<text x="473.81" y="343" font-size="3" fill="#333" text-anchor="middle">Thursday</text>
<line x1="466.73" y1="337.6" x2="466.73" y2="344.7" stroke="#d9d9d9" stroke-width="0.4"/>
<text x="487.99" y="343" font-size="3" fill="#333" text-anchor="middle">Friday</text>
<line x1="480.9" y1="337.6" x2="480.9" y2="344.7" stroke="#d9d9d9" stroke-width="0.4"/>
<text x="502.16" y="343" font-size="3" fill="#333" text-anchor="middle">Saturday</text>
<line x1="495.08" y1="337.6" x2="495.08" y2="344.7" stroke="#d9d9d9" stroke-width="0.4"/>
<text x="516.34" y="343" font-size="3" fill="#333" text-anchor="middle">Sunday</text>
<line x1="509.25" y1="337.6" x2="509.25" y2="344.7" stroke="#d9d9d9" stroke-width="0.4"/>
<text x="530.51" y="343" font-size="3" fill="#333" text-anchor="middle">Monday</text>
<line x1="523.42" y1="337.6" x2="523.42" y2="344.7" stroke="#d9d9d9" stroke-width="0.4"/>
<line x1="537.6" y1="284.7" x2="537.6" y2="345" stroke="#e0e0e0" stroke-width="0.5"/>
<line x1="424.2" y1="345" x2="537.6" y2="345" stroke="#e0e0e0" stroke-width="0.5"/>
<polyline points="490.6,313 490.6,322.3 524.6,322.3 524.6,313.6" fill="none" stroke="#92d050" stroke-width="0.85" stroke-linejoin="round"/>
<polyline points="423.5,317.8 423.91,317.89 424.48,317.42 425,315.97 425.37,313.12 425.69,309.07 426,306.25 426.31,304.42 426.63,303.27 427,302.63 427.46,302 427.98,302.06 428.5,302.14 429,302.17 429.5,302.16 430,301.93 430.52,301.78 431.04,301.31 431.5,301.47 431.87,302.01 432.19,302.9 432.5,304.06 432.81,305.22 433.13,306.25 433.5,307.09 433.96,308.12 434.48,309.2 435,310.39 435.52,311.67 436.04,312.93 436.5,313.98 436.85,315.11 437.15,316.03 437.5,316.89 437.96,317.87 438.48,318.49 439,318.16 439.52,316.71 440.04,314.55 440.5,311.95 440.85,308.77 441.15,305.53 441.5,302.87 441.96,302.04 442.48,301.83 443,301.94 443.52,302.04 444.04,301.97 444.5,302.05 444.87,302.58 445.19,303.1 445.5,304.06 445.81,304.6 446.13,305.21 446.5,305.87 446.98,306.74 447.52,307.46 448,307.89 448.37,307.72 448.69,307.1 449,307.16 449.33,308.13 449.67,309.7 450,310.95 450.33,312.36 450.67,313.8 451,315.14 451.31,316.22 451.63,317.38 452,318.17 452.46,318.38 452.98,318.34 453.5,317.36 454.02,314.84 454.54,311.1 455,307.95 455.35,305.46 455.65,303.31 456,301.73 456.46,301.54 456.98,301.57 457.5,301.72 458.02,301.69 458.54,302.33 459,302.49 459.35,301.99 459.65,301.45 460,301.39 460.46,302.58 460.98,303.93 461.5,305.03 462.02,305.44 462.54,305.55 463,305.89 463.37,307.47 463.69,309.25 464,311.15 464.33,313.04 464.67,314.62 465,316.31 465.31,317.09 465.63,317.67 466,317.74 466.46,318.4 466.98,318.34 467.5,316.94 468.02,313.06 468.54,308 469,304.15 469.33,302.59 469.61,302.14 470,301.93 470.59,301.6 471.3,301.75 472,301.99 472.69,301.91 473.37,302.14 474,302.21 474.56,302.16 475.06,302.42 475.5,303.06 475.85,304.27 476.15,306.05 476.5,307.79 476.96,309.94 477.48,312.3 478,313.98 478.5,315.31 479,315.89 479.5,316.62 480.02,317.63 480.54,318.45 481,318.35 481.37,317.05 481.69,314.76 482,312.04 482.33,308.91 482.67,305.2 483,302.79 483.3,301.9 483.59,301.72 484,301.61 484.63,301.42 485.37,301.74 486,302 486.41,302.47 486.7,303.13 487,303.98 487.33,306 487.67,308.65 488,311.06 488.33,312.91 488.67,314.64 489,316.17 489.31,317.39 489.63,318.6 490,319.63 490.46,319.8 490.98,319.81 491.5,319.72 491.98,320.12 492.46,320.87 493,321.32 493.63,321.22 494.31,321.41 495,321.17 495.69,320.7 496.37,320.03 497,319.66 497.54,319.1 498.02,319.16 498.5,319.1 498.94,319.27 499.39,319.43 500,320.22 500.46,320.37 500.93,320.46 501.47,320.57 502.02,320.83 502.51,320.85 503,321.06 503.72,321.58 504.33,321.87 505,321.93 505.41,321.85 505.81,321.4 506.25,320.9 506.69,320.59 507.09,320.55 507.5,320.34 508.22,320.15 508.89,320.83 509.5,320.97 510.02,321.34 510.48,321.82 511,322.14 511.59,322.13 512.24,321.9 513,321.35 513.48,321.1 513.96,321.1 514.5,321.04 515.04,320.85 515.52,320.61 516,320.53 516.76,320.36 517.41,319.72 518,320.05 518.54,320.74 519.02,321.42 519.5,321.51 519.98,321 520.46,320.05 521,319.27 521.65,318.17 522.35,317.12 523,316.21 523.56,315.71 524.06,315.28 524.5,313.81 524.85,310.52 525.15,306.38 525.5,303.13 525.96,301.41 526.48,301.04 527,300.97 527.5,301.05 528,301.2 528.5,301.46 529.02,301.84 529.54,302.31 530,302.53 530.35,302.27 530.65,301.98 531,302 531.46,302.38 531.98,303.13 532.5,303.96 533.02,304.58 533.54,305.81 534,307.05 534.37,309.35 534.69,312.18 535,314.16 535.31,314.94 535.63,315.36 536,315.91 536.52,317.26 537.09,318.96 537.5,320" fill="none" stroke="#5b9bd5" stroke-width="0.85" stroke-linejoin="round"/>
<line x1="493.5" y1="291.1" x2="498.8" y2="291.1" stroke="#92d050" stroke-width="0.9"/>
<text x="499.5" y="292.1" font-size="2.9" fill="#333">15%</text>
<line x1="493.5" y1="297.3" x2="498.8" y2="297.3" stroke="#5b9bd5" stroke-width="0.9"/>
<text x="499.5" y="298.3" font-size="2.9" fill="#333">Energy use (kWh)</text>
<rect x="412.3" y="348.6" width="127.8" height="60.3" fill="#fff" stroke="#c8c8c8" stroke-width="0.7"/>
<line x1="424.2" y1="388.7" x2="537.6" y2="388.7" stroke="#c8c8c8" stroke-width="0.5"/>
<text x="422.4" y="389.8" font-size="3.1" fill="#333" text-anchor="end">0</text>
<line x1="424.2" y1="382.1" x2="537.6" y2="382.1" stroke="#dadada" stroke-width="0.5"/>
<text x="422.4" y="383.2" font-size="3.1" fill="#333" text-anchor="end">500</text>
<line x1="424.2" y1="374.8" x2="537.6" y2="374.8" stroke="#dadada" stroke-width="0.5"/>
<text x="422.4" y="375.9" font-size="3.1" fill="#333" text-anchor="end">1000</text>
<line x1="424.2" y1="368" x2="537.6" y2="368" stroke="#dadada" stroke-width="0.5"/>
<text x="422.4" y="369.1" font-size="3.1" fill="#333" text-anchor="end">1500</text>
<line x1="424.2" y1="361.1" x2="537.6" y2="361.1" stroke="#dadada" stroke-width="0.5"/>
<text x="422.4" y="362.2" font-size="3.1" fill="#333" text-anchor="end">2000</text>
<line x1="424.2" y1="355" x2="537.6" y2="355" stroke="#dadada" stroke-width="0.5"/>
<text x="422.4" y="356.1" font-size="3.1" fill="#333" text-anchor="end">2500</text>
<line x1="424.2" y1="355" x2="424.2" y2="388.7" stroke="#cfcfcf" stroke-width="0.5"/>
<rect x="424.2" y="389.1" width="113.4" height="11" fill="#ebebeb"/>
<text transform="translate(426.5 391.7) rotate(-89.9)" font-size="2.3" fill="#444" text-anchor="end" font-weight="bold"><tspan x="0" y="0">800</tspan><tspan x="0" y="3.54">800</tspan><tspan x="0" y="7.09">800</tspan><tspan x="0" y="10.63">800</tspan><tspan x="0" y="14.18">800</tspan><tspan x="0" y="17.72">800</tspan><tspan x="0" y="21.26">800</tspan><tspan x="0" y="24.81">800</tspan><tspan x="0" y="28.35">800</tspan><tspan x="0" y="31.89">800</tspan><tspan x="0" y="35.44">800</tspan><tspan x="0" y="38.98">800</tspan><tspan x="0" y="42.53">800</tspan><tspan x="0" y="46.07">800</tspan><tspan x="0" y="49.61">800</tspan><tspan x="0" y="53.16">800</tspan><tspan x="0" y="56.7">800</tspan><tspan x="0" y="60.24">800</tspan><tspan x="0" y="63.79">800</tspan><tspan x="0" y="67.33">800</tspan><tspan x="0" y="70.88">800</tspan><tspan x="0" y="74.42">800</tspan><tspan x="0" y="77.96">800</tspan><tspan x="0" y="81.51">800</tspan><tspan x="0" y="85.05">800</tspan><tspan x="0" y="88.59">800</tspan><tspan x="0" y="92.14">800</tspan><tspan x="0" y="95.68">800</tspan><tspan x="0" y="99.23">800</tspan><tspan x="0" y="102.77">800</tspan><tspan x="0" y="106.31">800</tspan><tspan x="0" y="109.86">800</tspan></text>
<text transform="translate(426.5 395.9) rotate(-89.9)" font-size="2.3" fill="#444" text-anchor="end" font-weight="bold"><tspan x="0" y="0">000</tspan><tspan x="0" y="3.54">000</tspan><tspan x="0" y="7.09">000</tspan><tspan x="0" y="10.63">000</tspan><tspan x="0" y="14.18">000</tspan><tspan x="0" y="17.72">000</tspan><tspan x="0" y="21.26">000</tspan><tspan x="0" y="24.81">000</tspan><tspan x="0" y="28.35">000</tspan><tspan x="0" y="31.89">000</tspan><tspan x="0" y="35.44">000</tspan><tspan x="0" y="38.98">000</tspan><tspan x="0" y="42.53">000</tspan><tspan x="0" y="46.07">000</tspan><tspan x="0" y="49.61">000</tspan><tspan x="0" y="53.16">000</tspan><tspan x="0" y="56.7">000</tspan><tspan x="0" y="60.24">000</tspan><tspan x="0" y="63.79">000</tspan><tspan x="0" y="67.33">000</tspan><tspan x="0" y="70.88">000</tspan><tspan x="0" y="74.42">000</tspan><tspan x="0" y="77.96">000</tspan><tspan x="0" y="81.51">000</tspan><tspan x="0" y="85.05">000</tspan><tspan x="0" y="88.59">000</tspan><tspan x="0" y="92.14">000</tspan><tspan x="0" y="95.68">000</tspan><tspan x="0" y="99.23">000</tspan><tspan x="0" y="102.77">000</tspan><tspan x="0" y="106.31">000</tspan><tspan x="0" y="109.86">000</tspan></text>
<text x="431.29" y="405.9" font-size="3" fill="#333" text-anchor="middle">Monday</text>
<text x="445.46" y="405.9" font-size="3" fill="#333" text-anchor="middle">Tuesday</text>
<line x1="438.38" y1="400.1" x2="438.38" y2="407.6" stroke="#d9d9d9" stroke-width="0.4"/>
<text x="459.64" y="405.9" font-size="3" fill="#333" text-anchor="middle">Wednesday</text>
<line x1="452.55" y1="400.1" x2="452.55" y2="407.6" stroke="#d9d9d9" stroke-width="0.4"/>
<text x="473.81" y="405.9" font-size="3" fill="#333" text-anchor="middle">Thursday</text>
<line x1="466.73" y1="400.1" x2="466.73" y2="407.6" stroke="#d9d9d9" stroke-width="0.4"/>
<text x="487.99" y="405.9" font-size="3" fill="#333" text-anchor="middle">Friday</text>
<line x1="480.9" y1="400.1" x2="480.9" y2="407.6" stroke="#d9d9d9" stroke-width="0.4"/>
<text x="502.16" y="405.9" font-size="3" fill="#333" text-anchor="middle">Saturday</text>
<line x1="495.08" y1="400.1" x2="495.08" y2="407.6" stroke="#d9d9d9" stroke-width="0.4"/>
<text x="516.34" y="405.9" font-size="3" fill="#333" text-anchor="middle">Sunday</text>
<line x1="509.25" y1="400.1" x2="509.25" y2="407.6" stroke="#d9d9d9" stroke-width="0.4"/>
<text x="530.51" y="405.9" font-size="3" fill="#333" text-anchor="middle">Monday</text>
<line x1="523.42" y1="400.1" x2="523.42" y2="407.6" stroke="#d9d9d9" stroke-width="0.4"/>
<line x1="537.6" y1="353" x2="537.6" y2="407.9" stroke="#e0e0e0" stroke-width="0.5"/>
<line x1="424.2" y1="407.9" x2="537.6" y2="407.9" stroke="#e0e0e0" stroke-width="0.5"/>
<polyline points="490.5,378 490.5,384.3 524.4,384.3 524.4,376" fill="none" stroke="#92d050" stroke-width="0.85" stroke-linejoin="round"/>
<polyline points="423.5,381.5 423.76,381.53 424.13,381.57 424.5,380.16 424.83,376.02 425.17,370.19 425.5,365.07 425.81,361.4 426.13,358.48 426.5,356.35 426.96,355.3 427.48,355.12 428,355.49 428.52,355.58 429.04,355.96 429.5,355.87 429.87,355.77 430.19,355.47 430.5,355.57 430.83,355.94 431.17,356.83 431.5,358.16 431.83,360.22 432.17,362.33 432.5,364.79 432.83,367.53 433.17,370.23 433.5,372.2 433.83,373.83 434.17,375.42 434.5,376.09 434.83,375.6 435.17,374.54 435.5,373.58 435.83,373.14 436.17,373.31 436.5,374.01 436.83,375.02 437.17,376.62 437.5,377.94 437.83,379.34 438.17,380.44 438.5,381.09 438.83,380.81 439.17,379.83 439.5,378.01 439.83,374.31 440.17,369.44 440.5,364.83 440.81,361.29 441.13,358.33 441.5,356.06 441.96,354.88 442.48,354.99 443,355.09 443.52,355.24 444.04,355.59 444.5,355.97 444.87,356.07 445.19,355.72 445.5,356.35 445.83,357.66 446.17,359.76 446.5,362 446.83,364.56 447.17,367.44 447.5,370.22 447.83,372.76 448.17,374.64 448.5,376.2 448.83,375.93 449.17,374.61 449.5,374.09 449.83,373.81 450.17,373.92 450.5,374.57 450.83,375.45 451.17,376.74 451.5,378.16 451.81,379.83 452.13,381.17 452.5,381.34 452.98,378.57 453.52,374.18 454,369.75 454.35,365.55 454.65,361.19 455,357.96 455.46,356.91 455.98,356.87 456.5,356.99 457.02,357.17 457.54,357.39 458,357.57 458.37,357.59 458.69,357.51 459,358.09 459.31,359.86 459.63,362.31 460,364.87 460.48,368.01 461.02,370.8 461.5,372.77 461.87,374.48 462.19,375.44 462.5,375.83 462.81,375.41 463.13,374.47 463.5,374.12 463.96,374.6 464.48,375.69 465,377.06 465.52,378.61 466.04,380.61 466.5,381.2 466.87,379.73 467.19,376.46 467.5,372.85 467.83,369.1 468.17,365.05 468.5,361.94 468.81,359.83 469.13,358.5 469.5,357.59 469.94,357.12 470.44,357.03 471,356.96 471.67,357.04 472.39,357.14 473,357.5 473.41,358.18 473.7,358.73 474,360.05 474.33,362.15 474.67,364.68 475,366.95 475.33,368.86 475.67,370.51 476,371.85 476.33,373.13 476.67,374.13 477,374.83 477.31,374.9 477.63,373.77 478,373.62 478.48,374.33 479.02,375.72 479.5,377.21 479.87,379.1 480.19,381.28 480.5,382.06 480.81,380.55 481.13,377.71 481.5,375.08 481.96,372.55 482.48,370.48 483,368.94 483.5,368.02 484,367.79 484.5,368.18 485.02,368.68 485.54,369.89 486,371.23 486.37,372.62 486.69,374.32 487,376 487.31,377.5 487.63,379.21 488,380.15 488.46,380.63 488.98,380.73 489.5,380.92 489.98,381.25 490.46,381.61 491,381.98 491.63,382.29 492.31,382.34 493,382.32 493.7,382.83 494.41,383.02 495,383.04 495.37,382.59 495.63,382.21 496,382 496.61,382.33 497.33,382.79 498,383.05 498.54,382.59 499.02,382.25 499.5,381.41 499.98,381.78 500.46,382.14 501,382.9 501.63,383.36 502.31,383.68 503,384.06 503.65,383.74 504.3,383.16 505,382.89 505.8,382.64 506.22,382.37 506.65,382.61 507.07,382.5 507.5,382.43 507.92,382.33 508.33,382.77 508.75,382.95 509.17,383.21 509.58,383.41 510,383.37 510.42,383.47 510.83,383.76 511.25,383.8 511.67,384.07 512.08,383.97 512.5,384.15 512.93,384.25 513.35,384.08 513.78,384.05 514.2,384.13 515,383.98 515.7,383.73 516.35,383.39 517,382.87 517.67,382.5 518.33,382.27 519,381.95 519.67,381.67 520.33,381.55 521,381.48 521.7,381.37 522.41,381.15 523,380.54 523.41,379.9 523.7,378.52 524,375.95 524.33,371.18 524.67,364.99 525,359.98 525.3,357.26 525.59,355.83 526,354.98 526.59,354.47 527.3,354.25 528,354.11 528.7,354.57 529.41,354.75 530,355.45 530.41,356.47 530.7,357.79 531,359.68 531.33,362.2 531.67,365.2 532,367.88 532.33,369.9 532.67,371.56 533,373.12 533.31,374.27 533.63,375.32 534,375.57 534.46,374.54 534.98,372.98 535.5,372.01 536.06,371.39 536.61,371.26 537,371" fill="none" stroke="#5b9bd5" stroke-width="0.85" stroke-linejoin="round"/>
<line x1="495" y1="358.6" x2="500.3" y2="358.6" stroke="#92d050" stroke-width="0.9"/>
<text x="501" y="359.6" font-size="2.9" fill="#333">15%</text>
<line x1="495" y1="364.8" x2="500.3" y2="364.8" stroke="#5b9bd5" stroke-width="0.9"/>
<text x="501" y="365.8" font-size="2.9" fill="#333">Energy use (kWh)</text>
</g>
</svg>
</body></html>
